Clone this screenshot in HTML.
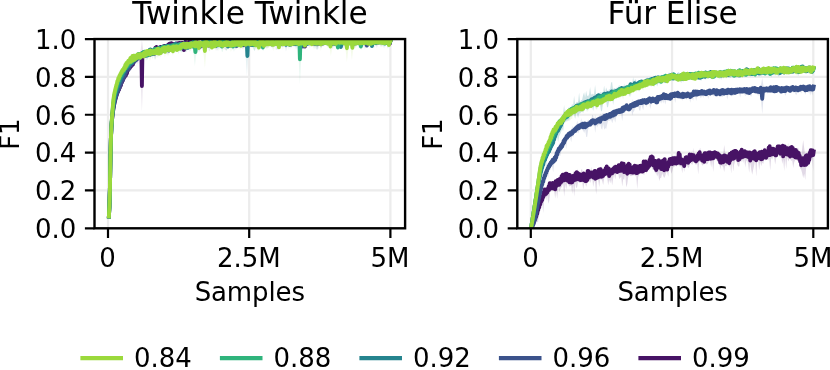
<!DOCTYPE html>
<html><head><meta charset="utf-8"><title>F1 vs Samples</title>
<style>html,body{margin:0;padding:0;background:#fff;}svg{display:block;}</style>
</head><body>
<svg width="830" height="370" viewBox="0 0 830 370" font-family="'DejaVu Sans', 'Liberation Sans', sans-serif" fill="#000">
<rect width="830" height="370" fill="#fff"/>
<defs>
<clipPath id="c0"><rect x="94.5" y="39.05" width="310.6" height="189.25"/></clipPath>
<clipPath id="c1"><rect x="517.3" y="39.05" width="310.6" height="189.25"/></clipPath>
</defs>
<path d="M108.00,39.05V228.3M249.20,39.05V228.3M390.40,39.05V228.3M94.5,190.45H405.1M94.5,152.60H405.1M94.5,114.75H405.1M94.5,76.90H405.1" stroke="#ececec" stroke-width="2.2" fill="none"/>
<g clip-path="url(#c0)">
<path d="M108.9,213.3 109.9,186.0 110.9,137.4 111.9,118.1 112.9,110.4 113.9,104.6 114.9,100.3 115.9,96.6 116.9,92.7 117.9,90.5 118.9,88.5 119.9,85.5 120.9,82.8 121.9,80.4 122.9,78.6 123.9,76.4 124.9,75.6 125.9,74.0 126.9,72.0 127.9,69.2 128.9,66.8 129.9,66.4 130.9,65.2 131.9,64.1 132.9,62.6 133.9,61.1 134.9,59.1 135.9,57.0 136.9,57.1 137.9,56.7 138.9,56.3 139.9,55.5 140.9,48.1 141.9,40.0 142.9,47.4 143.9,53.0 144.9,53.7 145.9,53.0 146.9,52.0 147.9,52.7 148.9,50.8 149.9,51.2 150.9,49.6 151.9,51.7 152.9,51.4 153.9,50.4 154.9,50.8 155.9,49.8 156.9,47.3 157.9,48.4 158.9,48.2 159.9,49.5 160.9,46.8 161.9,47.5 162.9,46.8 163.9,45.4 164.9,46.1 165.9,46.5 166.9,46.0 167.9,45.7 168.9,45.6 169.9,44.7 170.9,45.0 171.9,43.9 172.9,43.7 173.9,45.2 174.9,45.4 175.9,45.4 176.9,45.1 177.9,43.3 178.9,44.0 179.9,43.0 180.9,44.2 181.9,43.9 182.9,43.8 183.9,48.8 184.9,42.5 185.9,43.8 186.9,42.6 187.9,44.3 188.9,43.4 189.9,43.2 190.9,43.1 191.9,42.7 192.9,43.4 193.9,43.2 194.9,43.3 195.9,44.2 196.9,43.5 197.9,42.8 198.9,41.1 199.9,43.5 200.9,43.9 201.9,43.5 202.9,43.5 203.9,42.9 204.9,43.5 205.9,44.2 206.9,43.7 207.9,42.5 208.9,44.0 209.9,43.1 210.9,43.0 211.9,42.2 212.9,41.6 213.9,42.4 214.9,42.6 215.9,42.0 216.9,42.6 217.9,41.7 218.9,42.4 219.9,42.8 220.9,42.7 221.9,42.4 222.9,41.9 223.9,43.3 224.9,43.6 225.9,43.1 226.9,43.4 227.9,42.1 228.9,42.7 229.9,42.0 230.9,41.8 231.9,41.3 232.9,42.2 233.9,41.8 234.9,42.9 235.9,42.5 236.9,43.3 237.9,42.5 238.9,42.7 239.9,41.6 240.9,42.5 241.9,42.0 242.9,43.4 243.9,42.9 244.9,41.3 245.9,41.4 246.9,41.3 247.9,42.1 248.9,41.3 249.9,42.6 250.9,43.1 251.9,41.8 252.9,43.0 253.9,42.3 254.9,42.8 255.9,42.4 256.9,42.8 257.9,42.3 258.9,42.8 259.9,42.5 260.9,42.5 261.9,43.1 262.9,42.3 263.9,42.1 264.9,40.6 265.9,41.7 266.9,41.3 267.9,42.4 268.9,42.1 269.9,41.7 270.9,42.1 271.9,42.3 272.9,42.8 273.9,42.5 274.9,41.4 275.9,42.5 276.9,42.1 277.9,43.0 278.9,42.0 279.9,42.0 280.9,40.9 281.9,42.2 282.9,41.4 283.9,41.8 284.9,41.4 285.9,41.6 286.9,41.6 287.9,42.3 288.9,42.0 289.9,39.2 290.9,39.2 291.9,40.0 292.9,41.7 293.9,41.6 294.9,41.1 295.9,40.1 296.9,41.1 297.9,40.8 298.9,41.9 299.9,42.4 300.9,42.0 301.9,41.9 302.9,41.8 303.9,41.0 304.9,44.9 305.9,41.4 306.9,41.4 307.9,41.5 308.9,41.0 309.9,41.1 310.9,40.9 311.9,41.4 312.9,42.3 313.9,40.8 314.9,41.7 315.9,40.2 316.9,42.0 317.9,41.5 318.9,40.7 319.9,41.3 320.9,40.7 321.9,40.4 322.9,40.8 323.9,41.0 324.9,39.7 325.9,40.5 326.9,39.6 327.9,40.6 328.9,41.4 329.9,41.5 330.9,41.8 331.9,41.3 332.9,39.5 333.9,41.2 334.9,41.9 335.9,41.2 336.9,40.2 337.9,39.7 338.9,40.4 339.9,40.7 340.9,40.3 341.9,38.9 342.9,40.6 343.9,39.4 344.9,39.3 345.9,40.7 346.9,41.1 347.9,40.7 348.9,41.7 349.9,40.6 350.9,40.1 351.9,39.2 352.9,40.5 353.9,40.8 354.9,41.4 355.9,40.5 356.9,41.0 357.9,41.2 358.9,40.6 359.9,39.8 360.9,39.8 361.9,40.5 362.9,40.5 363.9,40.6 364.9,40.7 365.9,41.1 366.9,41.1 367.9,40.4 368.9,40.5 369.9,39.5 370.9,40.9 371.9,40.8 372.9,41.0 373.9,40.9 374.9,40.3 375.9,39.8 376.9,40.2 377.9,40.6 378.9,40.6 379.9,40.3 380.9,40.6 381.9,40.7 382.9,40.1 383.9,39.0 384.9,39.9 385.9,38.9 386.9,41.2 387.9,40.6 388.9,40.6 389.9,40.4 389.9,44.7 388.9,44.9 387.9,43.6 386.9,43.8 385.9,44.5 384.9,44.4 383.9,43.5 382.9,43.1 381.9,43.3 380.9,47.3 379.9,42.9 378.9,43.5 377.9,44.6 376.9,47.9 375.9,45.0 374.9,43.3 373.9,43.8 372.9,45.2 371.9,44.8 370.9,43.6 369.9,45.5 368.9,43.5 367.9,42.9 366.9,43.7 365.9,45.0 364.9,43.6 363.9,44.2 362.9,46.9 361.9,43.4 360.9,44.1 359.9,43.1 358.9,44.9 357.9,45.2 356.9,45.0 355.9,44.0 354.9,44.0 353.9,44.2 352.9,47.2 351.9,48.3 350.9,43.4 349.9,44.1 348.9,44.8 347.9,44.9 346.9,44.0 345.9,48.6 344.9,45.8 343.9,43.6 342.9,44.8 341.9,46.9 340.9,44.0 339.9,43.5 338.9,45.3 337.9,43.0 336.9,45.2 335.9,45.3 334.9,45.3 333.9,46.2 332.9,44.7 331.9,44.6 330.9,45.0 329.9,47.5 328.9,45.8 327.9,43.8 326.9,44.1 325.9,43.9 324.9,45.7 323.9,43.6 322.9,44.2 321.9,46.7 320.9,46.4 319.9,46.6 318.9,43.8 317.9,46.9 316.9,47.0 315.9,46.5 314.9,45.6 313.9,48.0 312.9,44.8 311.9,44.8 310.9,43.6 309.9,48.5 308.9,44.1 307.9,44.3 306.9,44.1 305.9,46.4 304.9,49.8 303.9,44.8 302.9,45.0 301.9,45.3 300.9,49.5 299.9,45.3 298.9,46.6 297.9,44.1 296.9,44.1 295.9,45.0 294.9,44.9 293.9,46.0 292.9,45.5 291.9,43.7 290.9,48.9 289.9,43.5 288.9,45.9 287.9,45.0 286.9,44.9 285.9,48.5 284.9,45.3 283.9,45.8 282.9,44.4 281.9,45.1 280.9,46.3 279.9,46.0 278.9,47.0 277.9,45.6 276.9,45.9 275.9,45.5 274.9,46.2 273.9,45.5 272.9,47.7 271.9,44.8 270.9,45.9 269.9,44.3 268.9,44.9 267.9,45.5 266.9,44.2 265.9,46.6 264.9,44.9 263.9,47.3 262.9,48.8 261.9,46.6 260.9,49.0 259.9,46.7 258.9,46.4 257.9,45.3 256.9,45.2 255.9,45.2 254.9,46.9 253.9,46.7 252.9,45.5 251.9,45.6 250.9,46.3 249.9,46.5 248.9,45.3 247.9,48.2 246.9,44.1 245.9,46.1 244.9,48.2 243.9,47.6 242.9,49.1 241.9,46.5 240.9,47.1 239.9,45.3 238.9,46.0 237.9,45.5 236.9,49.1 235.9,45.3 234.9,48.2 233.9,45.8 232.9,45.2 231.9,45.1 230.9,46.2 229.9,44.9 228.9,46.1 227.9,45.9 226.9,46.0 225.9,46.2 224.9,46.7 223.9,47.3 222.9,45.5 221.9,45.6 220.9,47.4 219.9,45.8 218.9,45.1 217.9,45.2 216.9,46.1 215.9,46.8 214.9,45.4 213.9,45.2 212.9,45.2 211.9,46.4 210.9,45.8 209.9,47.9 208.9,47.2 207.9,47.3 206.9,47.4 205.9,48.6 204.9,46.8 203.9,46.1 202.9,51.1 201.9,46.8 200.9,48.2 199.9,46.5 198.9,47.2 197.9,47.4 196.9,46.5 195.9,48.5 194.9,46.2 193.9,45.7 192.9,48.3 191.9,46.4 190.9,45.6 189.9,46.7 188.9,47.5 187.9,50.4 186.9,45.7 185.9,51.8 184.9,46.2 183.9,53.2 182.9,48.7 181.9,48.1 180.9,47.2 179.9,46.3 178.9,46.4 177.9,47.0 176.9,48.9 175.9,48.5 174.9,49.8 173.9,50.2 172.9,47.6 171.9,48.3 170.9,49.5 169.9,48.5 168.9,48.8 167.9,48.6 166.9,48.8 165.9,50.5 164.9,50.0 163.9,49.3 162.9,49.8 161.9,52.2 160.9,53.8 159.9,52.3 158.9,56.5 157.9,50.8 156.9,54.5 155.9,52.6 154.9,54.2 153.9,55.6 152.9,56.0 151.9,54.3 150.9,54.5 149.9,53.9 148.9,54.3 147.9,55.8 146.9,56.8 145.9,57.0 144.9,57.8 143.9,58.0 142.9,83.4 141.9,112.0 140.9,84.1 139.9,59.8 138.9,60.3 137.9,64.6 136.9,62.0 135.9,61.4 134.9,64.4 133.9,66.6 132.9,66.7 131.9,66.8 130.9,68.0 129.9,69.2 128.9,71.5 127.9,75.9 126.9,74.8 125.9,77.2 124.9,78.1 123.9,80.7 122.9,83.0 121.9,88.8 120.9,86.7 119.9,89.0 118.9,92.3 117.9,93.8 116.9,97.3 115.9,99.5 114.9,103.0 113.9,107.9 112.9,114.0 111.9,124.2 110.9,142.0 109.9,191.0 108.9,218.1Z" fill="#471365" fill-opacity="0.11" stroke="none"/>
<path d="M108.9,215.3 109.9,187.9 110.9,136.9 111.9,119.7 112.9,110.7 113.9,104.3 114.9,99.3 115.9,96.0 116.9,92.9 117.9,89.8 118.9,87.7 119.9,84.9 120.9,82.5 121.9,79.6 122.9,78.2 123.9,75.8 124.9,73.7 125.9,71.4 126.9,69.0 127.9,67.4 128.9,67.6 129.9,64.5 130.9,64.2 131.9,62.0 132.9,61.8 133.9,58.8 134.9,59.9 135.9,58.1 136.9,57.8 137.9,56.5 138.9,55.4 139.9,54.6 140.9,54.6 141.9,55.1 142.9,54.7 143.9,53.9 144.9,54.6 145.9,53.6 146.9,53.4 147.9,52.7 148.9,51.0 149.9,53.3 150.9,52.6 151.9,52.2 152.9,52.7 153.9,52.4 154.9,51.9 155.9,51.2 156.9,50.0 157.9,49.9 158.9,49.6 159.9,49.2 160.9,48.7 161.9,50.0 162.9,48.0 163.9,47.2 164.9,48.1 165.9,48.1 166.9,47.5 167.9,47.1 168.9,49.3 169.9,46.8 170.9,46.9 171.9,46.4 172.9,47.5 173.9,47.7 174.9,47.2 175.9,46.0 176.9,47.1 177.9,46.3 178.9,45.9 179.9,46.4 180.9,46.2 181.9,46.3 182.9,44.7 183.9,44.1 184.9,43.3 185.9,46.3 186.9,45.7 187.9,44.5 188.9,44.7 189.9,43.9 190.9,44.5 191.9,43.8 192.9,43.9 193.9,44.8 194.9,43.9 195.9,43.5 196.9,43.1 197.9,43.5 198.9,43.3 199.9,45.6 200.9,44.7 201.9,43.6 202.9,43.8 203.9,44.8 204.9,44.8 205.9,42.4 206.9,43.6 207.9,43.4 208.9,42.4 209.9,43.7 210.9,42.8 211.9,42.3 212.9,41.5 213.9,42.4 214.9,42.9 215.9,42.8 216.9,43.2 217.9,42.4 218.9,42.4 219.9,42.8 220.9,42.0 221.9,43.1 222.9,43.1 223.9,42.5 224.9,42.5 225.9,42.3 226.9,41.8 227.9,42.2 228.9,41.6 229.9,41.9 230.9,43.4 231.9,43.4 232.9,41.4 233.9,42.3 234.9,42.9 235.9,44.4 236.9,44.7 237.9,43.8 238.9,42.4 239.9,41.3 240.9,40.9 241.9,42.9 242.9,43.3 243.9,43.5 244.9,42.6 245.9,41.5 246.9,43.0 247.9,42.7 248.9,42.1 249.9,42.0 250.9,42.4 251.9,42.2 252.9,43.6 253.9,41.7 254.9,42.6 255.9,41.9 256.9,41.6 257.9,40.1 258.9,40.8 259.9,41.7 260.9,41.6 261.9,42.3 262.9,42.3 263.9,42.3 264.9,41.6 265.9,42.5 266.9,40.1 267.9,42.6 268.9,41.3 269.9,41.2 270.9,42.2 271.9,41.2 272.9,42.3 273.9,42.0 274.9,39.9 275.9,42.0 276.9,41.2 277.9,41.0 278.9,41.8 279.9,40.4 280.9,42.2 281.9,43.1 282.9,42.2 283.9,42.4 284.9,40.2 285.9,40.8 286.9,41.6 287.9,42.1 288.9,41.8 289.9,43.0 290.9,42.7 291.9,42.3 292.9,41.8 293.9,42.4 294.9,42.5 295.9,41.8 296.9,41.7 297.9,41.3 298.9,41.2 299.9,41.4 300.9,42.8 301.9,42.0 302.9,45.2 303.9,41.9 304.9,42.5 305.9,41.8 306.9,40.8 307.9,42.0 308.9,41.9 309.9,41.5 310.9,41.4 311.9,40.6 312.9,40.4 313.9,40.9 314.9,40.3 315.9,39.4 316.9,40.4 317.9,41.8 318.9,40.7 319.9,42.5 320.9,40.5 321.9,41.8 322.9,42.1 323.9,41.1 324.9,39.7 325.9,40.2 326.9,41.5 327.9,40.7 328.9,40.3 329.9,41.4 330.9,41.5 331.9,42.9 332.9,42.0 333.9,41.6 334.9,41.1 335.9,41.4 336.9,41.1 337.9,40.0 338.9,40.6 339.9,41.0 340.9,41.4 341.9,41.2 342.9,41.3 343.9,41.6 344.9,41.2 345.9,40.6 346.9,40.0 347.9,40.4 348.9,40.3 349.9,40.7 350.9,40.7 351.9,41.4 352.9,41.4 353.9,42.1 354.9,40.8 355.9,41.6 356.9,41.0 357.9,40.6 358.9,41.0 359.9,40.7 360.9,41.3 361.9,39.8 362.9,39.7 363.9,41.9 364.9,41.9 365.9,42.2 366.9,43.1 367.9,41.1 368.9,40.4 369.9,41.3 370.9,40.7 371.9,40.5 372.9,40.4 373.9,40.1 374.9,40.8 375.9,41.7 376.9,41.3 377.9,40.7 378.9,40.3 379.9,40.1 380.9,40.4 381.9,40.4 382.9,39.4 383.9,40.1 384.9,39.1 385.9,40.6 386.9,41.7 387.9,40.7 388.9,40.5 389.9,39.2 389.9,44.3 388.9,48.3 387.9,43.7 386.9,45.1 385.9,43.1 384.9,44.0 383.9,48.2 382.9,45.2 381.9,45.3 380.9,43.0 379.9,43.0 378.9,44.2 377.9,43.4 376.9,44.5 375.9,46.5 374.9,43.3 373.9,44.2 372.9,43.1 371.9,46.5 370.9,46.6 369.9,44.1 368.9,43.6 367.9,43.8 366.9,46.7 365.9,45.3 364.9,49.7 363.9,44.4 362.9,44.2 361.9,44.2 360.9,43.8 359.9,43.2 358.9,43.5 357.9,43.7 356.9,43.8 355.9,48.0 354.9,46.1 353.9,46.9 352.9,46.8 351.9,47.0 350.9,44.4 349.9,43.4 348.9,46.8 347.9,43.1 346.9,43.8 345.9,43.7 344.9,44.1 343.9,49.4 342.9,46.1 341.9,48.4 340.9,43.9 339.9,45.7 338.9,43.2 337.9,43.0 336.9,45.8 335.9,43.9 334.9,43.5 333.9,45.8 332.9,48.0 331.9,49.3 330.9,44.9 329.9,43.9 328.9,44.6 327.9,43.9 326.9,44.2 325.9,44.4 324.9,45.6 323.9,44.5 322.9,44.9 321.9,47.6 320.9,48.2 319.9,44.9 318.9,44.7 317.9,49.4 316.9,49.3 315.9,43.6 314.9,44.4 313.9,43.5 312.9,45.6 311.9,46.5 310.9,43.9 309.9,45.4 308.9,44.5 307.9,44.6 306.9,44.6 305.9,47.0 304.9,45.9 303.9,45.2 302.9,48.6 301.9,45.5 300.9,45.2 299.9,49.6 298.9,46.4 297.9,45.0 296.9,45.0 295.9,49.2 294.9,45.3 293.9,47.7 292.9,45.1 291.9,48.1 290.9,45.8 289.9,46.9 288.9,45.2 287.9,45.1 286.9,47.9 285.9,44.0 284.9,43.7 283.9,47.3 282.9,45.2 281.9,46.2 280.9,45.6 279.9,48.4 278.9,46.6 277.9,49.4 276.9,49.5 275.9,49.9 274.9,44.3 273.9,45.7 272.9,45.3 271.9,47.0 270.9,45.1 269.9,46.2 268.9,44.1 267.9,48.5 266.9,46.2 265.9,48.2 264.9,44.5 263.9,45.7 262.9,46.3 261.9,45.6 260.9,45.2 259.9,44.8 258.9,44.8 257.9,43.9 256.9,45.0 255.9,46.5 254.9,45.2 253.9,45.4 252.9,47.6 251.9,47.6 250.9,45.2 249.9,44.8 248.9,45.3 247.9,48.5 246.9,46.3 245.9,48.3 244.9,46.9 243.9,46.8 242.9,46.0 241.9,47.5 240.9,43.8 239.9,44.1 238.9,45.8 237.9,46.5 236.9,47.8 235.9,49.2 234.9,45.7 233.9,46.0 232.9,50.2 231.9,47.7 230.9,47.5 229.9,47.7 228.9,45.7 227.9,45.2 226.9,49.9 225.9,50.3 224.9,49.7 223.9,46.1 222.9,48.9 221.9,47.0 220.9,45.1 219.9,46.3 218.9,45.6 217.9,49.6 216.9,50.9 215.9,47.5 214.9,47.3 213.9,45.1 212.9,43.9 211.9,47.7 210.9,45.6 209.9,51.5 208.9,46.5 207.9,46.4 206.9,50.6 205.9,46.8 204.9,47.8 203.9,48.0 202.9,46.7 201.9,46.7 200.9,47.6 199.9,51.2 198.9,51.5 197.9,46.1 196.9,46.4 195.9,46.7 194.9,46.4 193.9,47.7 192.9,47.5 191.9,46.9 190.9,46.9 189.9,47.8 188.9,49.4 187.9,47.7 186.9,49.4 185.9,52.6 184.9,48.2 183.9,47.6 182.9,51.0 181.9,49.1 180.9,52.0 179.9,49.1 178.9,49.0 177.9,50.7 176.9,50.1 175.9,51.5 174.9,51.8 173.9,51.4 172.9,51.4 171.9,52.1 170.9,50.1 169.9,50.2 168.9,54.0 167.9,52.1 166.9,55.1 165.9,52.3 164.9,50.6 163.9,51.6 162.9,54.7 161.9,52.4 160.9,52.5 159.9,55.1 158.9,52.9 157.9,53.4 156.9,53.5 155.9,58.3 154.9,59.9 153.9,55.4 152.9,56.1 151.9,55.4 150.9,56.2 149.9,56.3 148.9,54.5 147.9,55.8 146.9,57.7 145.9,57.8 144.9,57.5 143.9,56.8 142.9,57.3 141.9,61.1 140.9,57.3 139.9,58.1 138.9,58.5 137.9,59.3 136.9,62.6 135.9,63.7 134.9,62.6 133.9,65.9 132.9,64.4 131.9,66.5 130.9,68.2 129.9,71.5 128.9,72.4 127.9,70.8 126.9,75.5 125.9,74.1 124.9,76.5 123.9,82.9 122.9,82.0 121.9,86.5 120.9,85.9 119.9,88.2 118.9,91.7 117.9,93.7 116.9,95.5 115.9,98.6 114.9,103.0 113.9,107.5 112.9,116.7 111.9,122.4 110.9,142.0 109.9,191.1 108.9,218.9Z" fill="#3b528b" fill-opacity="0.11" stroke="none"/>
<path d="M108.9,215.2 109.9,187.8 110.9,135.6 111.9,118.6 112.9,107.4 113.9,100.6 114.9,94.0 115.9,90.6 116.9,88.3 117.9,85.0 118.9,82.2 119.9,79.7 120.9,77.3 121.9,73.6 122.9,72.6 123.9,70.0 124.9,68.6 125.9,66.4 126.9,66.0 127.9,64.2 128.9,62.6 129.9,62.0 130.9,62.2 131.9,61.6 132.9,58.5 133.9,57.9 134.9,57.5 135.9,56.8 136.9,56.5 137.9,56.2 138.9,56.8 139.9,56.9 140.9,54.5 141.9,53.9 142.9,54.4 143.9,53.6 144.9,52.5 145.9,51.8 146.9,53.9 147.9,53.5 148.9,50.6 149.9,51.6 150.9,52.2 151.9,51.9 152.9,52.0 153.9,50.7 154.9,50.5 155.9,51.0 156.9,50.3 157.9,50.4 158.9,49.8 159.9,49.6 160.9,49.0 161.9,49.0 162.9,48.9 163.9,47.9 164.9,48.2 165.9,48.5 166.9,46.7 167.9,47.1 168.9,46.0 169.9,46.6 170.9,45.6 171.9,46.3 172.9,46.3 173.9,44.8 174.9,47.1 175.9,46.9 176.9,46.8 177.9,46.3 178.9,45.5 179.9,45.6 180.9,43.9 181.9,45.5 182.9,44.8 183.9,44.5 184.9,44.6 185.9,44.9 186.9,44.5 187.9,46.5 188.9,45.7 189.9,45.3 190.9,45.1 191.9,43.2 192.9,42.9 193.9,42.8 194.9,43.7 195.9,43.9 196.9,43.7 197.9,44.3 198.9,43.8 199.9,44.3 200.9,43.3 201.9,42.5 202.9,41.0 203.9,42.4 204.9,42.8 205.9,43.5 206.9,42.3 207.9,41.8 208.9,42.9 209.9,43.5 210.9,43.4 211.9,43.6 212.9,43.4 213.9,44.6 214.9,42.5 215.9,43.5 216.9,43.9 217.9,43.4 218.9,43.1 219.9,43.7 220.9,43.3 221.9,43.8 222.9,42.7 223.9,42.4 224.9,41.7 225.9,42.7 226.9,41.5 227.9,44.9 228.9,44.3 229.9,44.5 230.9,42.6 231.9,43.0 232.9,42.4 233.9,42.9 234.9,40.9 235.9,41.6 236.9,41.4 237.9,42.6 238.9,41.8 239.9,42.2 240.9,41.7 241.9,42.0 242.9,40.4 243.9,40.3 244.9,42.2 245.9,41.9 246.9,40.0 247.9,41.9 248.9,42.1 249.9,41.9 250.9,43.4 251.9,42.7 252.9,42.9 253.9,43.8 254.9,43.2 255.9,41.1 256.9,41.4 257.9,41.0 258.9,42.4 259.9,43.7 260.9,43.1 261.9,43.0 262.9,41.7 263.9,42.3 264.9,40.6 265.9,41.6 266.9,41.9 267.9,41.4 268.9,42.0 269.9,41.6 270.9,41.9 271.9,41.0 272.9,42.7 273.9,42.3 274.9,42.6 275.9,41.2 276.9,42.1 277.9,42.3 278.9,41.2 279.9,41.4 280.9,41.2 281.9,42.2 282.9,40.1 283.9,41.5 284.9,40.9 285.9,43.1 286.9,42.7 287.9,42.0 288.9,41.5 289.9,43.2 290.9,43.0 291.9,42.7 292.9,42.9 293.9,42.4 294.9,41.7 295.9,42.5 296.9,42.4 297.9,41.9 298.9,41.8 299.9,41.7 300.9,42.0 301.9,42.3 302.9,42.1 303.9,40.8 304.9,41.2 305.9,42.2 306.9,42.7 307.9,41.5 308.9,40.2 309.9,40.3 310.9,40.6 311.9,40.6 312.9,40.8 313.9,40.5 314.9,42.1 315.9,42.3 316.9,41.0 317.9,40.1 318.9,40.2 319.9,40.6 320.9,39.2 321.9,41.2 322.9,41.1 323.9,40.2 324.9,40.6 325.9,41.5 326.9,41.9 327.9,42.0 328.9,40.9 329.9,41.3 330.9,41.4 331.9,40.5 332.9,41.7 333.9,41.6 334.9,41.5 335.9,40.1 336.9,40.4 337.9,39.3 338.9,41.4 339.9,41.3 340.9,45.4 341.9,39.5 342.9,39.8 343.9,41.0 344.9,40.9 345.9,38.7 346.9,40.2 347.9,39.9 348.9,40.2 349.9,41.0 350.9,40.9 351.9,40.2 352.9,41.1 353.9,41.5 354.9,42.0 355.9,41.7 356.9,41.2 357.9,39.8 358.9,41.1 359.9,40.7 360.9,39.5 361.9,40.8 362.9,41.1 363.9,41.1 364.9,41.5 365.9,40.0 366.9,40.6 367.9,40.9 368.9,40.9 369.9,40.9 370.9,41.8 371.9,44.6 372.9,41.1 373.9,39.7 374.9,40.1 375.9,39.2 376.9,40.7 377.9,40.3 378.9,39.8 379.9,39.6 380.9,40.9 381.9,40.3 382.9,40.6 383.9,40.6 384.9,40.0 385.9,40.3 386.9,41.0 387.9,39.6 388.9,40.8 389.9,40.0 389.9,43.4 388.9,43.8 387.9,47.8 386.9,45.6 385.9,43.7 384.9,48.6 383.9,43.4 382.9,44.2 381.9,43.5 380.9,43.6 379.9,45.0 378.9,43.5 377.9,43.8 376.9,44.0 375.9,46.2 374.9,43.4 373.9,45.3 372.9,47.4 371.9,47.4 370.9,44.5 369.9,44.2 368.9,44.0 367.9,43.6 366.9,43.7 365.9,47.4 364.9,44.5 363.9,45.5 362.9,44.7 361.9,48.7 360.9,44.7 359.9,44.6 358.9,44.9 357.9,46.0 356.9,45.7 355.9,44.4 354.9,47.2 353.9,45.7 352.9,44.4 351.9,43.6 350.9,44.4 349.9,43.5 348.9,43.6 347.9,43.2 346.9,44.7 345.9,44.0 344.9,43.5 343.9,44.8 342.9,43.0 341.9,44.6 340.9,48.2 339.9,45.2 338.9,45.5 337.9,46.2 336.9,43.6 335.9,44.7 334.9,47.0 333.9,45.0 332.9,46.3 331.9,45.9 330.9,44.0 329.9,44.6 328.9,43.3 327.9,47.6 326.9,44.4 325.9,45.0 324.9,44.0 323.9,43.3 322.9,43.9 321.9,44.2 320.9,45.1 319.9,45.1 318.9,44.8 317.9,45.6 316.9,49.5 315.9,49.2 314.9,45.0 313.9,43.7 312.9,45.5 311.9,43.5 310.9,43.8 309.9,44.9 308.9,44.6 307.9,44.6 306.9,48.4 305.9,45.0 304.9,45.9 303.9,44.0 302.9,44.9 301.9,45.8 300.9,45.4 299.9,45.2 298.9,45.1 297.9,45.4 296.9,46.5 295.9,46.7 294.9,47.3 293.9,45.2 292.9,46.3 291.9,45.9 290.9,45.9 289.9,46.9 288.9,45.1 287.9,44.8 286.9,48.0 285.9,51.4 284.9,44.2 283.9,45.9 282.9,44.9 281.9,45.7 280.9,46.4 279.9,44.2 278.9,46.3 277.9,46.1 276.9,44.7 275.9,44.8 274.9,47.1 273.9,45.3 272.9,45.5 271.9,46.9 270.9,47.4 269.9,44.2 268.9,46.0 267.9,43.9 266.9,48.9 265.9,47.1 264.9,45.1 263.9,46.2 262.9,46.7 261.9,46.4 260.9,47.7 259.9,46.4 258.9,45.7 257.9,44.8 256.9,49.4 255.9,45.8 254.9,51.1 253.9,49.9 252.9,47.2 251.9,46.1 250.9,46.1 249.9,44.6 248.9,49.9 247.9,59.9 246.9,76.0 245.9,59.9 244.9,45.1 243.9,46.9 242.9,48.7 241.9,45.6 240.9,49.9 239.9,45.8 238.9,47.1 237.9,47.1 236.9,45.0 235.9,44.5 234.9,46.2 233.9,47.4 232.9,45.2 231.9,45.8 230.9,46.5 229.9,47.1 228.9,46.8 227.9,49.1 226.9,46.8 225.9,46.0 224.9,46.8 223.9,46.6 222.9,45.4 221.9,47.4 220.9,49.1 219.9,47.3 218.9,48.8 217.9,46.4 216.9,47.1 215.9,49.4 214.9,47.0 213.9,47.2 212.9,47.1 211.9,47.6 210.9,47.3 209.9,47.4 208.9,46.4 207.9,46.0 206.9,45.1 205.9,48.0 204.9,50.6 203.9,45.7 202.9,45.1 201.9,46.0 200.9,46.2 199.9,46.8 198.9,48.5 197.9,52.9 196.9,47.8 195.9,48.0 194.9,51.3 193.9,46.5 192.9,46.8 191.9,46.3 190.9,48.1 189.9,48.2 188.9,49.8 187.9,49.0 186.9,49.7 185.9,48.8 184.9,52.1 183.9,47.5 182.9,49.1 181.9,48.9 180.9,48.1 179.9,48.6 178.9,54.0 177.9,52.0 176.9,50.3 175.9,50.7 174.9,51.1 173.9,49.1 172.9,54.1 171.9,49.2 170.9,49.6 169.9,51.0 168.9,49.4 167.9,51.0 166.9,50.0 165.9,52.5 164.9,53.4 163.9,51.2 162.9,51.8 161.9,55.0 160.9,52.4 159.9,53.0 158.9,53.0 157.9,58.2 156.9,53.6 155.9,54.1 154.9,53.6 153.9,54.5 152.9,58.8 151.9,56.9 150.9,55.0 149.9,56.0 148.9,54.7 147.9,59.3 146.9,59.5 145.9,60.8 144.9,55.5 143.9,56.6 142.9,62.2 141.9,57.9 140.9,59.4 139.9,59.5 138.9,59.6 137.9,60.2 136.9,60.0 135.9,60.2 134.9,62.0 133.9,64.3 132.9,63.0 131.9,64.4 130.9,64.9 129.9,70.1 128.9,67.2 127.9,68.1 126.9,70.4 125.9,73.5 124.9,71.0 123.9,78.6 122.9,76.1 121.9,78.2 120.9,80.5 119.9,88.1 118.9,86.2 117.9,88.1 116.9,91.2 115.9,94.1 114.9,98.2 113.9,105.4 112.9,111.5 111.9,122.2 110.9,140.1 109.9,190.3 108.9,220.2Z" fill="#25848e" fill-opacity="0.11" stroke="none"/>
<path d="M108.9,215.3 109.9,186.8 110.9,136.6 111.9,117.9 112.9,106.3 113.9,97.4 114.9,91.3 115.9,87.4 116.9,85.0 117.9,81.7 118.9,78.7 119.9,75.9 120.9,74.7 121.9,72.9 122.9,70.8 123.9,69.5 124.9,66.7 125.9,65.3 126.9,64.0 127.9,63.8 128.9,63.0 129.9,61.6 130.9,61.1 131.9,58.7 132.9,58.8 133.9,58.4 134.9,58.1 135.9,57.2 136.9,55.9 137.9,55.1 138.9,53.7 139.9,55.2 140.9,54.9 141.9,54.2 142.9,54.6 143.9,52.9 144.9,51.8 145.9,53.1 146.9,53.8 147.9,53.1 148.9,52.3 149.9,51.1 150.9,52.2 151.9,52.4 152.9,52.1 153.9,50.9 154.9,50.5 155.9,50.6 156.9,48.6 157.9,49.8 158.9,50.4 159.9,49.0 160.9,49.4 161.9,48.3 162.9,49.6 163.9,48.3 164.9,48.4 165.9,46.9 166.9,48.0 167.9,48.7 168.9,47.6 169.9,46.7 170.9,47.5 171.9,47.2 172.9,46.8 173.9,45.9 174.9,46.0 175.9,45.8 176.9,44.7 177.9,45.8 178.9,45.5 179.9,46.3 180.9,46.9 181.9,46.4 182.9,45.1 183.9,44.9 184.9,46.4 185.9,45.6 186.9,45.5 187.9,45.3 188.9,43.2 189.9,44.6 190.9,43.7 191.9,44.5 192.9,43.6 193.9,43.6 194.9,40.0 195.9,43.6 196.9,45.1 197.9,45.0 198.9,44.3 199.9,42.5 200.9,43.4 201.9,43.3 202.9,43.2 203.9,43.1 204.9,43.0 205.9,43.6 206.9,42.3 207.9,42.2 208.9,43.8 209.9,41.8 210.9,41.3 211.9,44.0 212.9,43.5 213.9,43.8 214.9,43.3 215.9,43.0 216.9,41.9 217.9,42.7 218.9,43.0 219.9,43.6 220.9,43.6 221.9,44.1 222.9,42.1 223.9,41.1 224.9,41.5 225.9,43.1 226.9,42.9 227.9,42.1 228.9,42.9 229.9,43.9 230.9,41.4 231.9,43.7 232.9,43.4 233.9,44.0 234.9,43.4 235.9,43.5 236.9,43.6 237.9,43.1 238.9,42.7 239.9,42.1 240.9,43.3 241.9,43.5 242.9,42.7 243.9,41.1 244.9,42.4 245.9,41.9 246.9,41.6 247.9,42.1 248.9,42.1 249.9,41.0 250.9,41.9 251.9,41.6 252.9,42.8 253.9,43.4 254.9,42.0 255.9,42.9 256.9,43.8 257.9,43.8 258.9,43.7 259.9,42.6 260.9,41.5 261.9,41.7 262.9,45.3 263.9,42.2 264.9,41.7 265.9,41.7 266.9,41.5 267.9,41.3 268.9,40.1 269.9,41.8 270.9,41.6 271.9,41.4 272.9,42.3 273.9,41.3 274.9,40.7 275.9,41.6 276.9,41.9 277.9,41.5 278.9,39.0 279.9,40.7 280.9,41.8 281.9,42.3 282.9,40.1 283.9,41.4 284.9,41.9 285.9,41.6 286.9,42.1 287.9,41.3 288.9,41.7 289.9,40.1 290.9,40.4 291.9,39.4 292.9,41.3 293.9,40.7 294.9,41.6 295.9,40.9 296.9,42.1 297.9,41.9 298.9,41.1 299.9,40.0 300.9,41.8 301.9,42.7 302.9,40.8 303.9,41.8 304.9,41.9 305.9,41.0 306.9,40.2 307.9,41.3 308.9,41.8 309.9,40.9 310.9,40.8 311.9,41.6 312.9,40.8 313.9,41.4 314.9,41.4 315.9,41.3 316.9,41.6 317.9,41.7 318.9,41.6 319.9,40.6 320.9,42.2 321.9,41.2 322.9,39.7 323.9,41.6 324.9,41.1 325.9,40.6 326.9,40.5 327.9,41.6 328.9,41.6 329.9,41.9 330.9,40.7 331.9,40.9 332.9,41.1 333.9,40.4 334.9,42.5 335.9,42.1 336.9,41.1 337.9,45.3 338.9,41.7 339.9,41.3 340.9,41.8 341.9,41.4 342.9,42.0 343.9,41.4 344.9,41.2 345.9,41.5 346.9,41.4 347.9,41.7 348.9,41.2 349.9,41.6 350.9,41.2 351.9,39.1 352.9,39.7 353.9,40.8 354.9,41.3 355.9,41.1 356.9,40.3 357.9,40.7 358.9,40.5 359.9,39.8 360.9,45.2 361.9,41.5 362.9,41.0 363.9,40.5 364.9,40.1 365.9,40.4 366.9,40.4 367.9,39.7 368.9,40.7 369.9,41.2 370.9,40.9 371.9,40.4 372.9,40.9 373.9,40.4 374.9,41.1 375.9,41.6 376.9,41.2 377.9,41.0 378.9,40.7 379.9,40.0 380.9,38.4 381.9,40.3 382.9,41.2 383.9,39.9 384.9,40.8 385.9,39.5 386.9,41.1 387.9,39.3 388.9,41.2 389.9,41.4 389.9,44.7 388.9,45.4 387.9,49.0 386.9,45.6 385.9,43.9 384.9,44.8 383.9,44.1 382.9,45.4 381.9,47.3 380.9,44.9 379.9,42.8 378.9,43.5 377.9,44.2 376.9,43.8 375.9,44.2 374.9,46.6 373.9,48.1 372.9,46.2 371.9,45.8 370.9,45.4 369.9,45.2 368.9,43.6 367.9,44.9 366.9,44.7 365.9,42.9 364.9,44.7 363.9,47.6 362.9,44.2 361.9,44.0 360.9,47.7 359.9,47.1 358.9,48.4 357.9,43.2 356.9,45.5 355.9,45.2 354.9,44.4 353.9,44.8 352.9,44.9 351.9,44.7 350.9,47.7 349.9,45.9 348.9,44.7 347.9,47.9 346.9,44.3 345.9,49.0 344.9,47.1 343.9,44.8 342.9,45.9 341.9,45.0 340.9,45.5 339.9,47.8 338.9,46.6 337.9,48.7 336.9,44.3 335.9,45.9 334.9,45.6 333.9,43.9 332.9,45.2 331.9,45.9 330.9,44.3 329.9,44.8 328.9,44.3 327.9,46.2 326.9,44.1 325.9,43.6 324.9,43.7 323.9,45.3 322.9,44.2 321.9,46.0 320.9,45.2 319.9,44.5 318.9,45.5 317.9,49.7 316.9,44.9 315.9,44.5 314.9,49.6 313.9,44.4 312.9,44.2 311.9,47.1 310.9,43.6 309.9,43.9 308.9,44.6 307.9,45.2 306.9,44.7 305.9,45.6 304.9,46.4 303.9,45.0 302.9,45.8 301.9,46.1 300.9,63.8 299.9,84.0 298.9,63.7 297.9,44.8 296.9,50.0 295.9,46.3 294.9,44.0 293.9,45.0 292.9,44.9 291.9,43.8 290.9,44.9 289.9,45.3 288.9,49.8 287.9,44.7 286.9,46.6 285.9,47.5 284.9,46.9 283.9,44.6 282.9,44.6 281.9,45.2 280.9,44.7 279.9,43.2 278.9,43.3 277.9,48.8 276.9,46.5 275.9,44.4 274.9,47.1 273.9,45.7 272.9,50.1 271.9,45.2 270.9,44.8 269.9,46.2 268.9,44.8 267.9,44.8 266.9,44.5 265.9,44.4 264.9,44.4 263.9,50.0 262.9,51.3 261.9,44.2 260.9,46.8 259.9,47.2 258.9,46.2 257.9,47.7 256.9,46.8 255.9,46.8 254.9,50.4 253.9,50.2 252.9,46.4 251.9,45.0 250.9,45.3 249.9,44.3 248.9,47.3 247.9,46.8 246.9,45.4 245.9,45.0 244.9,44.8 243.9,46.9 242.9,45.3 241.9,47.1 240.9,45.7 239.9,46.3 238.9,46.3 237.9,46.4 236.9,46.6 235.9,49.6 234.9,49.1 233.9,51.8 232.9,48.0 231.9,47.2 230.9,45.9 229.9,47.0 228.9,46.7 227.9,45.8 226.9,50.8 225.9,50.7 224.9,45.5 223.9,45.1 222.9,51.4 221.9,51.9 220.9,46.9 219.9,46.4 218.9,51.1 217.9,47.6 216.9,45.9 215.9,50.7 214.9,46.3 213.9,47.3 212.9,48.3 211.9,49.7 210.9,45.3 209.9,47.3 208.9,51.6 207.9,45.9 206.9,48.4 205.9,47.1 204.9,51.2 203.9,46.6 202.9,45.9 201.9,46.4 200.9,48.6 199.9,49.4 198.9,46.9 197.9,47.4 196.9,52.9 195.9,56.6 194.9,66.0 193.9,56.6 192.9,47.1 191.9,47.1 190.9,46.5 189.9,52.2 188.9,48.0 187.9,47.9 186.9,51.5 185.9,51.8 184.9,50.2 183.9,48.1 182.9,49.3 181.9,52.4 180.9,52.4 179.9,48.9 178.9,47.9 177.9,51.2 176.9,51.4 175.9,49.6 174.9,49.3 173.9,48.5 172.9,50.1 171.9,50.6 170.9,50.4 169.9,49.4 168.9,51.3 167.9,54.4 166.9,51.6 165.9,51.1 164.9,53.7 163.9,52.7 162.9,52.7 161.9,54.0 160.9,52.0 159.9,56.4 158.9,53.7 157.9,54.6 156.9,54.6 155.9,54.1 154.9,58.7 153.9,53.4 152.9,54.5 151.9,57.0 150.9,56.4 149.9,55.9 148.9,55.9 147.9,55.9 146.9,57.3 145.9,55.8 144.9,55.1 143.9,56.4 142.9,57.0 141.9,58.1 140.9,58.1 139.9,57.7 138.9,57.5 137.9,61.6 136.9,58.6 135.9,64.5 134.9,61.0 133.9,61.4 132.9,61.8 131.9,62.9 130.9,63.6 129.9,65.3 128.9,65.7 127.9,67.2 126.9,68.6 125.9,69.7 124.9,69.8 123.9,77.7 122.9,77.0 121.9,75.9 120.9,78.9 119.9,80.1 118.9,82.0 117.9,84.8 116.9,88.8 115.9,93.1 114.9,96.6 113.9,101.2 112.9,110.8 111.9,121.0 110.9,140.2 109.9,190.7 108.9,218.0Z" fill="#2fb47c" fill-opacity="0.11" stroke="none"/>
<path d="M108.9,215.0 109.9,187.6 110.9,136.0 111.9,117.2 112.9,104.1 113.9,94.4 114.9,89.2 115.9,85.6 116.9,81.7 117.9,79.4 118.9,77.3 119.9,73.8 120.9,72.6 121.9,71.1 122.9,69.5 123.9,68.8 124.9,66.8 125.9,65.5 126.9,64.1 127.9,61.7 128.9,61.3 129.9,59.3 130.9,58.7 131.9,58.3 132.9,59.0 133.9,58.3 134.9,57.8 135.9,57.2 136.9,56.8 137.9,56.2 138.9,55.8 139.9,56.6 140.9,55.8 141.9,54.6 142.9,54.1 143.9,55.2 144.9,53.2 145.9,52.3 146.9,53.3 147.9,50.2 148.9,52.3 149.9,52.9 150.9,52.3 151.9,52.1 152.9,51.6 153.9,51.7 154.9,51.5 155.9,51.8 156.9,51.4 157.9,51.3 158.9,52.1 159.9,51.0 160.9,50.3 161.9,49.2 162.9,49.0 163.9,49.4 164.9,50.7 165.9,48.0 166.9,46.8 167.9,48.3 168.9,49.0 169.9,48.4 170.9,48.0 171.9,47.9 172.9,49.2 173.9,47.7 174.9,48.2 175.9,47.6 176.9,47.3 177.9,47.0 178.9,47.2 179.9,47.2 180.9,46.2 181.9,45.2 182.9,44.7 183.9,44.4 184.9,45.6 185.9,45.8 186.9,44.8 187.9,45.4 188.9,45.1 189.9,45.6 190.9,45.1 191.9,42.4 192.9,42.4 193.9,42.8 194.9,45.0 195.9,44.8 196.9,42.7 197.9,43.7 198.9,46.5 199.9,43.6 200.9,43.8 201.9,44.0 202.9,44.4 203.9,43.0 204.9,40.0 205.9,42.6 206.9,43.4 207.9,44.3 208.9,43.4 209.9,44.1 210.9,44.2 211.9,46.3 212.9,43.9 213.9,45.1 214.9,44.3 215.9,43.7 216.9,43.1 217.9,42.9 218.9,43.5 219.9,43.8 220.9,43.5 221.9,42.2 222.9,44.0 223.9,43.3 224.9,42.9 225.9,43.2 226.9,44.0 227.9,41.5 228.9,43.6 229.9,44.2 230.9,44.3 231.9,44.2 232.9,43.8 233.9,43.8 234.9,43.7 235.9,43.5 236.9,42.0 237.9,41.4 238.9,42.8 239.9,42.7 240.9,42.8 241.9,42.3 242.9,42.6 243.9,40.7 244.9,43.1 245.9,43.4 246.9,42.3 247.9,40.5 248.9,42.2 249.9,41.3 250.9,42.2 251.9,41.9 252.9,42.1 253.9,42.5 254.9,43.1 255.9,43.9 256.9,42.7 257.9,43.3 258.9,46.0 259.9,40.4 260.9,40.7 261.9,42.6 262.9,43.2 263.9,44.4 264.9,43.1 265.9,42.4 266.9,42.6 267.9,42.7 268.9,42.9 269.9,42.8 270.9,41.6 271.9,43.4 272.9,43.2 273.9,43.2 274.9,42.5 275.9,42.9 276.9,42.5 277.9,42.8 278.9,45.7 279.9,41.4 280.9,42.5 281.9,42.5 282.9,42.6 283.9,42.7 284.9,42.9 285.9,42.2 286.9,42.5 287.9,42.4 288.9,42.8 289.9,43.3 290.9,42.9 291.9,42.3 292.9,42.7 293.9,40.3 294.9,41.5 295.9,41.9 296.9,42.4 297.9,41.2 298.9,43.0 299.9,41.3 300.9,42.1 301.9,41.8 302.9,41.2 303.9,40.9 304.9,44.2 305.9,41.4 306.9,41.5 307.9,41.4 308.9,41.3 309.9,40.2 310.9,42.5 311.9,43.0 312.9,41.9 313.9,41.8 314.9,41.8 315.9,42.2 316.9,42.0 317.9,41.9 318.9,41.3 319.9,42.3 320.9,42.8 321.9,42.1 322.9,40.4 323.9,41.5 324.9,41.2 325.9,41.6 326.9,41.2 327.9,40.8 328.9,41.6 329.9,41.7 330.9,40.0 331.9,41.6 332.9,40.1 333.9,41.5 334.9,42.2 335.9,42.6 336.9,41.4 337.9,40.4 338.9,40.6 339.9,40.7 340.9,40.1 341.9,40.9 342.9,41.1 343.9,41.4 344.9,40.5 345.9,41.1 346.9,40.0 347.9,40.9 348.9,41.3 349.9,40.5 350.9,41.7 351.9,40.0 352.9,41.8 353.9,42.4 354.9,40.8 355.9,41.1 356.9,41.9 357.9,40.8 358.9,40.8 359.9,42.0 360.9,42.0 361.9,40.6 362.9,41.5 363.9,41.4 364.9,41.7 365.9,40.9 366.9,41.7 367.9,41.6 368.9,42.1 369.9,41.7 370.9,40.8 371.9,41.6 372.9,41.2 373.9,41.4 374.9,41.1 375.9,40.9 376.9,40.9 377.9,41.4 378.9,39.9 379.9,41.3 380.9,40.8 381.9,41.4 382.9,41.4 383.9,41.7 384.9,41.6 385.9,41.6 386.9,39.9 387.9,41.8 388.9,43.7 389.9,40.9 389.9,43.9 388.9,46.5 387.9,46.3 386.9,44.2 385.9,46.1 384.9,45.6 383.9,44.6 382.9,45.0 381.9,44.9 380.9,47.1 379.9,44.8 378.9,44.9 377.9,44.8 376.9,43.5 375.9,43.7 374.9,43.9 373.9,44.1 372.9,44.8 371.9,45.1 370.9,46.8 369.9,46.0 368.9,45.0 367.9,45.5 366.9,45.4 365.9,43.6 364.9,45.8 363.9,45.4 362.9,45.3 361.9,49.6 360.9,49.8 359.9,45.9 358.9,44.1 357.9,44.9 356.9,44.8 355.9,48.4 354.9,44.4 353.9,46.5 352.9,51.8 351.9,60.0 350.9,51.7 349.9,44.8 348.9,45.4 347.9,53.0 346.9,62.0 345.9,52.5 344.9,45.3 343.9,44.5 342.9,45.0 341.9,44.5 340.9,44.4 339.9,44.6 338.9,46.2 337.9,44.4 336.9,44.5 335.9,46.9 334.9,44.7 333.9,49.5 332.9,44.5 331.9,49.8 330.9,56.0 329.9,49.7 328.9,44.3 327.9,47.9 326.9,43.9 325.9,44.3 324.9,45.4 323.9,46.8 322.9,45.3 321.9,46.0 320.9,50.9 319.9,46.4 318.9,45.3 317.9,46.0 316.9,45.3 315.9,47.3 314.9,45.5 313.9,49.7 312.9,44.5 311.9,45.9 310.9,45.7 309.9,43.8 308.9,44.7 307.9,43.9 306.9,46.1 305.9,45.4 304.9,46.7 303.9,44.4 302.9,44.8 301.9,45.0 300.9,45.1 299.9,46.1 298.9,46.1 297.9,46.4 296.9,45.9 295.9,44.7 294.9,45.8 293.9,45.0 292.9,45.8 291.9,46.3 290.9,46.3 289.9,46.4 288.9,46.8 287.9,46.6 286.9,45.1 285.9,45.5 284.9,45.4 283.9,46.3 282.9,49.8 281.9,46.7 280.9,45.9 279.9,45.2 278.9,50.0 277.9,45.6 276.9,45.4 275.9,45.7 274.9,45.2 273.9,51.2 272.9,47.5 271.9,47.4 270.9,45.6 269.9,45.4 268.9,48.1 267.9,48.1 266.9,48.8 265.9,45.9 264.9,48.4 263.9,47.5 262.9,47.0 261.9,47.1 260.9,44.1 259.9,43.9 258.9,49.9 257.9,51.3 256.9,47.5 255.9,49.6 254.9,45.9 253.9,48.7 252.9,46.5 251.9,48.2 250.9,45.8 249.9,45.8 248.9,45.6 247.9,47.2 246.9,45.6 245.9,46.0 244.9,48.0 243.9,45.0 242.9,48.9 241.9,45.7 240.9,47.2 239.9,48.7 238.9,48.5 237.9,45.7 236.9,49.2 235.9,46.4 234.9,47.2 233.9,46.4 232.9,46.3 231.9,48.4 230.9,52.1 229.9,47.6 228.9,49.1 227.9,46.2 226.9,46.5 225.9,46.1 224.9,49.9 223.9,48.6 222.9,49.8 221.9,47.3 220.9,47.4 219.9,46.4 218.9,47.5 217.9,46.1 216.9,46.2 215.9,46.7 214.9,47.6 213.9,47.7 212.9,48.8 211.9,49.3 210.9,46.7 209.9,51.4 208.9,49.9 207.9,46.9 206.9,46.4 205.9,56.6 204.9,68.0 203.9,57.0 202.9,49.0 201.9,48.0 200.9,47.4 199.9,47.3 198.9,51.0 197.9,46.8 196.9,51.5 195.9,48.6 194.9,47.4 193.9,46.8 192.9,48.4 191.9,47.0 190.9,50.6 189.9,50.8 188.9,48.1 187.9,49.0 186.9,50.3 185.9,50.0 184.9,49.3 183.9,47.8 182.9,47.5 181.9,48.9 180.9,50.9 179.9,51.1 178.9,50.1 177.9,49.8 176.9,52.0 175.9,50.1 174.9,53.6 173.9,51.0 172.9,55.7 171.9,51.0 170.9,51.8 169.9,52.8 168.9,54.8 167.9,56.0 166.9,51.7 165.9,53.2 164.9,57.5 163.9,51.9 162.9,51.9 161.9,53.4 160.9,57.4 159.9,55.9 158.9,54.8 157.9,57.0 156.9,54.7 155.9,59.6 154.9,54.3 153.9,56.3 152.9,55.5 151.9,54.7 150.9,58.2 149.9,61.0 148.9,55.7 147.9,59.9 146.9,56.7 145.9,57.2 144.9,56.1 143.9,58.0 142.9,58.2 141.9,57.3 140.9,59.2 139.9,59.4 138.9,58.4 137.9,59.1 136.9,59.8 135.9,60.1 134.9,63.0 133.9,63.0 132.9,63.4 131.9,62.3 130.9,63.1 129.9,66.2 128.9,63.8 127.9,65.2 126.9,69.8 125.9,68.1 124.9,70.7 123.9,72.3 122.9,74.8 121.9,73.7 120.9,76.1 119.9,78.7 118.9,83.9 117.9,82.6 116.9,85.4 115.9,90.1 114.9,92.5 113.9,99.7 112.9,109.3 111.9,120.4 110.9,141.3 109.9,190.3 108.9,217.9Z" fill="#9bd93c" fill-opacity="0.11" stroke="none"/>
<polyline points="108.9,216.4 109.4,206.3 109.9,189.2 110.4,159.8 110.9,138.6 111.4,127.5 111.9,121.2 112.4,116.0 112.9,112.4 113.4,108.8 113.9,106.5 114.4,103.5 114.9,101.6 115.4,99.3 115.9,97.9 116.4,95.7 116.9,94.5 117.4,92.6 117.9,92.0 118.4,90.4 118.9,89.9 119.4,88.0 119.9,87.6 120.4,85.2 120.9,85.3 121.4,82.6 121.9,82.5 122.4,80.1 122.9,80.5 123.4,77.9 123.9,78.2 124.4,76.0 124.9,76.8 125.4,73.8 125.9,75.4 126.4,71.1 126.9,73.6 127.4,69.4 127.9,70.6 128.4,68.4 128.9,68.8 129.4,66.4 129.9,68.0 130.4,64.4 130.9,66.7 131.4,63.4 131.9,65.5 132.4,61.1 132.9,64.4 133.4,60.1 133.9,62.3 134.4,58.9 134.9,60.5 135.4,58.4 135.9,60.1 136.4,56.9 136.9,59.3 137.4,56.3 137.9,58.0 138.4,55.0 138.9,57.7 139.4,54.8 139.9,56.9 140.4,54.9 140.9,56.3 141.4,54.4 141.9,86.0 142.4,53.4 142.9,54.8 143.4,52.6 143.9,55.9 144.4,52.9 144.9,54.9 145.4,53.1 145.9,55.3 146.4,52.4 146.9,54.0 147.4,52.0 147.9,53.9 148.4,51.8 148.9,52.8 149.4,50.5 149.9,52.6 150.4,51.0 150.9,52.7 151.4,51.0 151.9,52.9 152.4,51.0 152.9,52.6 153.4,50.6 153.9,52.3 154.4,49.4 154.9,52.8 155.4,47.7 155.9,51.2 156.4,47.0 156.9,49.5 157.4,47.6 157.9,49.6 158.4,47.9 158.9,50.0 159.4,47.6 159.9,50.7 160.4,47.0 160.9,49.6 161.4,47.0 161.9,49.0 162.4,47.2 162.9,48.4 163.4,46.6 163.9,47.9 164.4,46.0 164.9,47.8 165.4,45.9 165.9,47.7 166.4,46.0 166.9,47.5 167.4,45.6 167.9,47.2 168.4,44.5 168.9,47.0 169.4,43.6 169.9,46.0 170.4,43.4 170.9,46.9 171.4,43.3 171.9,47.1 172.4,44.3 172.9,46.4 173.4,44.1 173.9,46.8 174.4,44.5 174.9,46.8 175.4,43.8 175.9,47.3 176.4,43.4 176.9,46.9 177.4,43.7 177.9,45.2 178.4,43.3 178.9,45.2 179.4,43.0 179.9,45.0 180.4,43.4 180.9,45.5 181.4,43.0 181.9,46.0 182.4,43.0 182.9,45.4 183.4,45.9 183.9,50.0 184.4,46.2 184.9,44.0 185.4,41.6 185.9,45.2 186.4,42.2 186.9,44.3 187.4,42.2 187.9,46.0 188.4,42.0 188.9,45.3 189.4,41.9 189.9,45.0 190.4,41.4 190.9,44.3 191.4,42.0 191.9,44.2 192.4,42.7 192.9,44.6 193.4,41.6 193.9,44.4 194.4,42.5 194.9,44.5 195.4,41.0 195.9,45.9 196.4,41.8 196.9,45.2 197.4,42.4 197.9,44.4 198.4,42.4 198.9,44.2 199.4,42.9 199.9,45.0 200.4,42.9 200.9,45.3 201.4,42.7 201.9,44.8 202.4,42.6 202.9,45.1 203.4,42.7 203.9,44.7 204.4,43.8 204.9,45.3 205.4,43.4 205.9,45.6 206.4,42.5 206.9,45.2 207.4,43.0 207.9,44.8 208.4,43.8 208.9,45.5 209.4,43.4 209.9,45.2 210.4,42.6 210.9,44.3 211.4,41.8 211.9,44.0 212.4,41.8 212.9,43.5 213.4,41.3 213.9,43.6 214.4,41.7 214.9,44.2 215.4,41.2 215.9,45.1 216.4,40.7 216.9,43.9 217.4,41.0 217.9,43.5 218.4,41.2 218.9,43.7 219.4,41.8 219.9,44.6 220.4,40.9 220.9,44.1 221.4,41.2 221.9,44.1 222.4,41.5 222.9,44.2 223.4,42.6 223.9,44.5 224.4,42.7 224.9,44.9 225.4,42.4 225.9,44.7 226.4,41.3 226.9,44.6 227.4,42.2 227.9,43.9 228.4,41.7 228.9,44.7 229.4,42.4 229.9,43.6 230.4,41.8 230.9,43.1 231.4,40.8 231.9,42.7 232.4,41.6 232.9,43.4 233.4,40.8 233.9,43.1 234.4,42.2 234.9,44.1 235.4,41.9 235.9,43.7 236.4,41.6 236.9,45.0 237.4,42.1 237.9,44.1 238.4,42.0 238.9,44.4 239.4,41.9 239.9,44.0 240.4,41.2 240.9,43.9 241.4,41.4 241.9,44.4 242.4,40.7 242.9,45.0 243.4,41.3 243.9,44.6 244.4,42.1 244.9,44.4 245.4,41.6 245.9,43.3 246.4,41.6 246.9,42.8 247.4,41.2 247.9,43.4 248.4,41.4 248.9,44.0 249.4,41.7 249.9,44.0 250.4,42.0 250.9,44.5 251.4,41.3 251.9,43.7 252.4,42.2 252.9,44.3 253.4,41.7 253.9,44.6 254.4,42.2 254.9,44.0 255.4,42.0 255.9,43.7 256.4,42.1 256.9,44.0 257.4,41.6 257.9,44.1 258.4,41.8 258.9,44.3 259.4,41.5 259.9,43.8 260.4,41.8 260.9,44.0 261.4,41.3 261.9,44.3 262.4,40.7 262.9,43.7 263.4,41.3 263.9,43.4 264.4,41.2 264.9,42.6 265.4,41.0 265.9,43.0 266.4,41.2 266.9,42.7 267.4,42.1 267.9,43.7 268.4,41.8 268.9,43.3 269.4,41.8 269.9,43.1 270.4,41.4 270.9,43.7 271.4,42.0 271.9,43.6 272.4,41.6 272.9,44.0 273.4,40.7 273.9,43.7 274.4,41.2 274.9,43.1 275.4,41.4 275.9,43.8 276.4,42.1 276.9,44.1 277.4,42.4 277.9,44.3 278.4,41.8 278.9,43.3 279.4,41.5 279.9,43.3 280.4,41.7 280.9,43.2 281.4,41.4 281.9,43.5 282.4,41.4 282.9,42.9 283.4,41.2 283.9,43.2 284.4,41.1 284.9,43.1 285.4,41.7 285.9,43.0 286.4,41.7 286.9,43.6 287.4,42.1 287.9,43.6 288.4,41.4 288.9,43.3 289.4,41.3 289.9,42.3 290.4,40.7 290.9,42.3 291.4,41.2 291.9,42.4 292.4,40.6 292.9,43.0 293.4,41.3 293.9,42.9 294.4,41.6 294.9,43.2 295.4,41.5 295.9,43.2 296.4,41.4 296.9,42.3 297.4,40.7 297.9,42.0 298.4,41.2 298.9,43.1 299.4,40.9 299.9,43.8 300.4,40.7 300.9,44.1 301.4,41.1 301.9,43.2 302.4,40.7 302.9,43.1 303.4,40.6 303.9,42.2 304.4,40.9 304.9,46.5 305.4,40.9 305.9,43.0 306.4,40.8 306.9,42.9 307.4,41.0 307.9,42.8 308.4,41.5 308.9,42.8 309.4,40.9 309.9,42.9 310.4,41.5 310.9,42.3 311.4,41.1 311.9,43.0 312.4,41.4 312.9,43.6 313.4,40.7 313.9,43.3 314.4,41.9 314.9,43.2 315.4,41.3 315.9,43.3 316.4,41.7 316.9,43.2 317.4,40.8 317.9,42.8 318.4,40.6 318.9,42.3 319.4,41.1 319.9,42.7 320.4,41.3 320.9,42.1 321.4,41.2 321.9,42.1 322.4,40.7 322.9,42.0 323.4,40.7 323.9,42.2 324.4,41.1 324.9,42.8 325.4,41.7 325.9,42.4 326.4,40.7 326.9,42.0 327.4,41.0 327.9,41.9 328.4,41.3 328.9,42.7 329.4,40.9 329.9,43.7 330.4,40.8 330.9,43.1 331.4,40.8 331.9,42.7 332.4,41.0 332.9,42.7 333.4,40.6 333.9,43.1 334.4,41.3 334.9,43.5 335.4,40.7 335.9,42.6 336.4,41.1 336.9,42.0 337.4,41.1 337.9,41.7 338.4,40.8 338.9,41.9 339.4,41.1 339.9,42.1 340.4,41.1 340.9,42.0 341.4,40.8 341.9,41.6 342.4,40.8 342.9,42.1 343.4,40.6 343.9,42.0 344.4,40.7 344.9,41.6 345.4,40.8 345.9,42.0 346.4,40.7 346.9,42.6 347.4,40.7 347.9,42.7 348.4,41.1 348.9,43.0 349.4,40.8 349.9,42.2 350.4,40.8 350.9,42.0 351.4,40.8 351.9,41.7 352.4,40.6 352.9,41.9 353.4,41.2 353.9,42.1 354.4,41.4 354.9,42.7 355.4,41.0 355.9,42.4 356.4,41.0 356.9,42.3 357.4,41.3 357.9,42.4 358.4,40.9 358.9,42.4 359.4,40.9 359.9,41.9 360.4,40.8 360.9,42.4 361.4,40.9 361.9,42.1 362.4,41.5 362.9,42.3 363.4,41.2 363.9,42.4 364.4,41.4 364.9,42.4 365.4,41.2 365.9,42.7 366.4,41.1 366.9,42.4 367.4,41.1 367.9,41.6 368.4,40.7 368.9,42.0 369.4,40.8 369.9,42.1 370.4,40.9 370.9,42.4 371.4,41.3 371.9,42.1 372.4,41.2 372.9,42.5 373.4,41.1 373.9,42.6 374.4,41.3 374.9,41.6 375.4,40.9 375.9,41.4 376.4,41.0 376.9,41.4 377.4,40.8 377.9,41.8 378.4,41.1 378.9,42.3 379.4,41.0 379.9,41.6 380.4,40.6 380.9,41.8 381.4,41.1 381.9,42.0 382.4,40.6 382.9,41.8 383.4,40.8 383.9,41.9 384.4,40.7 384.9,42.1 385.4,40.8 385.9,42.1 386.4,40.7 386.9,42.5 387.4,40.8 387.9,42.1 388.4,41.1 388.9,42.4 389.4,40.7 389.9,43.5 390.4,41.0" fill="none" stroke="#471365" stroke-width="3.9" stroke-linejoin="round" stroke-linecap="square"/>
<polyline points="108.9,216.5 109.4,206.3 109.9,189.3 110.4,160.1 110.9,138.8 111.4,127.6 111.9,121.1 112.4,115.8 112.9,112.0 113.4,108.3 113.9,105.6 114.4,102.8 114.9,100.8 115.4,98.6 115.9,97.2 116.4,95.1 116.9,94.3 117.4,92.4 117.9,91.8 118.4,89.5 118.9,89.3 119.4,86.9 119.9,86.4 120.4,84.3 120.9,83.8 121.4,81.6 121.9,81.3 122.4,79.4 122.9,79.7 123.4,77.2 123.9,77.0 124.4,74.8 124.9,75.3 125.4,72.6 125.9,72.8 126.4,70.0 126.9,70.7 127.4,68.6 127.9,69.2 128.4,66.2 128.9,69.0 129.4,64.9 129.9,65.9 130.4,63.2 130.9,65.4 131.4,61.4 131.9,63.5 132.4,60.5 132.9,63.1 133.4,59.7 133.9,61.9 134.4,58.9 134.9,61.3 135.4,58.3 135.9,60.1 136.4,57.7 136.9,59.1 137.4,56.7 137.9,58.1 138.4,55.6 138.9,57.0 139.4,54.7 139.9,56.2 140.4,53.7 140.9,55.8 141.4,54.2 141.9,56.4 142.4,54.4 142.9,56.0 143.4,54.2 143.9,55.3 144.4,52.8 144.9,55.8 145.4,53.8 145.9,55.0 146.4,52.5 146.9,54.9 147.4,51.6 147.9,54.0 148.4,50.9 148.9,53.3 149.4,50.5 149.9,54.9 150.4,50.9 150.9,53.8 151.4,50.3 151.9,53.5 152.4,50.8 152.9,53.9 153.4,51.3 153.9,53.8 154.4,51.5 154.9,53.7 155.4,51.2 155.9,52.4 156.4,50.1 156.9,51.6 157.4,49.2 157.9,51.3 158.4,48.8 158.9,51.0 159.4,49.1 159.9,50.9 160.4,48.5 160.9,51.0 161.4,48.9 161.9,51.2 162.4,47.0 162.9,49.7 163.4,46.4 163.9,48.5 164.4,46.9 164.9,49.3 165.4,47.0 165.9,49.4 166.4,47.7 166.9,48.9 167.4,46.5 167.9,48.5 168.4,48.4 168.9,50.5 169.4,48.2 169.9,48.9 170.4,46.2 170.9,48.3 171.4,46.1 171.9,47.6 172.4,45.7 172.9,48.8 173.4,45.6 173.9,48.9 174.4,45.8 174.9,48.4 175.4,46.5 175.9,47.8 176.4,45.3 176.9,48.6 177.4,45.6 177.9,47.5 178.4,45.7 178.9,47.3 179.4,44.7 179.9,47.6 180.4,44.8 180.9,48.4 181.4,45.0 181.9,47.6 182.4,44.2 182.9,46.1 183.4,43.8 183.9,45.4 184.4,43.1 184.9,46.4 185.4,44.4 185.9,47.7 186.4,45.0 186.9,47.4 187.4,44.5 187.9,46.2 188.4,44.1 188.9,46.1 189.4,44.2 189.9,45.6 190.4,43.0 190.9,45.7 191.4,43.6 191.9,45.6 192.4,42.9 192.9,46.1 193.4,42.8 193.9,46.0 194.4,43.6 194.9,45.1 195.4,43.5 195.9,45.4 196.4,42.5 196.9,44.7 197.4,42.9 197.9,44.8 198.4,43.2 198.9,44.9 199.4,43.6 199.9,47.1 200.4,43.3 200.9,46.1 201.4,42.9 201.9,45.3 202.4,44.1 202.9,45.4 203.4,43.9 203.9,46.1 204.4,44.2 204.9,46.2 205.4,43.6 205.9,45.0 206.4,42.7 206.9,44.9 207.4,42.9 207.9,45.0 208.4,42.9 208.9,44.7 209.4,42.2 209.9,45.0 210.4,41.0 210.9,44.3 211.4,40.9 211.9,43.8 212.4,40.8 212.9,42.7 213.4,40.8 213.9,43.8 214.4,41.2 214.9,44.7 215.4,42.0 215.9,44.9 216.4,42.9 216.9,44.7 217.4,42.7 217.9,45.2 218.4,42.4 218.9,44.1 219.4,42.3 219.9,44.6 220.4,41.1 220.9,43.7 221.4,41.6 221.9,44.3 222.4,41.9 222.9,44.5 223.4,42.5 223.9,44.3 224.4,42.3 224.9,43.8 225.4,42.1 225.9,43.7 226.4,41.2 226.9,43.8 227.4,42.0 227.9,43.7 228.4,42.5 228.9,44.4 229.4,42.9 229.9,44.7 230.4,42.6 230.9,45.3 231.4,42.5 231.9,44.8 232.4,42.2 232.9,43.9 233.4,41.9 233.9,43.8 234.4,42.8 234.9,44.4 235.4,42.8 235.9,45.8 236.4,43.5 236.9,45.9 237.4,41.7 237.9,45.2 238.4,41.2 238.9,44.0 239.4,40.6 239.9,42.8 240.4,40.7 240.9,42.6 241.4,41.8 241.9,44.3 242.4,42.3 242.9,44.6 243.4,42.8 243.9,44.8 244.4,42.6 244.9,43.8 245.4,41.9 245.9,42.7 246.4,40.7 246.9,44.7 247.4,40.7 247.9,44.1 248.4,41.7 248.9,43.7 249.4,41.3 249.9,43.4 250.4,41.3 250.9,43.8 251.4,42.3 251.9,44.8 252.4,41.8 252.9,44.9 253.4,41.6 253.9,44.2 254.4,42.2 254.9,43.8 255.4,42.2 255.9,43.1 256.4,41.1 256.9,42.8 257.4,41.3 257.9,42.6 258.4,41.2 258.9,43.2 259.4,41.1 259.9,42.9 260.4,41.0 260.9,42.9 261.4,41.8 261.9,43.6 262.4,41.7 262.9,44.2 263.4,42.1 263.9,44.4 264.4,42.1 264.9,43.1 265.4,40.8 265.9,44.0 266.4,41.9 266.9,43.2 267.4,41.8 267.9,44.1 268.4,41.6 268.9,42.7 269.4,41.3 269.9,42.7 270.4,41.5 270.9,43.8 271.4,41.5 271.9,44.3 272.4,41.9 272.9,43.8 273.4,40.8 273.9,43.5 274.4,40.8 274.9,43.0 275.4,40.8 275.9,43.3 276.4,41.3 276.9,43.0 277.4,40.9 277.9,42.8 278.4,41.1 278.9,43.6 279.4,40.8 279.9,43.6 280.4,40.8 280.9,43.6 281.4,41.2 281.9,44.3 282.4,42.5 282.9,44.0 283.4,41.6 283.9,43.6 284.4,41.2 284.9,42.4 285.4,40.7 285.9,42.3 286.4,40.7 286.9,43.1 287.4,40.6 287.9,43.8 288.4,41.1 288.9,43.6 289.4,41.7 289.9,44.2 290.4,42.1 290.9,44.1 291.4,42.6 291.9,43.8 292.4,41.8 292.9,43.9 293.4,42.6 293.9,43.9 294.4,42.1 294.9,43.9 295.4,42.0 295.9,43.4 296.4,41.6 296.9,43.3 297.4,40.9 297.9,42.9 298.4,41.0 298.9,42.4 299.4,41.5 299.9,43.7 300.4,41.9 300.9,44.0 301.4,41.8 301.9,43.8 302.4,41.7 302.9,46.5 303.4,41.0 303.9,43.7 304.4,40.9 304.9,43.7 305.4,41.5 305.9,43.6 306.4,42.2 306.9,42.8 307.4,41.7 307.9,43.3 308.4,41.8 308.9,43.3 309.4,41.3 309.9,43.0 310.4,41.9 310.9,42.6 311.4,41.6 311.9,42.8 312.4,40.9 312.9,43.1 313.4,40.6 313.9,42.3 314.4,40.9 314.9,41.9 315.4,40.6 315.9,42.2 316.4,40.6 316.9,42.7 317.4,41.3 317.9,43.8 318.4,40.9 318.9,43.3 319.4,41.5 319.9,43.7 320.4,41.6 320.9,42.8 321.4,41.5 321.9,43.3 322.4,41.4 322.9,43.5 323.4,41.4 323.9,42.5 324.4,40.8 324.9,42.8 325.4,41.4 325.9,42.4 326.4,40.8 326.9,42.9 327.4,41.1 327.9,41.9 328.4,40.7 328.9,42.0 329.4,40.8 329.9,42.7 330.4,40.8 330.9,43.6 331.4,41.3 331.9,44.1 332.4,41.3 332.9,43.4 333.4,41.6 333.9,43.0 334.4,41.2 334.9,42.3 335.4,41.0 335.9,42.6 336.4,41.4 336.9,42.3 337.4,41.2 337.9,41.4 338.4,40.6 338.9,41.8 339.4,40.7 339.9,42.2 340.4,40.9 340.9,42.6 341.4,40.6 341.9,42.4 342.4,40.7 342.9,42.6 343.4,40.8 343.9,42.9 344.4,41.0 344.9,42.8 345.4,40.6 345.9,41.9 346.4,41.1 346.9,42.6 347.4,41.7 347.9,41.7 348.4,41.1 348.9,41.5 349.4,40.8 349.9,42.1 350.4,40.9 350.9,42.2 351.4,41.2 351.9,42.7 352.4,41.1 352.9,42.7 353.4,40.7 353.9,43.4 354.4,40.8 354.9,42.0 355.4,40.9 355.9,42.9 356.4,40.7 356.9,42.4 357.4,40.9 357.9,42.2 358.4,40.8 358.9,42.2 359.4,40.9 359.9,42.0 360.4,40.9 360.9,42.5 361.4,41.3 361.9,42.1 362.4,41.3 362.9,42.9 363.4,41.4 363.9,43.1 364.4,41.8 364.9,43.2 365.4,40.7 365.9,43.5 366.4,43.2 366.9,45.5 367.4,43.2 367.9,42.4 368.4,40.6 368.9,41.9 369.4,40.6 369.9,42.5 370.4,41.1 370.9,42.1 371.4,41.0 371.9,42.1 372.4,40.7 372.9,41.7 373.4,40.7 373.9,42.1 374.4,40.6 374.9,42.1 375.4,40.7 375.9,42.9 376.4,41.1 376.9,42.6 377.4,40.9 377.9,42.2 378.4,41.4 378.9,41.7 379.4,41.7 379.9,41.7 380.4,41.5 380.9,41.6 381.4,41.2 381.9,41.6 382.4,41.1 382.9,41.3 383.4,41.3 383.9,41.6 384.4,41.8 384.9,42.0 385.4,41.2 385.9,41.8 386.4,41.2 386.9,42.9 387.4,41.2 387.9,42.1 388.4,41.0 388.9,41.8 389.4,41.0 389.9,41.9 390.4,40.9" fill="none" stroke="#3b528b" stroke-width="3.9" stroke-linejoin="round" stroke-linecap="square"/>
<polyline points="108.9,216.4 109.4,206.5 109.9,189.1 110.4,160.0 110.9,138.4 111.4,127.0 111.9,119.9 112.4,114.1 112.9,109.6 113.4,105.2 113.9,101.9 114.4,98.6 114.9,96.5 115.4,94.1 115.9,92.8 116.4,90.7 116.9,89.6 117.4,87.4 117.9,86.9 118.4,84.3 118.9,83.9 119.4,81.9 119.9,81.5 120.4,78.8 120.9,78.8 121.4,76.4 121.9,76.7 122.4,73.7 122.9,74.8 123.4,71.8 123.9,72.0 124.4,69.8 124.9,69.8 125.4,67.8 125.9,68.4 126.4,66.4 126.9,67.7 127.4,65.6 127.9,66.8 128.4,64.4 128.9,65.4 129.4,61.7 129.9,63.5 130.4,60.5 130.9,63.4 131.4,60.3 131.9,62.9 132.4,59.5 132.9,60.6 133.4,58.6 133.9,60.3 134.4,57.2 134.9,59.6 135.4,56.4 135.9,58.2 136.4,56.2 136.9,57.9 137.4,56.1 137.9,58.1 138.4,55.5 138.9,58.0 139.4,56.3 139.9,58.1 140.4,55.4 140.9,56.3 141.4,54.0 141.9,55.2 142.4,53.1 142.9,55.6 143.4,52.5 143.9,54.8 144.4,52.8 144.9,53.8 145.4,52.1 145.9,54.2 146.4,53.0 146.9,55.5 147.4,53.5 147.9,55.3 148.4,51.8 148.9,53.2 149.4,50.1 149.9,53.7 150.4,49.5 150.9,53.6 151.4,51.4 151.9,53.5 152.4,51.8 152.9,53.9 153.4,50.8 153.9,52.3 154.4,50.6 154.9,52.2 155.4,50.3 155.9,52.5 156.4,50.0 156.9,51.8 157.4,49.8 157.9,51.6 158.4,48.5 158.9,51.3 159.4,48.2 159.9,51.0 160.4,48.3 160.9,50.3 161.4,48.4 161.9,50.3 162.4,47.7 162.9,50.5 163.4,47.1 163.9,49.2 164.4,47.6 164.9,49.5 165.4,46.5 165.9,49.7 166.4,46.0 166.9,48.7 167.4,46.1 167.9,48.5 168.4,45.8 168.9,47.9 169.4,45.8 169.9,48.2 170.4,45.4 170.9,48.1 171.4,46.3 171.9,47.7 172.4,46.3 172.9,47.7 173.4,45.8 173.9,47.4 174.4,44.8 174.9,48.5 175.4,43.6 175.9,48.4 176.4,44.3 176.9,48.1 177.4,46.0 177.9,47.5 178.4,45.6 178.9,47.4 179.4,44.6 179.9,47.3 180.4,44.0 180.9,46.9 181.4,43.6 181.9,46.9 182.4,44.0 182.9,46.2 183.4,44.0 183.9,45.7 184.4,43.9 184.9,46.2 185.4,44.6 185.9,46.4 186.4,44.7 186.9,47.0 187.4,45.2 187.9,47.8 188.4,44.9 188.9,47.2 189.4,45.2 189.9,46.9 190.4,44.2 190.9,46.4 191.4,43.5 191.9,45.1 192.4,42.7 192.9,44.5 193.4,41.5 193.9,44.7 194.4,42.0 194.9,45.0 195.4,42.9 195.9,45.2 196.4,43.5 196.9,46.1 197.4,44.0 197.9,46.3 198.4,43.6 198.9,46.9 199.4,43.6 199.9,45.5 200.4,43.4 200.9,44.9 201.4,42.9 201.9,44.5 202.4,42.0 202.9,43.9 203.4,42.4 203.9,44.1 204.4,42.4 204.9,44.3 205.4,42.1 205.9,44.7 206.4,42.5 206.9,43.8 207.4,42.2 207.9,44.7 208.4,42.8 208.9,44.8 209.4,43.1 209.9,44.8 210.4,43.2 210.9,45.0 211.4,43.5 211.9,45.4 212.4,43.3 212.9,45.2 213.4,43.7 213.9,46.0 214.4,43.3 214.9,45.3 215.4,43.9 215.9,46.0 216.4,41.7 216.9,45.4 217.4,42.1 217.9,44.6 218.4,41.6 218.9,44.4 219.4,42.4 219.9,44.9 220.4,41.9 220.9,45.1 221.4,42.4 221.9,45.0 222.4,42.6 222.9,44.0 223.4,42.0 223.9,44.1 224.4,41.5 224.9,42.9 225.4,41.5 225.9,44.2 226.4,40.9 226.9,44.6 227.4,43.6 227.9,46.5 228.4,44.2 228.9,45.5 229.4,43.0 229.9,45.7 230.4,42.4 230.9,44.6 231.4,42.6 231.9,44.5 232.4,41.9 232.9,44.0 233.4,42.3 233.9,44.1 234.4,41.3 234.9,44.0 235.4,41.2 235.9,42.9 236.4,41.3 236.9,43.2 237.4,41.6 237.9,44.7 238.4,41.6 238.9,44.6 239.4,42.3 239.9,43.8 240.4,41.9 240.9,43.8 241.4,41.9 241.9,43.9 242.4,41.9 242.9,43.5 243.4,41.8 243.9,43.4 244.4,41.3 244.9,43.9 245.4,42.0 245.9,43.8 246.4,41.7 246.9,44.2 247.4,56.0 247.9,43.7 248.4,41.5 248.9,43.3 249.4,41.2 249.9,43.4 250.4,42.4 250.9,44.6 251.4,41.9 251.9,44.9 252.4,42.4 252.9,44.3 253.4,42.4 253.9,45.1 254.4,42.2 254.9,44.5 255.4,42.7 255.9,44.2 256.4,41.8 256.9,43.1 257.4,40.7 257.9,43.4 258.4,41.5 258.9,43.6 259.4,42.1 259.9,44.9 260.4,42.8 260.9,44.3 261.4,41.8 261.9,44.3 262.4,41.8 262.9,43.6 263.4,40.9 263.9,43.9 264.4,40.6 264.9,43.8 265.4,40.7 265.9,43.0 266.4,40.9 266.9,43.2 267.4,41.1 267.9,42.7 268.4,41.5 268.9,44.0 269.4,41.3 269.9,43.0 270.4,41.5 270.9,43.6 271.4,41.4 271.9,42.6 272.4,41.3 272.9,44.0 273.4,41.3 273.9,43.7 274.4,41.9 274.9,43.8 275.4,41.5 275.9,43.3 276.4,41.6 276.9,43.4 277.4,40.7 277.9,43.5 278.4,40.9 278.9,43.2 279.4,41.0 279.9,43.0 280.4,41.1 280.9,43.0 281.4,40.6 281.9,43.6 282.4,40.7 282.9,43.1 283.4,40.9 283.9,43.0 284.4,41.7 284.9,43.0 285.4,41.0 285.9,44.8 286.4,41.1 286.9,44.1 287.4,40.9 287.9,43.2 288.4,41.4 288.9,43.6 289.4,41.9 289.9,44.8 290.4,42.0 290.9,44.5 291.4,41.1 291.9,44.0 292.4,41.2 292.9,44.1 293.4,41.0 293.9,43.9 294.4,41.9 294.9,43.6 295.4,41.5 295.9,43.8 296.4,41.8 296.9,44.1 297.4,42.1 297.9,43.8 298.4,41.7 298.9,43.1 299.4,42.0 299.9,43.2 300.4,41.5 300.9,43.5 301.4,41.5 301.9,43.8 302.4,41.3 302.9,43.5 303.4,41.3 303.9,42.4 304.4,40.7 304.9,42.8 305.4,40.7 305.9,43.7 306.4,42.0 306.9,44.0 307.4,42.1 307.9,43.4 308.4,41.4 308.9,42.9 309.4,40.9 309.9,41.6 310.4,40.8 310.9,42.4 311.4,41.1 311.9,41.9 312.4,41.3 312.9,42.2 313.4,40.8 313.9,42.5 314.4,41.3 314.9,43.7 315.4,40.9 315.9,43.7 316.4,41.8 316.9,43.0 317.4,41.5 317.9,42.8 318.4,41.5 318.9,42.4 319.4,40.7 319.9,42.5 320.4,40.7 320.9,42.3 321.4,41.0 321.9,43.0 322.4,40.9 322.9,42.3 323.4,41.0 323.9,42.0 324.4,41.4 324.9,42.6 325.4,41.3 325.9,43.1 326.4,41.4 326.9,43.2 327.4,41.0 327.9,43.2 328.4,40.6 328.9,42.1 329.4,40.6 329.9,42.5 330.4,41.2 330.9,42.8 331.4,41.3 331.9,42.5 332.4,41.0 332.9,43.0 333.4,41.1 333.9,42.9 334.4,41.4 334.9,42.7 335.4,40.8 335.9,41.9 336.4,41.0 336.9,41.6 337.4,40.9 337.9,42.4 338.4,40.9 338.9,43.0 339.4,41.1 339.9,42.9 340.4,44.0 340.9,47.0 341.4,44.0 341.9,41.7 342.4,41.0 342.9,41.6 343.4,40.7 343.9,42.2 344.4,41.4 344.9,42.3 345.4,40.8 345.9,41.9 346.4,40.7 346.9,41.5 347.4,41.1 347.9,41.4 348.4,41.0 348.9,41.6 349.4,40.9 349.9,42.3 350.4,41.0 350.9,42.4 351.4,40.8 351.9,42.2 352.4,41.1 352.9,42.7 353.4,41.3 353.9,42.7 354.4,42.1 354.9,43.5 355.4,41.7 355.9,43.2 356.4,41.3 356.9,42.7 357.4,41.3 357.9,42.9 358.4,40.9 358.9,42.4 359.4,41.3 359.9,42.5 360.4,40.8 360.9,42.7 361.4,41.1 361.9,42.1 362.4,41.3 362.9,42.6 363.4,41.7 363.9,42.5 364.4,40.9 364.9,43.0 365.4,40.8 365.9,42.4 366.4,40.6 366.9,41.9 367.4,40.7 367.9,42.1 368.4,41.3 368.9,42.7 369.4,41.2 369.9,42.9 370.4,41.1 370.9,43.1 371.4,43.3 371.9,46.0 372.4,43.5 372.9,42.5 373.4,40.9 373.9,41.5 374.4,41.0 374.9,41.3 375.4,41.3 375.9,41.3 376.4,40.7 376.9,42.0 377.4,40.7 377.9,42.3 378.4,40.8 378.9,42.3 379.4,41.3 379.9,42.3 380.4,41.1 380.9,42.3 381.4,40.8 381.9,41.5 382.4,41.6 382.9,41.8 383.4,41.1 383.9,42.1 384.4,41.4 384.9,42.0 385.4,41.2 385.9,41.6 386.4,40.6 386.9,42.4 387.4,40.7 387.9,42.7 388.4,40.9 388.9,42.2 389.4,40.9 389.9,41.9 390.4,40.8" fill="none" stroke="#25848e" stroke-width="3.9" stroke-linejoin="round" stroke-linecap="square"/>
<polyline points="108.9,216.5 109.4,206.4 109.9,189.0 110.4,160.0 110.9,138.4 111.4,126.7 111.9,119.1 112.4,112.7 112.9,107.6 113.4,102.4 113.9,98.7 114.4,95.6 114.9,93.6 115.4,91.2 115.9,89.6 116.4,87.5 116.9,86.4 117.4,84.2 117.9,82.9 118.4,81.1 118.9,80.7 119.4,78.2 119.9,78.0 120.4,75.9 120.9,76.0 121.4,74.1 121.9,74.2 122.4,71.8 122.9,72.2 123.4,70.0 123.9,71.2 124.4,68.1 124.9,68.6 125.4,66.5 125.9,68.3 126.4,64.4 126.9,66.6 127.4,63.8 127.9,65.2 128.4,61.8 128.9,64.3 129.4,60.7 129.9,62.9 130.4,60.4 130.9,62.3 131.4,59.2 131.9,61.2 132.4,59.3 132.9,60.1 133.4,58.4 133.9,60.2 134.4,57.9 134.9,59.5 135.4,57.3 135.9,58.8 136.4,56.2 136.9,57.1 137.4,54.8 137.9,56.4 138.4,54.1 138.9,56.3 139.4,53.9 139.9,56.5 140.4,54.3 140.9,56.4 141.4,54.2 141.9,55.9 142.4,53.0 142.9,55.8 143.4,52.2 143.9,54.4 144.4,51.7 144.9,53.8 145.4,52.3 145.9,54.4 146.4,52.6 146.9,55.3 147.4,52.9 147.9,54.4 148.4,52.0 148.9,54.5 149.4,50.8 149.9,54.2 150.4,51.8 150.9,53.8 151.4,51.8 151.9,53.6 152.4,51.8 152.9,53.3 153.4,51.0 153.9,52.1 154.4,49.2 154.9,52.1 155.4,48.8 155.9,52.1 156.4,49.2 156.9,51.1 157.4,49.7 157.9,51.4 158.4,48.2 158.9,52.0 159.4,48.3 159.9,50.9 160.4,49.2 160.9,50.6 161.4,49.0 161.9,51.4 162.4,47.0 162.9,51.0 163.4,46.8 163.9,50.7 164.4,48.3 164.9,49.8 165.4,46.7 165.9,49.7 166.4,47.5 166.9,49.3 167.4,46.4 167.9,50.0 168.4,46.6 168.9,49.6 169.4,46.4 169.9,48.1 170.4,46.8 170.9,48.9 171.4,46.9 171.9,48.5 172.4,45.2 172.9,48.3 173.4,45.3 173.9,47.2 174.4,45.4 174.9,48.0 175.4,46.2 175.9,47.9 176.4,45.5 176.9,47.8 177.4,45.9 177.9,47.2 178.4,45.1 178.9,46.7 179.4,44.3 179.9,47.5 180.4,44.4 180.9,48.2 181.4,44.7 181.9,47.7 182.4,44.8 182.9,46.9 183.4,44.8 183.9,46.7 184.4,45.4 184.9,47.6 185.4,45.7 185.9,46.8 186.4,45.1 186.9,47.0 187.4,45.1 187.9,46.7 188.4,44.7 188.9,46.3 189.4,43.8 189.9,46.1 190.4,43.4 190.9,45.3 191.4,43.9 191.9,45.8 192.4,44.0 192.9,45.9 193.4,44.5 193.9,47.1 194.4,42.9 194.9,47.5 195.4,52.0 195.9,47.2 196.4,44.7 196.9,46.3 197.4,44.4 197.9,46.2 198.4,43.9 198.9,45.6 199.4,43.1 199.9,45.6 200.4,43.6 200.9,45.3 201.4,43.3 201.9,44.7 202.4,42.6 202.9,44.7 203.4,42.4 203.9,44.4 204.4,42.1 204.9,44.6 205.4,41.6 205.9,44.8 206.4,42.2 206.9,44.4 207.4,42.2 207.9,44.0 208.4,41.1 208.9,45.0 209.4,41.8 209.9,44.2 210.4,42.2 210.9,44.1 211.4,43.3 211.9,45.4 212.4,43.6 212.9,45.0 213.4,42.8 213.9,45.9 214.4,42.5 214.9,44.6 215.4,42.5 215.9,44.5 216.4,43.1 216.9,44.4 217.4,42.6 217.9,44.9 218.4,42.7 218.9,44.6 219.4,42.9 219.9,44.9 220.4,43.2 220.9,45.1 221.4,42.9 221.9,46.5 222.4,41.0 222.9,45.3 223.4,42.1 223.9,43.9 224.4,41.3 224.9,44.1 225.4,42.1 225.9,44.3 226.4,42.2 226.9,44.3 227.4,42.3 227.9,44.6 228.4,42.7 228.9,44.3 229.4,42.7 229.9,45.1 230.4,43.2 230.9,44.5 231.4,42.8 231.9,45.3 232.4,41.9 232.9,46.5 233.4,41.2 233.9,45.2 234.4,41.9 234.9,45.2 235.4,43.0 235.9,44.8 236.4,43.3 236.9,45.2 237.4,42.8 237.9,44.7 238.4,40.9 238.9,44.1 239.4,40.8 239.9,43.6 240.4,41.2 240.9,44.5 241.4,41.3 241.9,45.1 242.4,42.6 242.9,43.9 243.4,41.1 243.9,43.5 244.4,41.2 244.9,43.6 245.4,41.4 245.9,43.8 246.4,42.5 246.9,44.1 247.4,41.3 247.9,43.5 248.4,42.1 248.9,43.8 249.4,41.2 249.9,43.1 250.4,41.8 250.9,43.4 251.4,41.6 251.9,43.8 252.4,42.1 252.9,44.4 253.4,42.7 253.9,44.7 254.4,42.6 254.9,43.9 255.4,42.3 255.9,44.6 256.4,41.7 256.9,45.1 257.4,42.6 257.9,45.0 258.4,43.0 258.9,45.0 259.4,41.7 259.9,43.8 260.4,41.6 260.9,43.3 261.4,41.6 261.9,43.0 262.4,44.2 262.9,47.5 263.4,44.2 263.9,43.4 264.4,41.2 264.9,43.1 265.4,41.1 265.9,43.2 266.4,41.0 266.9,43.1 267.4,41.0 267.9,42.6 268.4,41.0 268.9,42.6 269.4,41.1 269.9,43.0 270.4,40.9 270.9,42.8 271.4,41.8 271.9,42.9 272.4,41.2 272.9,43.5 273.4,41.6 273.9,42.7 274.4,40.8 274.9,42.7 275.4,41.2 275.9,42.9 276.4,41.0 276.9,43.9 277.4,41.2 277.9,42.7 278.4,40.8 278.9,42.0 279.4,40.8 279.9,42.0 280.4,41.6 280.9,43.3 281.4,42.1 281.9,43.5 282.4,41.4 282.9,43.2 283.4,41.3 283.9,43.3 284.4,41.6 284.9,43.2 285.4,41.0 285.9,42.8 286.4,41.7 286.9,43.5 287.4,40.7 287.9,43.3 288.4,41.3 288.9,43.2 289.4,40.8 289.9,42.2 290.4,40.8 290.9,43.1 291.4,41.0 291.9,42.5 292.4,40.9 292.9,42.5 293.4,41.3 293.9,42.4 294.4,40.8 294.9,42.8 295.4,40.6 295.9,42.8 296.4,41.4 296.9,43.5 297.4,41.7 297.9,43.2 298.4,41.3 298.9,43.5 299.4,41.7 299.9,59.3 300.4,41.8 300.9,43.6 301.4,41.2 301.9,43.9 302.4,40.9 302.9,43.4 303.4,41.0 303.9,43.2 304.4,41.0 304.9,43.6 305.4,40.7 305.9,43.0 306.4,41.1 306.9,42.9 307.4,41.8 307.9,42.8 308.4,41.3 308.9,43.2 309.4,40.6 309.9,42.6 310.4,40.8 310.9,42.0 311.4,40.7 311.9,42.8 312.4,40.7 312.9,42.5 313.4,41.2 313.9,43.0 314.4,41.5 314.9,43.0 315.4,41.2 315.9,43.2 316.4,41.9 316.9,43.2 317.4,41.5 317.9,43.1 318.4,40.8 318.9,42.8 319.4,41.5 319.9,43.1 320.4,41.9 320.9,43.8 321.4,42.2 321.9,43.2 322.4,41.6 322.9,42.5 323.4,41.1 323.9,43.0 324.4,40.7 324.9,42.4 325.4,41.5 325.9,41.8 326.4,41.5 326.9,41.7 327.4,40.7 327.9,43.0 328.4,41.4 328.9,43.0 329.4,41.7 329.9,43.4 330.4,41.8 330.9,43.1 331.4,40.9 331.9,43.1 332.4,40.8 332.9,42.5 333.4,40.7 333.9,42.0 334.4,41.0 334.9,43.8 335.4,41.6 335.9,43.5 336.4,41.8 336.9,43.1 337.4,44.6 337.9,47.5 338.4,44.1 338.9,43.0 339.4,40.6 339.9,42.5 340.4,41.3 340.9,43.2 341.4,41.7 341.9,42.8 342.4,41.5 342.9,43.3 343.4,40.7 343.9,42.7 344.4,40.8 344.9,42.6 345.4,41.2 345.9,42.9 346.4,40.7 346.9,43.1 347.4,41.3 347.9,43.0 348.4,41.0 348.9,42.7 349.4,41.1 349.9,42.9 350.4,40.8 350.9,42.4 351.4,41.2 351.9,42.2 352.4,40.9 352.9,42.3 353.4,40.7 353.9,42.6 354.4,41.0 354.9,42.5 355.4,40.6 355.9,42.5 356.4,40.8 356.9,41.9 357.4,40.8 357.9,41.9 358.4,40.8 358.9,41.8 359.4,41.0 359.9,42.3 360.4,43.6 360.9,46.5 361.4,43.7 361.9,42.8 362.4,41.0 362.9,42.6 363.4,41.1 363.9,41.9 364.4,41.1 364.9,42.7 365.4,41.2 365.9,41.7 366.4,40.8 366.9,42.4 367.4,40.6 367.9,42.0 368.4,41.2 368.9,42.2 369.4,40.9 369.9,42.7 370.4,41.0 370.9,42.5 371.4,40.7 371.9,43.5 372.4,40.7 372.9,42.2 373.4,40.8 373.9,42.9 374.4,40.6 374.9,42.4 375.4,40.7 375.9,42.9 376.4,41.3 376.9,42.4 377.4,40.9 377.9,42.3 378.4,40.9 378.9,42.2 379.4,41.0 379.9,41.4 380.4,40.7 380.9,41.6 381.4,41.1 381.9,41.7 382.4,40.8 382.9,42.7 383.4,40.9 383.9,42.1 384.4,40.6 384.9,43.6 385.4,40.7 385.9,42.6 386.4,40.9 386.9,42.3 387.4,40.9 387.9,42.4 388.4,40.7 388.9,42.4 389.4,41.4 389.9,42.6 390.4,40.8" fill="none" stroke="#2fb47c" stroke-width="3.9" stroke-linejoin="round" stroke-linecap="square"/>
<polyline points="108.9,216.4 109.4,206.1 109.9,189.1 110.4,160.0 110.9,138.5 111.4,126.4 111.9,118.7 112.4,111.7 112.9,105.6 113.4,99.6 113.9,96.3 114.4,93.2 114.9,91.2 115.4,88.8 115.9,87.2 116.4,84.8 116.9,83.8 117.4,80.9 117.9,80.9 118.4,77.9 118.9,78.6 119.4,75.8 119.9,76.1 120.4,73.8 120.9,73.9 121.4,72.0 121.9,72.4 122.4,70.1 122.9,70.9 123.4,68.9 123.9,70.0 124.4,67.1 124.9,68.5 125.4,64.6 125.9,66.8 126.4,62.9 126.9,65.3 127.4,62.3 127.9,63.4 128.4,60.6 128.9,62.5 129.4,59.9 129.9,61.5 130.4,57.9 130.9,61.8 131.4,58.0 131.9,59.8 132.4,56.0 132.9,60.5 133.4,55.7 133.9,59.6 134.4,55.6 134.9,59.5 135.4,55.9 135.9,58.4 136.4,56.2 136.9,58.1 137.4,54.5 137.9,57.5 138.4,54.9 138.9,57.0 139.4,54.2 139.9,57.8 140.4,54.3 140.9,57.1 141.4,54.7 141.9,56.0 142.4,54.0 142.9,55.5 143.4,54.1 143.9,56.4 144.4,52.5 144.9,54.9 145.4,53.0 145.9,55.0 146.4,51.3 146.9,54.5 147.4,51.0 147.9,53.4 148.4,51.8 148.9,53.6 149.4,51.9 149.9,54.4 150.4,50.5 150.9,53.8 151.4,51.0 151.9,53.4 152.4,51.3 152.9,53.0 153.4,51.1 153.9,53.4 154.4,51.6 154.9,52.7 155.4,50.8 155.9,53.0 156.4,49.9 156.9,52.9 157.4,49.0 157.9,53.2 158.4,49.0 158.9,53.6 159.4,50.1 159.9,52.2 160.4,50.5 160.9,53.0 161.4,49.5 161.9,50.5 162.4,48.5 162.9,50.4 163.4,48.1 163.9,50.7 164.4,47.5 164.9,51.9 165.4,47.6 165.9,50.6 166.4,47.6 166.9,49.5 167.4,47.8 167.9,49.5 168.4,46.8 168.9,50.2 169.4,47.3 169.9,49.6 170.4,47.5 170.9,50.1 171.4,47.3 171.9,49.2 172.4,48.1 172.9,51.2 173.4,46.5 173.9,49.3 174.4,46.6 174.9,49.4 175.4,46.6 175.9,48.9 176.4,46.1 176.9,50.0 177.4,46.8 177.9,48.5 178.4,46.8 178.9,48.9 179.4,47.1 179.9,48.4 180.4,45.6 180.9,48.0 181.4,44.7 181.9,46.6 182.4,44.2 182.9,45.9 183.4,43.7 183.9,46.1 184.4,44.3 184.9,47.2 185.4,44.0 185.9,47.5 186.4,43.7 186.9,46.2 187.4,43.6 187.9,46.7 188.4,44.7 188.9,46.7 189.4,44.0 189.9,47.0 190.4,43.8 190.9,46.6 191.4,43.3 191.9,45.5 192.4,43.4 192.9,45.5 193.4,43.2 193.9,45.4 194.4,43.1 194.9,46.2 195.4,42.2 195.9,46.3 196.4,42.1 196.9,44.9 197.4,42.9 197.9,45.6 198.4,43.2 198.9,48.0 199.4,42.3 199.9,45.2 200.4,43.8 200.9,45.1 201.4,43.0 201.9,45.2 202.4,43.3 202.9,45.7 203.4,43.9 203.9,45.9 204.4,42.7 204.9,51.0 205.4,42.0 205.9,45.3 206.4,41.6 206.9,45.2 207.4,42.3 207.9,45.7 208.4,42.8 208.9,44.9 209.4,43.8 209.9,45.3 210.4,43.5 210.9,45.4 211.4,42.5 211.9,47.5 212.4,42.8 212.9,45.3 213.4,42.3 213.9,46.4 214.4,40.9 214.9,46.4 215.4,42.0 215.9,45.4 216.4,43.3 216.9,45.0 217.4,42.9 217.9,44.2 218.4,42.7 218.9,44.8 219.4,41.9 219.9,45.2 220.4,42.2 220.9,44.9 221.4,43.1 221.9,45.3 222.4,43.4 222.9,45.8 223.4,43.7 223.9,45.1 224.4,42.7 224.9,45.0 225.4,43.5 225.9,44.6 226.4,41.9 226.9,45.3 227.4,42.4 227.9,44.1 228.4,42.3 228.9,44.9 229.4,42.8 229.9,45.5 230.4,43.8 230.9,45.6 231.4,42.9 231.9,45.5 232.4,42.1 232.9,45.0 233.4,42.5 233.9,45.0 234.4,42.0 234.9,44.9 235.4,42.2 235.9,44.7 236.4,41.8 236.9,44.1 237.4,41.2 237.9,43.8 238.4,41.8 238.9,45.1 239.4,42.4 239.9,44.0 240.4,41.2 240.9,45.9 241.4,40.7 241.9,43.9 242.4,41.2 242.9,44.1 243.4,41.2 243.9,43.4 244.4,42.1 244.9,44.4 245.4,42.6 245.9,44.7 246.4,42.0 246.9,44.0 247.4,42.4 247.9,43.6 248.4,41.6 248.9,43.4 249.4,42.0 249.9,44.4 250.4,40.9 250.9,44.4 251.4,41.0 251.9,43.4 252.4,40.7 252.9,43.6 253.4,41.1 253.9,44.3 254.4,42.6 254.9,44.7 255.4,41.9 255.9,45.3 256.4,43.3 256.9,45.1 257.4,43.0 257.9,45.0 258.4,45.2 258.9,47.5 259.4,44.3 259.9,42.5 260.4,40.9 260.9,42.8 261.4,40.6 261.9,44.3 262.4,41.5 262.9,44.9 263.4,42.7 263.9,45.9 264.4,42.2 264.9,45.1 265.4,42.6 265.9,44.0 266.4,42.1 266.9,43.9 267.4,41.7 267.9,44.2 268.4,41.6 268.9,44.4 269.4,42.3 269.9,44.1 270.4,42.1 270.9,44.0 271.4,42.2 271.9,44.6 272.4,41.3 272.9,44.7 273.4,42.0 273.9,44.7 274.4,42.1 274.9,43.8 275.4,42.6 275.9,44.1 276.4,41.6 276.9,44.1 277.4,42.6 277.9,44.2 278.4,41.6 278.9,47.3 279.4,41.2 279.9,43.2 280.4,40.6 280.9,43.7 281.4,41.5 281.9,43.8 282.4,41.6 282.9,44.3 283.4,41.7 283.9,44.0 284.4,42.1 284.9,44.1 285.4,41.6 285.9,43.7 286.4,41.7 286.9,43.7 287.4,41.5 287.9,43.6 288.4,40.7 288.9,44.4 289.4,41.4 289.9,44.6 290.4,41.9 290.9,44.2 291.4,41.7 291.9,44.2 292.4,41.4 292.9,43.9 293.4,40.9 293.9,42.8 294.4,41.1 294.9,43.4 295.4,41.3 295.9,43.1 296.4,41.8 296.9,43.6 297.4,41.5 297.9,43.5 298.4,41.2 298.9,44.2 299.4,41.2 299.9,42.8 300.4,41.1 300.9,43.4 301.4,41.4 301.9,43.4 302.4,40.7 302.9,43.4 303.4,40.8 303.9,42.6 304.4,43.1 304.9,45.5 305.4,43.4 305.9,42.6 306.4,41.9 306.9,43.2 307.4,41.5 307.9,42.6 308.4,40.9 308.9,43.1 309.4,40.8 309.9,42.4 310.4,40.7 310.9,43.8 311.4,40.8 311.9,44.2 312.4,41.4 312.9,43.1 313.4,41.8 313.9,43.2 314.4,41.5 314.9,43.1 315.4,41.2 315.9,43.5 316.4,42.0 316.9,43.4 317.4,41.9 317.9,43.4 318.4,41.9 318.9,43.6 319.4,41.8 319.9,43.5 320.4,41.5 320.9,44.3 321.4,42.0 321.9,43.3 322.4,42.0 322.9,43.3 323.4,41.6 323.9,43.0 324.4,41.5 324.9,42.7 325.4,41.1 325.9,43.1 326.4,41.2 326.9,42.7 327.4,41.5 327.9,43.5 328.4,41.3 328.9,42.9 329.4,40.9 329.9,43.4 330.4,46.5 330.9,43.6 331.4,41.7 331.9,43.2 332.4,41.7 332.9,43.2 333.4,41.5 333.9,42.9 334.4,41.1 334.9,43.4 335.4,41.1 335.9,43.8 336.4,41.2 336.9,42.7 337.4,40.6 337.9,42.3 338.4,40.8 338.9,42.0 339.4,40.7 339.9,42.7 340.4,41.2 340.9,42.3 341.4,41.2 341.9,42.4 342.4,41.3 342.9,42.7 343.4,41.1 343.9,42.7 344.4,41.1 344.9,43.6 345.4,41.4 345.9,43.0 346.4,41.6 346.9,48.2 347.4,41.4 347.9,44.0 348.4,41.5 348.9,43.7 349.4,41.5 349.9,43.0 350.4,41.6 350.9,43.5 351.4,41.4 351.9,43.9 352.4,47.8 352.9,43.6 353.4,41.2 353.9,43.8 354.4,41.9 354.9,43.2 355.4,42.3 355.9,43.6 356.4,41.6 356.9,43.2 357.4,41.2 357.9,42.6 358.4,41.2 358.9,42.6 359.4,41.1 359.9,43.4 360.4,40.7 360.9,43.3 361.4,40.6 361.9,43.0 362.4,40.8 362.9,42.8 363.4,41.1 363.9,43.1 364.4,40.8 364.9,42.9 365.4,40.8 365.9,42.4 366.4,41.0 366.9,42.9 367.4,41.2 367.9,43.6 368.4,40.6 368.9,43.8 369.4,41.7 369.9,42.9 370.4,41.1 370.9,43.8 371.4,41.3 371.9,42.8 372.4,41.1 372.9,42.9 373.4,41.3 373.9,42.8 374.4,40.6 374.9,42.4 375.4,41.0 375.9,42.2 376.4,41.2 376.9,42.2 377.4,41.2 377.9,42.6 378.4,40.6 378.9,42.1 379.4,40.7 379.9,42.6 380.4,41.2 380.9,42.2 381.4,41.3 381.9,42.8 382.4,41.0 382.9,42.8 383.4,41.5 383.9,43.1 384.4,41.6 384.9,43.0 385.4,41.7 385.9,42.8 386.4,41.2 386.9,42.4 387.4,41.1 387.9,43.1 388.4,40.6 388.9,45.0 389.4,40.9 389.9,42.3 390.4,41.0" fill="none" stroke="#9bd93c" stroke-width="3.9" stroke-linejoin="round" stroke-linecap="square"/>
</g>
<path d="M108.00,228.3v9.6M249.20,228.3v9.6M390.40,228.3v9.6M94.5,228.30h-9.6M94.5,190.45h-9.6M94.5,152.60h-9.6M94.5,114.75h-9.6M94.5,76.90h-9.6M94.5,39.05h-9.6" stroke="#000" stroke-width="2.2" fill="none"/>
<rect x="94.5" y="39.05" width="310.6" height="189.25" fill="none" stroke="#000" stroke-width="2.4000000000000004"/>
<text x="76.3" y="238.0" font-size="26.0" text-anchor="end">0.0</text>
<text x="76.3" y="200.2" font-size="26.0" text-anchor="end">0.2</text>
<text x="76.3" y="162.3" font-size="26.0" text-anchor="end">0.4</text>
<text x="76.3" y="124.5" font-size="26.0" text-anchor="end">0.6</text>
<text x="76.3" y="86.6" font-size="26.0" text-anchor="end">0.8</text>
<text x="76.3" y="48.8" font-size="26.0" text-anchor="end">1.0</text>
<text x="107.6" y="266.7" font-size="26.0" text-anchor="middle">0</text>
<text x="248.8" y="266.7" font-size="26.0" text-anchor="middle">2.5M</text>
<text x="390.0" y="266.7" font-size="26.0" text-anchor="middle">5M</text>
<text x="249.8" y="301.2" font-size="26.0" letter-spacing="-0.1" text-anchor="middle">Samples</text>
<text x="249.8" y="24.1" font-size="31.2" letter-spacing="-0.14" text-anchor="middle">Twinkle Twinkle</text>
<text transform="translate(19.4,134.1) rotate(-90)" font-size="26.0" text-anchor="middle">F1</text>
<path d="M530.80,39.05V228.3M672.05,39.05V228.3M813.30,39.05V228.3M517.3,190.45H827.9M517.3,152.60H827.9M517.3,114.75H827.9M517.3,76.90H827.9" stroke="#ececec" stroke-width="2.2" fill="none"/>
<g clip-path="url(#c1)">
<path d="M531.2,226.0 532.2,221.6 533.2,214.7 534.2,217.9 535.2,214.6 536.2,214.6 537.2,212.5 538.2,207.0 539.2,198.0 540.2,202.7 541.2,200.5 542.2,195.9 543.2,196.0 544.2,191.6 545.2,192.7 546.2,191.0 547.2,188.3 548.2,184.6 549.2,188.2 550.2,185.2 551.2,185.0 552.2,186.4 553.2,184.9 554.2,186.9 555.2,184.0 556.2,183.9 557.2,178.9 558.2,181.0 559.2,174.8 560.2,180.2 561.2,179.0 562.2,177.2 563.2,177.2 564.2,176.0 565.2,177.0 566.2,176.3 567.2,177.5 568.2,177.6 569.2,176.9 570.2,179.6 571.2,179.7 572.2,177.6 573.2,170.3 574.2,175.9 575.2,171.3 576.2,176.3 577.2,168.6 578.2,175.5 579.2,176.2 580.2,177.8 581.2,169.5 582.2,169.5 583.2,177.3 584.2,177.1 585.2,178.8 586.2,178.4 587.2,177.0 588.2,174.3 589.2,173.7 590.2,173.7 591.2,166.8 592.2,172.8 593.2,173.3 594.2,175.0 595.2,174.3 596.2,175.8 597.2,174.4 598.2,173.1 599.2,170.9 600.2,167.1 601.2,166.4 602.2,172.6 603.2,173.6 604.2,171.3 605.2,171.8 606.2,167.1 607.2,167.2 608.2,170.1 609.2,173.5 610.2,171.6 611.2,170.8 612.2,170.9 613.2,169.8 614.2,163.6 615.2,167.5 616.2,168.2 617.2,167.1 618.2,168.5 619.2,167.4 620.2,165.5 621.2,168.3 622.2,167.1 623.2,164.4 624.2,169.2 625.2,165.5 626.2,165.2 627.2,170.7 628.2,170.2 629.2,167.9 630.2,169.0 631.2,161.9 632.2,169.0 633.2,170.0 634.2,166.5 635.2,168.5 636.2,167.5 637.2,168.3 638.2,166.5 639.2,167.3 640.2,166.2 641.2,167.9 642.2,161.6 643.2,166.4 644.2,162.5 645.2,164.3 646.2,166.5 647.2,161.2 648.2,156.7 649.2,161.1 650.2,160.0 651.2,158.8 652.2,160.1 653.2,162.9 654.2,162.4 655.2,165.5 656.2,159.5 657.2,163.3 658.2,162.3 659.2,162.4 660.2,162.2 661.2,166.6 662.2,161.5 663.2,166.5 664.2,168.0 665.2,165.2 666.2,166.4 667.2,164.6 668.2,163.4 669.2,156.4 670.2,158.5 671.2,157.3 672.2,161.3 673.2,159.2 674.2,157.6 675.2,153.5 676.2,159.9 677.2,152.4 678.2,157.4 679.2,158.9 680.2,156.5 681.2,156.6 682.2,160.4 683.2,154.3 684.2,162.8 685.2,158.4 686.2,159.1 687.2,158.7 688.2,152.2 689.2,157.8 690.2,156.7 691.2,151.4 692.2,157.0 693.2,147.8 694.2,156.5 695.2,157.0 696.2,158.4 697.2,156.5 698.2,154.4 699.2,150.1 700.2,147.8 701.2,153.0 702.2,154.2 703.2,154.1 704.2,151.4 705.2,156.9 706.2,154.5 707.2,156.7 708.2,151.1 709.2,151.6 710.2,155.4 711.2,156.2 712.2,152.3 713.2,153.4 714.2,150.3 715.2,153.2 716.2,153.4 717.2,152.3 718.2,155.1 719.2,157.5 720.2,160.0 721.2,154.6 722.2,159.1 723.2,153.6 724.2,145.0 725.2,152.2 726.2,157.7 727.2,155.9 728.2,157.5 729.2,159.6 730.2,157.4 731.2,155.6 732.2,150.5 733.2,155.6 734.2,152.8 735.2,152.0 736.2,153.0 737.2,151.4 738.2,157.6 739.2,154.1 740.2,152.5 741.2,149.9 742.2,154.1 743.2,151.4 744.2,151.7 745.2,151.9 746.2,154.2 747.2,153.7 748.2,153.0 749.2,153.7 750.2,155.1 751.2,154.1 752.2,153.4 753.2,152.8 754.2,156.6 755.2,152.9 756.2,150.4 757.2,154.3 758.2,154.1 759.2,155.9 760.2,154.1 761.2,154.4 762.2,149.3 763.2,153.5 764.2,146.5 765.2,154.0 766.2,155.3 767.2,145.3 768.2,153.0 769.2,148.8 770.2,149.8 771.2,146.6 772.2,152.1 773.2,145.1 774.2,148.9 775.2,152.9 776.2,153.1 777.2,148.9 778.2,146.8 779.2,150.0 780.2,148.1 781.2,149.6 782.2,143.0 783.2,154.1 784.2,152.2 785.2,144.9 786.2,148.6 787.2,147.1 788.2,143.0 789.2,153.1 790.2,152.2 791.2,151.8 792.2,151.9 793.2,150.8 794.2,146.4 795.2,154.8 796.2,155.3 797.2,147.9 798.2,147.7 799.2,154.7 800.2,157.6 801.2,156.9 802.2,148.0 803.2,140.0 804.2,148.3 805.2,155.9 806.2,162.2 807.2,158.8 808.2,160.5 809.2,149.5 810.2,151.3 811.2,153.2 812.2,150.5 813.2,150.6 813.2,171.3 812.2,159.0 811.2,159.4 810.2,158.6 809.2,162.9 808.2,166.7 807.2,164.4 806.2,167.0 805.2,180.1 804.2,173.7 803.2,178.0 802.2,173.4 801.2,169.8 800.2,168.6 799.2,163.1 798.2,160.9 797.2,160.6 796.2,160.1 795.2,159.7 794.2,162.2 793.2,167.9 792.2,159.9 791.2,161.0 790.2,158.8 789.2,159.3 788.2,161.5 787.2,156.8 786.2,169.0 785.2,157.6 784.2,171.0 783.2,159.4 782.2,164.0 781.2,155.5 780.2,158.2 779.2,155.6 778.2,153.4 777.2,155.5 776.2,158.1 775.2,164.4 774.2,158.1 773.2,155.4 772.2,159.5 771.2,157.7 770.2,170.4 769.2,158.8 768.2,160.5 767.2,159.4 766.2,160.0 765.2,160.4 764.2,159.4 763.2,164.1 762.2,162.4 761.2,166.3 760.2,161.1 759.2,170.3 758.2,160.8 757.2,160.8 756.2,176.7 755.2,159.3 754.2,165.2 753.2,169.5 752.2,174.8 751.2,169.6 750.2,162.7 749.2,172.8 748.2,164.7 747.2,160.0 746.2,161.3 745.2,167.4 744.2,158.0 743.2,162.9 742.2,159.4 741.2,161.9 740.2,159.9 739.2,166.6 738.2,166.6 737.2,164.3 736.2,158.8 735.2,161.3 734.2,164.2 733.2,171.6 732.2,161.0 731.2,173.5 730.2,163.1 729.2,167.3 728.2,164.0 727.2,165.1 726.2,166.3 725.2,165.7 724.2,172.0 723.2,167.1 722.2,166.1 721.2,165.4 720.2,169.3 719.2,162.3 718.2,161.6 717.2,161.5 716.2,159.7 715.2,158.8 714.2,160.5 713.2,172.0 712.2,160.6 711.2,167.6 710.2,161.4 709.2,160.0 708.2,162.9 707.2,164.2 706.2,164.2 705.2,162.3 704.2,164.5 703.2,164.5 702.2,165.7 701.2,162.9 700.2,161.8 699.2,162.1 698.2,174.6 697.2,163.1 696.2,165.0 695.2,164.3 694.2,162.1 693.2,161.9 692.2,164.9 691.2,163.5 690.2,161.5 689.2,166.8 688.2,168.2 687.2,165.8 686.2,165.1 685.2,165.6 684.2,171.9 683.2,165.8 682.2,173.3 681.2,165.7 680.2,166.8 679.2,165.9 678.2,165.0 677.2,165.2 676.2,166.8 675.2,164.9 674.2,167.0 673.2,167.2 672.2,171.5 671.2,173.8 670.2,167.2 669.2,165.3 668.2,176.8 667.2,172.0 666.2,172.6 665.2,175.9 664.2,178.0 663.2,175.9 662.2,173.2 661.2,177.8 660.2,178.1 659.2,181.1 658.2,173.3 657.2,176.4 656.2,173.1 655.2,173.3 654.2,170.6 653.2,169.2 652.2,169.4 651.2,165.4 650.2,165.4 649.2,170.7 648.2,170.0 647.2,171.2 646.2,173.7 645.2,170.0 644.2,175.2 643.2,174.0 642.2,174.1 641.2,173.7 640.2,171.4 639.2,174.7 638.2,176.8 637.2,189.3 636.2,175.5 635.2,176.6 634.2,174.0 633.2,175.8 632.2,175.5 631.2,176.2 630.2,175.9 629.2,174.0 628.2,177.2 627.2,184.3 626.2,187.2 625.2,173.5 624.2,179.7 623.2,179.0 622.2,186.5 621.2,176.4 620.2,178.1 619.2,179.0 618.2,173.6 617.2,174.6 616.2,174.0 615.2,179.4 614.2,174.3 613.2,178.4 612.2,185.2 611.2,179.2 610.2,183.2 609.2,179.6 608.2,185.2 607.2,177.9 606.2,174.7 605.2,176.4 604.2,178.2 603.2,184.9 602.2,181.1 601.2,179.2 600.2,179.5 599.2,187.2 598.2,179.6 597.2,179.1 596.2,194.8 595.2,183.2 594.2,180.8 593.2,186.9 592.2,178.1 591.2,180.5 590.2,182.8 589.2,181.1 588.2,181.2 587.2,183.2 586.2,186.8 585.2,183.7 584.2,183.3 583.2,189.6 582.2,181.3 581.2,183.1 580.2,182.4 579.2,183.1 578.2,181.3 577.2,186.8 576.2,188.3 575.2,182.5 574.2,196.7 573.2,184.5 572.2,193.9 571.2,185.4 570.2,185.9 569.2,186.6 568.2,183.8 567.2,182.8 566.2,189.4 565.2,184.1 564.2,196.7 563.2,183.9 562.2,185.7 561.2,187.8 560.2,189.2 559.2,192.0 558.2,186.4 557.2,198.8 556.2,190.1 555.2,198.4 554.2,190.9 553.2,190.3 552.2,190.5 551.2,189.8 550.2,191.4 549.2,200.9 548.2,203.7 547.2,194.2 546.2,200.4 545.2,196.0 544.2,199.8 543.2,212.9 542.2,202.3 541.2,205.6 540.2,207.8 539.2,209.0 538.2,221.5 537.2,222.2 536.2,220.5 535.2,224.8 534.2,223.6 533.2,228.5 532.2,229.4 531.2,239.8Z" fill="#471365" fill-opacity="0.16" stroke="none"/>
<path d="M531.2,226.3 532.2,222.1 533.2,223.3 534.2,220.3 535.2,217.2 536.2,207.5 537.2,206.0 538.2,201.3 539.2,195.9 540.2,190.8 541.2,185.4 542.2,179.0 543.2,179.5 544.2,176.1 545.2,173.9 546.2,169.8 547.2,168.9 548.2,166.0 549.2,164.9 550.2,162.7 551.2,160.9 552.2,159.3 553.2,160.3 554.2,158.5 555.2,157.9 556.2,155.8 557.2,152.2 558.2,149.4 559.2,142.3 560.2,146.3 561.2,143.2 562.2,143.6 563.2,142.0 564.2,140.6 565.2,138.3 566.2,133.4 567.2,135.7 568.2,131.1 569.2,131.8 570.2,132.0 571.2,132.2 572.2,125.4 573.2,129.8 574.2,126.4 575.2,128.3 576.2,125.4 577.2,120.5 578.2,124.9 579.2,125.8 580.2,124.1 581.2,118.1 582.2,123.6 583.2,124.2 584.2,123.4 585.2,122.9 586.2,124.1 587.2,121.6 588.2,119.4 589.2,121.1 590.2,119.9 591.2,120.5 592.2,114.4 593.2,116.0 594.2,120.1 595.2,115.1 596.2,120.7 597.2,119.3 598.2,117.0 599.2,118.1 600.2,113.5 601.2,117.6 602.2,114.1 603.2,112.6 604.2,116.3 605.2,116.4 606.2,116.5 607.2,111.9 608.2,114.7 609.2,113.8 610.2,114.6 611.2,111.6 612.2,111.3 613.2,112.3 614.2,112.7 615.2,110.1 616.2,109.7 617.2,110.5 618.2,109.6 619.2,108.8 620.2,106.2 621.2,109.4 622.2,109.5 623.2,108.2 624.2,107.7 625.2,102.9 626.2,106.8 627.2,105.7 628.2,105.4 629.2,105.5 630.2,106.1 631.2,105.0 632.2,99.1 633.2,103.2 634.2,104.1 635.2,101.4 636.2,102.6 637.2,102.6 638.2,101.5 639.2,101.6 640.2,101.5 641.2,100.9 642.2,99.0 643.2,98.3 644.2,100.3 645.2,100.1 646.2,99.6 647.2,101.0 648.2,99.1 649.2,98.8 650.2,97.9 651.2,100.1 652.2,98.8 653.2,97.9 654.2,99.2 655.2,97.2 656.2,100.7 657.2,99.8 658.2,98.8 659.2,97.2 660.2,97.0 661.2,97.0 662.2,96.8 663.2,95.2 664.2,96.2 665.2,94.7 666.2,94.2 667.2,95.4 668.2,97.0 669.2,95.7 670.2,93.9 671.2,95.9 672.2,93.5 673.2,93.0 674.2,94.1 675.2,93.5 676.2,93.9 677.2,94.3 678.2,95.1 679.2,94.8 680.2,94.8 681.2,94.1 682.2,94.8 683.2,93.5 684.2,93.8 685.2,94.5 686.2,94.2 687.2,91.1 688.2,92.8 689.2,93.6 690.2,95.6 691.2,94.8 692.2,93.0 693.2,93.3 694.2,92.3 695.2,92.7 696.2,91.7 697.2,91.6 698.2,92.9 699.2,92.5 700.2,92.4 701.2,92.2 702.2,91.7 703.2,91.5 704.2,89.9 705.2,90.7 706.2,92.4 707.2,90.6 708.2,89.4 709.2,90.8 710.2,91.5 711.2,87.9 712.2,91.1 713.2,91.0 714.2,90.6 715.2,89.4 716.2,91.8 717.2,92.3 718.2,91.4 719.2,92.0 720.2,91.1 721.2,91.2 722.2,91.3 723.2,91.4 724.2,91.0 725.2,91.2 726.2,91.4 727.2,91.2 728.2,89.4 729.2,91.1 730.2,90.8 731.2,89.3 732.2,89.6 733.2,91.0 734.2,91.2 735.2,91.2 736.2,90.6 737.2,90.9 738.2,88.4 739.2,89.0 740.2,87.3 741.2,89.0 742.2,90.4 743.2,88.3 744.2,89.3 745.2,86.5 746.2,89.4 747.2,91.1 748.2,91.0 749.2,90.5 750.2,91.0 751.2,86.2 752.2,89.2 753.2,88.0 754.2,89.4 755.2,90.1 756.2,89.7 757.2,90.0 758.2,90.4 759.2,89.1 760.2,88.6 761.2,84.1 762.2,78.0 763.2,84.0 764.2,89.5 765.2,89.2 766.2,89.1 767.2,87.2 768.2,89.3 769.2,88.2 770.2,89.1 771.2,87.7 772.2,87.6 773.2,88.8 774.2,89.8 775.2,88.3 776.2,89.1 777.2,87.5 778.2,85.1 779.2,86.9 780.2,88.9 781.2,90.4 782.2,89.1 783.2,87.7 784.2,86.3 785.2,89.2 786.2,88.5 787.2,87.3 788.2,87.3 789.2,88.0 790.2,88.9 791.2,87.3 792.2,87.1 793.2,84.7 794.2,88.1 795.2,87.3 796.2,88.5 797.2,88.3 798.2,88.2 799.2,88.0 800.2,88.2 801.2,84.1 802.2,86.6 803.2,85.0 804.2,87.7 805.2,87.8 806.2,88.4 807.2,88.8 808.2,87.8 809.2,87.5 810.2,87.2 811.2,86.8 812.2,85.4 813.2,86.7 813.2,91.2 812.2,95.6 811.2,91.2 810.2,95.5 809.2,91.3 808.2,93.0 807.2,91.2 806.2,92.1 805.2,94.8 804.2,91.1 803.2,90.4 802.2,90.2 801.2,93.4 800.2,90.7 799.2,91.6 798.2,91.6 797.2,93.0 796.2,95.3 795.2,93.4 794.2,92.1 793.2,92.8 792.2,90.8 791.2,90.6 790.2,92.5 789.2,91.7 788.2,91.2 787.2,90.6 786.2,94.0 785.2,95.8 784.2,92.2 783.2,92.4 782.2,92.9 781.2,93.4 780.2,92.0 779.2,91.1 778.2,92.3 777.2,93.3 776.2,92.5 775.2,94.2 774.2,92.6 773.2,92.1 772.2,92.6 771.2,91.5 770.2,93.3 769.2,91.7 768.2,91.9 767.2,93.7 766.2,91.8 765.2,92.0 764.2,92.1 763.2,102.0 762.2,114.0 761.2,102.1 760.2,92.3 759.2,93.3 758.2,96.2 757.2,94.0 756.2,93.1 755.2,93.9 754.2,93.0 753.2,92.6 752.2,93.0 751.2,97.1 750.2,95.3 749.2,94.5 748.2,95.7 747.2,93.8 746.2,94.7 745.2,95.9 744.2,93.7 743.2,93.3 742.2,93.2 741.2,92.9 740.2,97.5 739.2,93.4 738.2,92.6 737.2,93.7 736.2,94.1 735.2,94.9 734.2,94.7 733.2,95.8 732.2,95.8 731.2,96.6 730.2,94.4 729.2,94.0 728.2,95.5 727.2,99.4 726.2,94.1 725.2,94.5 724.2,94.9 723.2,96.2 722.2,97.0 721.2,96.4 720.2,95.6 719.2,95.9 718.2,95.2 717.2,97.3 716.2,96.1 715.2,95.4 714.2,94.8 713.2,96.8 712.2,94.2 711.2,94.0 710.2,96.6 709.2,94.1 708.2,99.4 707.2,94.6 706.2,95.7 705.2,95.2 704.2,95.1 703.2,97.9 702.2,95.6 701.2,97.8 700.2,97.6 699.2,95.0 698.2,96.9 697.2,95.8 696.2,101.1 695.2,96.2 694.2,96.1 693.2,100.5 692.2,99.0 691.2,97.9 690.2,102.7 689.2,97.2 688.2,97.3 687.2,98.4 686.2,99.7 685.2,97.5 684.2,98.9 683.2,98.6 682.2,100.8 681.2,98.3 680.2,98.5 679.2,97.9 678.2,98.0 677.2,97.9 676.2,97.2 675.2,102.9 674.2,97.3 673.2,97.3 672.2,99.6 671.2,99.7 670.2,100.1 669.2,98.8 668.2,99.8 667.2,98.8 666.2,100.9 665.2,104.4 664.2,100.1 663.2,103.5 662.2,100.2 661.2,103.6 660.2,101.6 659.2,100.3 658.2,102.0 657.2,104.6 656.2,105.2 655.2,104.1 654.2,102.9 653.2,102.7 652.2,102.4 651.2,105.0 650.2,109.1 649.2,102.7 648.2,103.8 647.2,104.1 646.2,107.3 645.2,103.6 644.2,103.9 643.2,110.3 642.2,107.2 641.2,104.8 640.2,110.8 639.2,110.3 638.2,105.6 637.2,106.7 636.2,107.4 635.2,107.5 634.2,111.0 633.2,112.2 632.2,115.4 631.2,109.3 630.2,112.1 629.2,111.6 628.2,112.2 627.2,109.2 626.2,110.5 625.2,112.4 624.2,112.1 623.2,113.3 622.2,121.3 621.2,113.9 620.2,114.1 619.2,114.1 618.2,114.6 617.2,114.7 616.2,117.3 615.2,122.7 614.2,118.6 613.2,119.9 612.2,123.3 611.2,120.0 610.2,120.2 609.2,120.7 608.2,120.4 607.2,124.3 606.2,129.0 605.2,127.9 604.2,129.7 603.2,123.7 602.2,129.8 601.2,128.5 600.2,123.7 599.2,125.5 598.2,125.1 597.2,127.6 596.2,125.2 595.2,133.0 594.2,124.3 593.2,126.6 592.2,124.8 591.2,127.0 590.2,126.8 589.2,126.9 588.2,129.3 587.2,136.7 586.2,137.1 585.2,129.9 584.2,132.9 583.2,130.7 582.2,129.7 581.2,129.1 580.2,129.4 579.2,131.1 578.2,133.6 577.2,131.9 576.2,132.8 575.2,133.3 574.2,133.8 573.2,137.5 572.2,135.7 571.2,142.2 570.2,137.8 569.2,138.1 568.2,139.9 567.2,140.4 566.2,149.2 565.2,142.5 564.2,145.2 563.2,146.0 562.2,148.4 561.2,150.9 560.2,156.0 559.2,155.4 558.2,153.9 557.2,156.7 556.2,160.6 555.2,161.8 554.2,163.7 553.2,172.2 552.2,167.1 551.2,166.9 550.2,170.2 549.2,168.4 548.2,178.1 547.2,172.9 546.2,178.8 545.2,178.8 544.2,180.0 543.2,184.8 542.2,187.0 541.2,194.6 540.2,194.6 539.2,201.1 538.2,204.9 537.2,210.2 536.2,219.7 535.2,221.4 534.2,230.9 533.2,227.1 532.2,233.9 531.2,230.3Z" fill="#3b528b" fill-opacity="0.15" stroke="none"/>
<path d="M531.1,226.7 532.1,220.1 533.1,211.3 534.1,207.8 535.1,201.9 536.1,194.7 537.1,187.7 538.1,184.2 539.1,179.2 540.1,170.3 541.1,168.1 542.1,165.7 543.1,161.9 544.1,152.1 545.1,155.5 546.1,152.9 547.1,152.3 548.1,147.3 549.1,148.3 550.1,145.8 551.1,141.1 552.1,139.1 553.1,139.6 554.1,136.4 555.1,131.5 556.1,127.8 557.1,123.8 558.1,124.9 559.1,125.2 560.1,122.3 561.1,121.3 562.1,117.7 563.1,113.8 564.1,105.0 565.1,114.3 566.1,113.1 567.1,109.6 568.1,109.3 569.1,106.5 570.1,108.7 571.1,107.6 572.1,103.7 573.1,105.9 574.1,95.7 575.1,104.8 576.1,102.5 577.1,102.1 578.1,102.3 579.1,92.4 580.1,102.0 581.1,100.3 582.1,99.7 583.1,95.2 584.1,92.3 585.1,97.4 586.1,90.7 587.1,95.4 588.1,96.2 589.1,94.2 590.1,87.0 591.1,95.0 592.1,93.6 593.1,94.8 594.1,93.8 595.1,85.0 596.1,94.9 597.1,94.1 598.1,92.5 599.1,94.5 600.1,92.3 601.1,92.4 602.1,92.7 603.1,93.3 604.1,85.5 605.1,92.5 606.1,87.5 607.1,89.9 608.1,91.8 609.1,89.1 610.1,90.1 611.1,82.6 612.1,81.9 613.1,90.2 614.1,88.1 615.1,88.3 616.1,89.1 617.1,86.8 618.1,88.2 619.1,84.7 620.1,87.3 621.1,87.7 622.1,88.9 623.1,88.6 624.1,83.6 625.1,87.3 626.1,86.5 627.1,84.2 628.1,85.9 629.1,83.5 630.1,82.3 631.1,82.8 632.1,84.6 633.1,77.2 634.1,81.9 635.1,79.0 636.1,80.4 637.1,82.4 638.1,84.1 639.1,82.8 640.1,79.7 641.1,82.0 642.1,79.7 643.1,81.2 644.1,81.8 645.1,81.5 646.1,81.3 647.1,76.9 648.1,80.6 649.1,80.3 650.1,78.4 651.1,80.9 652.1,80.1 653.1,79.8 654.1,78.0 655.1,79.3 656.1,79.1 657.1,78.6 658.1,75.2 659.1,78.3 660.1,77.5 661.1,74.6 662.1,77.8 663.1,73.7 664.1,77.2 665.1,78.4 666.1,78.9 667.1,77.9 668.1,73.8 669.1,72.3 670.1,75.5 671.1,75.7 672.1,75.7 673.1,72.6 674.1,76.8 675.1,75.3 676.1,76.1 677.1,73.6 678.1,72.2 679.1,72.2 680.1,76.7 681.1,76.3 682.1,76.9 683.1,74.5 684.1,76.8 685.1,75.6 686.1,75.1 687.1,75.1 688.1,75.7 689.1,75.5 690.1,75.2 691.1,74.8 692.1,74.8 693.1,75.9 694.1,76.1 695.1,75.4 696.1,75.3 697.1,75.0 698.1,75.0 699.1,75.2 700.1,75.7 701.1,74.9 702.1,75.4 703.1,74.4 704.1,74.7 705.1,75.4 706.1,70.8 707.1,74.0 708.1,75.1 709.1,73.6 710.1,74.2 711.1,73.1 712.1,74.4 713.1,72.7 714.1,70.0 715.1,72.2 716.1,70.1 717.1,73.3 718.1,70.1 719.1,72.9 720.1,69.6 721.1,73.1 722.1,72.2 723.1,73.6 724.1,72.3 725.1,71.3 726.1,73.3 727.1,73.0 728.1,73.9 729.1,73.0 730.1,72.2 731.1,71.4 732.1,68.5 733.1,73.2 734.1,73.1 735.1,72.4 736.1,71.4 737.1,72.9 738.1,71.4 739.1,73.9 740.1,72.2 741.1,73.1 742.1,72.7 743.1,71.2 744.1,72.3 745.1,70.6 746.1,72.2 747.1,70.1 748.1,72.0 749.1,70.2 750.1,72.5 751.1,71.7 752.1,69.3 753.1,71.7 754.1,70.0 755.1,70.3 756.1,71.2 757.1,71.2 758.1,71.1 759.1,71.6 760.1,69.9 761.1,69.9 762.1,70.0 763.1,67.6 764.1,71.1 765.1,70.3 766.1,70.0 767.1,70.9 768.1,68.4 769.1,70.4 770.1,70.0 771.1,71.4 772.1,71.5 773.1,70.8 774.1,70.1 775.1,70.2 776.1,69.2 777.1,67.2 778.1,70.5 779.1,70.3 780.1,70.6 781.1,70.2 782.1,68.2 783.1,69.7 784.1,70.8 785.1,70.4 786.1,69.7 787.1,69.8 788.1,68.8 789.1,65.6 790.1,68.1 791.1,69.4 792.1,69.4 793.1,68.6 794.1,69.1 795.1,66.2 796.1,67.9 797.1,68.4 798.1,70.1 799.1,69.8 800.1,69.1 801.1,67.1 802.1,68.3 803.1,68.5 804.1,68.0 805.1,69.5 806.1,69.1 807.1,69.8 808.1,69.1 809.1,66.7 810.1,68.9 811.1,69.3 812.1,69.5 813.1,68.8 813.1,72.1 812.1,73.0 811.1,73.2 810.1,71.9 809.1,74.5 808.1,71.9 807.1,72.5 806.1,73.4 805.1,72.3 804.1,71.4 803.1,72.0 802.1,73.8 801.1,72.1 800.1,72.1 799.1,73.2 798.1,76.2 797.1,73.1 796.1,73.4 795.1,71.2 794.1,72.0 793.1,73.1 792.1,73.4 791.1,73.3 790.1,72.5 789.1,72.1 788.1,71.9 787.1,73.4 786.1,72.3 785.1,73.4 784.1,73.7 783.1,73.4 782.1,72.8 781.1,72.8 780.1,75.2 779.1,76.0 778.1,76.6 777.1,73.1 776.1,72.8 775.1,76.0 774.1,73.4 773.1,73.5 772.1,74.5 771.1,77.5 770.1,72.9 769.1,73.4 768.1,75.0 767.1,73.6 766.1,75.1 765.1,73.8 764.1,74.8 763.1,74.1 762.1,74.5 761.1,76.5 760.1,74.7 759.1,77.0 758.1,75.5 757.1,74.2 756.1,73.7 755.1,73.4 754.1,75.4 753.1,74.3 752.1,76.3 751.1,74.6 750.1,75.0 749.1,74.6 748.1,74.7 747.1,75.3 746.1,74.7 745.1,74.2 744.1,75.2 743.1,74.8 742.1,77.4 741.1,76.1 740.1,76.7 739.1,76.9 738.1,77.6 737.1,75.4 736.1,78.4 735.1,76.4 734.1,76.3 733.1,76.4 732.1,75.0 731.1,77.2 730.1,78.1 729.1,77.4 728.1,77.8 727.1,76.4 726.1,76.9 725.1,76.5 724.1,75.0 723.1,76.4 722.1,76.4 721.1,80.1 720.1,76.1 719.1,76.4 718.1,76.2 717.1,77.2 716.1,76.7 715.1,76.5 714.1,77.0 713.1,76.6 712.1,78.3 711.1,78.6 710.1,76.9 709.1,76.8 708.1,77.7 707.1,77.4 706.1,77.8 705.1,80.1 704.1,77.8 703.1,77.6 702.1,78.4 701.1,81.0 700.1,79.6 699.1,80.2 698.1,78.9 697.1,77.5 696.1,78.3 695.1,79.7 694.1,79.8 693.1,78.9 692.1,77.8 691.1,79.0 690.1,79.5 689.1,79.0 688.1,78.8 687.1,78.6 686.1,78.7 685.1,78.4 684.1,80.0 683.1,82.3 682.1,80.2 681.1,83.3 680.1,79.5 679.1,79.7 678.1,79.6 677.1,78.8 676.1,79.7 675.1,79.3 674.1,79.8 673.1,79.8 672.1,80.2 671.1,80.4 670.1,78.9 669.1,79.8 668.1,80.1 667.1,82.5 666.1,81.8 665.1,82.5 664.1,80.9 663.1,81.4 662.1,81.6 661.1,82.7 660.1,82.2 659.1,82.6 658.1,83.7 657.1,86.4 656.1,82.2 655.1,83.7 654.1,85.5 653.1,83.9 652.1,84.0 651.1,87.3 650.1,84.1 649.1,85.2 648.1,84.5 647.1,87.4 646.1,84.8 645.1,85.2 644.1,85.6 643.1,87.1 642.1,86.4 641.1,86.2 640.1,86.6 639.1,91.7 638.1,89.8 637.1,89.7 636.1,90.2 635.1,87.5 634.1,92.2 633.1,89.7 632.1,90.8 631.1,91.5 630.1,97.0 629.1,94.3 628.1,91.7 627.1,93.1 626.1,95.8 625.1,92.9 624.1,95.9 623.1,94.8 622.1,97.3 621.1,95.4 620.1,94.5 619.1,95.7 618.1,96.3 617.1,95.8 616.1,99.3 615.1,97.0 614.1,98.8 613.1,104.9 612.1,96.9 611.1,101.8 610.1,100.3 609.1,101.1 608.1,106.7 607.1,107.5 606.1,100.8 605.1,101.0 604.1,101.0 603.1,101.5 602.1,110.5 601.1,111.6 600.1,105.0 599.1,105.0 598.1,103.8 597.1,103.6 596.1,110.0 595.1,104.8 594.1,106.9 593.1,110.9 592.1,106.6 591.1,106.0 590.1,107.7 589.1,108.4 588.1,109.4 587.1,110.0 586.1,108.5 585.1,108.9 584.1,110.3 583.1,113.0 582.1,110.9 581.1,112.3 580.1,113.4 579.1,113.5 578.1,117.9 577.1,114.3 576.1,113.5 575.1,119.0 574.1,114.2 573.1,114.3 572.1,116.0 571.1,116.8 570.1,117.3 569.1,121.2 568.1,120.1 567.1,121.4 566.1,121.3 565.1,122.6 564.1,123.1 563.1,131.2 562.1,128.7 561.1,132.1 560.1,134.2 559.1,136.2 558.1,142.3 557.1,136.5 556.1,139.2 555.1,140.0 554.1,145.1 553.1,146.6 552.1,148.9 551.1,149.7 550.1,152.8 549.1,154.3 548.1,157.7 547.1,157.7 546.1,167.1 545.1,162.9 544.1,165.8 543.1,167.4 542.1,171.0 541.1,177.7 540.1,184.4 539.1,183.6 538.1,191.3 537.1,193.2 536.1,201.2 535.1,206.8 534.1,210.8 533.1,218.2 532.1,223.7 531.1,229.2Z" fill="#25848e" fill-opacity="0.22" stroke="none"/>
<path d="M531.1,225.9 532.1,218.4 533.1,212.1 534.1,207.4 535.1,200.9 536.1,195.6 537.1,189.2 538.1,180.2 539.1,172.0 540.1,170.3 541.1,164.8 542.1,156.7 543.1,155.5 544.1,154.5 545.1,150.8 546.1,151.5 547.1,148.0 548.1,142.3 549.1,143.6 550.1,141.1 551.1,138.9 552.1,137.1 553.1,135.2 554.1,132.7 555.1,128.7 556.1,128.6 557.1,125.9 558.1,120.4 559.1,122.3 560.1,120.7 561.1,121.3 562.1,119.4 563.1,118.1 564.1,115.8 565.1,110.1 566.1,109.6 567.1,114.5 568.1,114.3 569.1,112.8 570.1,107.6 571.1,109.7 572.1,109.8 573.1,106.4 574.1,110.3 575.1,107.7 576.1,103.8 577.1,107.2 578.1,102.9 579.1,100.2 580.1,103.2 581.1,104.0 582.1,101.8 583.1,104.8 584.1,105.1 585.1,103.2 586.1,103.9 587.1,103.5 588.1,102.9 589.1,99.3 590.1,100.1 591.1,101.1 592.1,99.2 593.1,101.5 594.1,95.6 595.1,96.7 596.1,99.7 597.1,93.3 598.1,99.6 599.1,99.0 600.1,97.8 601.1,94.5 602.1,97.3 603.1,96.8 604.1,96.9 605.1,94.4 606.1,95.7 607.1,94.7 608.1,97.0 609.1,94.9 610.1,94.9 611.1,93.4 612.1,91.7 613.1,87.3 614.1,92.9 615.1,92.6 616.1,92.6 617.1,92.9 618.1,88.9 619.1,88.8 620.1,91.4 621.1,87.3 622.1,88.7 623.1,89.7 624.1,89.5 625.1,88.4 626.1,88.6 627.1,88.1 628.1,85.8 629.1,83.5 630.1,85.3 631.1,87.1 632.1,87.1 633.1,81.7 634.1,86.0 635.1,83.7 636.1,85.0 637.1,85.5 638.1,84.7 639.1,83.3 640.1,84.7 641.1,80.2 642.1,81.1 643.1,81.3 644.1,82.9 645.1,79.0 646.1,79.9 647.1,81.6 648.1,80.9 649.1,81.4 650.1,80.7 651.1,81.3 652.1,78.1 653.1,80.3 654.1,80.5 655.1,80.9 656.1,80.3 657.1,76.6 658.1,78.4 659.1,78.7 660.1,76.0 661.1,80.3 662.1,77.5 663.1,76.9 664.1,76.5 665.1,74.0 666.1,76.4 667.1,74.5 668.1,77.4 669.1,77.1 670.1,76.4 671.1,76.2 672.1,76.1 673.1,76.6 674.1,74.1 675.1,76.2 676.1,73.7 677.1,77.6 678.1,77.3 679.1,75.9 680.1,76.1 681.1,75.0 682.1,77.4 683.1,76.3 684.1,77.0 685.1,76.0 686.1,75.4 687.1,76.4 688.1,76.0 689.1,76.0 690.1,75.7 691.1,75.1 692.1,75.4 693.1,75.7 694.1,75.8 695.1,75.7 696.1,74.4 697.1,72.0 698.1,73.9 699.1,72.9 700.1,74.4 701.1,73.6 702.1,74.8 703.1,74.4 704.1,73.9 705.1,73.2 706.1,73.9 707.1,71.4 708.1,72.4 709.1,73.2 710.1,73.4 711.1,74.5 712.1,75.5 713.1,75.2 714.1,75.2 715.1,73.7 716.1,72.5 717.1,73.3 718.1,73.6 719.1,73.9 720.1,73.1 721.1,73.0 722.1,73.5 723.1,73.3 724.1,73.6 725.1,73.7 726.1,72.7 727.1,71.3 728.1,71.1 729.1,71.8 730.1,72.0 731.1,71.6 732.1,73.1 733.1,72.3 734.1,73.6 735.1,73.9 736.1,71.8 737.1,72.2 738.1,71.6 739.1,71.9 740.1,72.3 741.1,72.0 742.1,71.3 743.1,71.6 744.1,70.0 745.1,73.2 746.1,73.2 747.1,72.5 748.1,70.6 749.1,72.1 750.1,71.5 751.1,71.3 752.1,70.7 753.1,70.9 754.1,70.3 755.1,72.6 756.1,72.1 757.1,71.0 758.1,70.5 759.1,68.8 760.1,70.8 761.1,70.8 762.1,69.7 763.1,70.4 764.1,68.3 765.1,71.8 766.1,67.5 767.1,69.6 768.1,70.3 769.1,70.9 770.1,72.9 771.1,68.7 772.1,70.4 773.1,69.6 774.1,70.6 775.1,69.9 776.1,70.3 777.1,69.9 778.1,70.6 779.1,69.5 780.1,69.1 781.1,68.7 782.1,70.5 783.1,70.7 784.1,67.0 785.1,69.6 786.1,69.5 787.1,68.6 788.1,67.4 789.1,70.4 790.1,70.4 791.1,69.0 792.1,68.1 793.1,67.7 794.1,69.0 795.1,68.9 796.1,69.0 797.1,68.9 798.1,70.1 799.1,70.4 800.1,67.2 801.1,68.7 802.1,68.9 803.1,68.0 804.1,67.1 805.1,69.0 806.1,68.4 807.1,68.5 808.1,68.3 809.1,67.8 810.1,69.0 811.1,69.6 812.1,70.2 813.1,68.4 813.1,71.4 812.1,73.0 811.1,73.2 810.1,71.6 809.1,72.9 808.1,71.4 807.1,73.7 806.1,71.3 805.1,71.6 804.1,71.4 803.1,71.1 802.1,71.8 801.1,73.8 800.1,74.0 799.1,73.2 798.1,74.2 797.1,72.1 796.1,71.9 795.1,71.5 794.1,71.5 793.1,72.7 792.1,70.9 791.1,71.7 790.1,74.1 789.1,73.9 788.1,73.0 787.1,72.6 786.1,74.8 785.1,72.3 784.1,71.9 783.1,73.9 782.1,73.1 781.1,71.9 780.1,73.1 779.1,73.0 778.1,73.5 777.1,73.7 776.1,72.7 775.1,75.0 774.1,74.7 773.1,74.4 772.1,74.2 771.1,74.1 770.1,75.4 769.1,74.1 768.1,73.9 767.1,72.5 766.1,72.5 765.1,75.5 764.1,73.4 763.1,74.1 762.1,73.7 761.1,73.7 760.1,75.8 759.1,74.9 758.1,73.8 757.1,74.6 756.1,77.1 755.1,77.4 754.1,75.8 753.1,75.6 752.1,74.1 751.1,75.7 750.1,77.0 749.1,74.7 748.1,75.0 747.1,75.3 746.1,76.8 745.1,75.9 744.1,74.8 743.1,74.8 742.1,74.8 741.1,74.6 740.1,75.2 739.1,75.4 738.1,74.8 737.1,75.4 736.1,75.5 735.1,76.9 734.1,77.3 733.1,75.5 732.1,77.9 731.1,75.2 730.1,75.2 729.1,74.9 728.1,73.7 727.1,74.7 726.1,75.3 725.1,77.3 724.1,76.4 723.1,78.4 722.1,76.0 721.1,77.0 720.1,78.8 719.1,79.0 718.1,77.6 717.1,75.9 716.1,76.9 715.1,76.7 714.1,78.8 713.1,78.3 712.1,79.2 711.1,77.2 710.1,76.8 709.1,76.3 708.1,77.4 707.1,76.8 706.1,76.9 705.1,76.6 704.1,76.7 703.1,77.8 702.1,77.9 701.1,80.1 700.1,77.4 699.1,79.4 698.1,76.5 697.1,77.1 696.1,77.1 695.1,78.3 694.1,79.2 693.1,79.1 692.1,79.4 691.1,78.3 690.1,79.2 689.1,78.8 688.1,80.3 687.1,79.0 686.1,79.8 685.1,80.1 684.1,80.5 683.1,79.9 682.1,79.8 681.1,80.2 680.1,81.8 679.1,79.4 678.1,80.0 677.1,80.1 676.1,79.0 675.1,79.2 674.1,78.3 673.1,81.1 672.1,79.3 671.1,79.8 670.1,79.8 669.1,81.1 668.1,80.1 667.1,80.6 666.1,79.4 665.1,79.6 664.1,80.4 663.1,80.3 662.1,82.0 661.1,83.3 660.1,84.7 659.1,83.4 658.1,83.2 657.1,83.5 656.1,85.0 655.1,84.4 654.1,87.5 653.1,85.5 652.1,84.0 651.1,84.3 650.1,84.2 649.1,84.2 648.1,87.0 647.1,84.8 646.1,85.3 645.1,85.1 644.1,86.2 643.1,86.7 642.1,87.1 641.1,87.3 640.1,87.2 639.1,87.0 638.1,89.0 637.1,88.5 636.1,88.7 635.1,89.5 634.1,88.7 633.1,92.8 632.1,90.1 631.1,90.2 630.1,93.5 629.1,89.9 628.1,90.8 627.1,92.1 626.1,92.2 625.1,95.7 624.1,92.2 623.1,92.2 622.1,94.3 621.1,93.0 620.1,95.0 619.1,94.9 618.1,94.5 617.1,98.3 616.1,95.8 615.1,96.2 614.1,99.8 613.1,100.8 612.1,96.9 611.1,98.8 610.1,99.3 609.1,98.9 608.1,100.9 607.1,99.0 606.1,101.7 605.1,102.2 604.1,101.1 603.1,100.1 602.1,102.0 601.1,101.7 600.1,101.2 599.1,101.5 598.1,102.1 597.1,102.7 596.1,105.4 595.1,103.2 594.1,105.5 593.1,106.3 592.1,106.6 591.1,105.1 590.1,105.5 589.1,108.1 588.1,106.9 587.1,112.3 586.1,108.5 585.1,107.5 584.1,108.2 583.1,109.9 582.1,109.8 581.1,107.1 580.1,107.7 579.1,109.2 578.1,110.4 577.1,111.4 576.1,111.3 575.1,112.3 574.1,113.9 573.1,114.8 572.1,112.4 571.1,112.9 570.1,116.5 569.1,115.3 568.1,117.4 567.1,117.5 566.1,118.1 565.1,118.6 564.1,120.3 563.1,123.5 562.1,122.9 561.1,124.2 560.1,124.3 559.1,125.6 558.1,127.1 557.1,131.7 556.1,132.0 555.1,135.8 554.1,137.5 553.1,138.1 552.1,142.6 551.1,146.2 550.1,145.1 549.1,147.7 548.1,150.4 547.1,154.0 546.1,155.6 545.1,157.6 544.1,162.4 543.1,162.5 542.1,163.9 541.1,169.3 540.1,177.3 539.1,178.9 538.1,186.1 537.1,196.4 536.1,198.4 535.1,205.0 534.1,212.2 533.1,217.1 532.1,223.2 531.1,229.1Z" fill="#2fb47c" fill-opacity="0.16" stroke="none"/>
<path d="M531.1,226.6 532.1,220.4 533.1,214.2 534.1,208.2 535.1,202.3 536.1,194.3 537.1,185.6 538.1,182.4 539.1,175.3 540.1,167.9 541.1,161.6 542.1,159.7 543.1,153.5 544.1,154.2 545.1,151.1 546.1,147.9 547.1,145.6 548.1,143.4 549.1,141.1 550.1,138.9 551.1,136.8 552.1,132.5 553.1,130.9 554.1,129.2 555.1,129.0 556.1,126.6 557.1,125.7 558.1,123.7 559.1,121.0 560.1,120.4 561.1,120.7 562.1,118.9 563.1,117.4 564.1,116.5 565.1,115.1 566.1,113.2 567.1,110.9 568.1,112.9 569.1,112.2 570.1,112.7 571.1,111.5 572.1,111.3 573.1,110.6 574.1,109.6 575.1,110.0 576.1,109.2 577.1,104.5 578.1,106.8 579.1,107.9 580.1,107.7 581.1,107.5 582.1,106.3 583.1,107.6 584.1,103.7 585.1,103.3 586.1,104.4 587.1,102.5 588.1,104.3 589.1,104.1 590.1,103.8 591.1,104.7 592.1,102.8 593.1,102.8 594.1,101.3 595.1,101.6 596.1,101.9 597.1,100.6 598.1,98.5 599.1,101.2 600.1,100.8 601.1,98.9 602.1,96.3 603.1,99.9 604.1,97.7 605.1,97.6 606.1,98.0 607.1,96.2 608.1,93.0 609.1,97.1 610.1,93.4 611.1,97.0 612.1,95.9 613.1,95.6 614.1,94.8 615.1,94.8 616.1,92.0 617.1,94.5 618.1,93.9 619.1,93.7 620.1,93.3 621.1,90.4 622.1,91.5 623.1,92.8 624.1,92.2 625.1,92.2 626.1,90.5 627.1,87.1 628.1,90.7 629.1,90.7 630.1,86.3 631.1,85.9 632.1,88.2 633.1,88.9 634.1,87.7 635.1,85.2 636.1,86.1 637.1,84.8 638.1,86.6 639.1,87.0 640.1,85.4 641.1,83.5 642.1,85.1 643.1,84.5 644.1,83.7 645.1,83.2 646.1,83.5 647.1,83.0 648.1,81.5 649.1,82.3 650.1,82.3 651.1,81.1 652.1,81.9 653.1,80.3 654.1,80.9 655.1,79.6 656.1,80.9 657.1,79.9 658.1,78.7 659.1,79.0 660.1,79.2 661.1,78.4 662.1,76.9 663.1,79.4 664.1,78.0 665.1,77.5 666.1,76.5 667.1,78.4 668.1,78.5 669.1,78.2 670.1,77.1 671.1,75.7 672.1,74.8 673.1,75.0 674.1,73.4 675.1,76.6 676.1,77.4 677.1,76.4 678.1,77.8 679.1,78.0 680.1,77.3 681.1,76.4 682.1,75.9 683.1,77.5 684.1,77.9 685.1,76.4 686.1,77.3 687.1,76.9 688.1,76.0 689.1,76.3 690.1,74.6 691.1,75.8 692.1,76.0 693.1,76.7 694.1,76.2 695.1,77.3 696.1,76.6 697.1,72.4 698.1,73.4 699.1,74.4 700.1,75.2 701.1,74.7 702.1,73.9 703.1,74.1 704.1,73.6 705.1,74.1 706.1,74.0 707.1,73.5 708.1,74.8 709.1,74.1 710.1,73.4 711.1,73.9 712.1,75.5 713.1,74.2 714.1,72.2 715.1,73.0 716.1,72.8 717.1,72.9 718.1,73.8 719.1,74.4 720.1,72.9 721.1,73.8 722.1,74.0 723.1,72.8 724.1,74.2 725.1,73.6 726.1,73.7 727.1,73.5 728.1,70.0 729.1,70.6 730.1,70.6 731.1,72.7 732.1,72.5 733.1,72.4 734.1,72.9 735.1,72.3 736.1,72.1 737.1,73.3 738.1,73.5 739.1,73.5 740.1,72.6 741.1,73.0 742.1,73.8 743.1,73.1 744.1,71.6 745.1,69.8 746.1,69.9 747.1,71.2 748.1,70.7 749.1,72.6 750.1,71.9 751.1,71.3 752.1,71.7 753.1,71.3 754.1,71.9 755.1,69.9 756.1,67.9 757.1,70.2 758.1,70.5 759.1,70.2 760.1,69.9 761.1,70.8 762.1,70.0 763.1,68.9 764.1,70.0 765.1,68.1 766.1,71.1 767.1,70.9 768.1,68.4 769.1,68.5 770.1,68.3 771.1,68.7 772.1,67.2 773.1,69.6 774.1,67.7 775.1,70.0 776.1,70.1 777.1,71.5 778.1,69.9 779.1,69.5 780.1,69.1 781.1,68.9 782.1,68.6 783.1,69.5 784.1,70.4 785.1,70.6 786.1,70.0 787.1,70.9 788.1,69.3 789.1,70.3 790.1,69.9 791.1,68.8 792.1,67.2 793.1,68.5 794.1,68.2 795.1,69.0 796.1,70.5 797.1,69.6 798.1,68.8 799.1,70.2 800.1,69.9 801.1,68.1 802.1,70.0 803.1,69.1 804.1,68.3 805.1,69.3 806.1,69.6 807.1,66.3 808.1,66.9 809.1,66.2 810.1,69.7 811.1,68.8 812.1,68.2 813.1,68.1 813.1,71.6 812.1,73.3 811.1,73.7 810.1,72.8 809.1,71.5 808.1,71.2 807.1,71.5 806.1,72.2 805.1,72.1 804.1,74.1 803.1,72.3 802.1,73.6 801.1,73.0 800.1,74.0 799.1,73.4 798.1,71.9 797.1,74.0 796.1,75.5 795.1,72.4 794.1,73.7 793.1,71.2 792.1,72.4 791.1,72.8 790.1,74.5 789.1,73.7 788.1,74.8 787.1,73.8 786.1,73.5 785.1,73.3 784.1,75.1 783.1,72.3 782.1,73.7 781.1,71.7 780.1,72.3 779.1,73.1 778.1,74.7 777.1,74.3 776.1,74.6 775.1,75.3 774.1,73.3 773.1,72.7 772.1,72.3 771.1,73.8 770.1,74.3 769.1,72.7 768.1,73.8 767.1,73.4 766.1,73.9 765.1,73.6 764.1,75.0 763.1,74.3 762.1,73.3 761.1,73.9 760.1,73.5 759.1,73.4 758.1,74.1 757.1,73.1 756.1,75.2 755.1,74.4 754.1,74.8 753.1,74.3 752.1,74.1 751.1,74.0 750.1,75.0 749.1,75.0 748.1,74.3 747.1,74.0 746.1,75.2 745.1,77.1 744.1,74.4 743.1,76.1 742.1,76.6 741.1,75.4 740.1,77.9 739.1,76.8 738.1,77.2 737.1,76.0 736.1,75.2 735.1,75.3 734.1,75.8 733.1,75.3 732.1,75.1 731.1,77.2 730.1,75.6 729.1,76.3 728.1,75.3 727.1,76.3 726.1,79.3 725.1,76.4 724.1,76.7 723.1,79.1 722.1,77.1 721.1,77.6 720.1,76.3 719.1,77.2 718.1,78.0 717.1,76.6 716.1,75.3 715.1,75.8 714.1,75.2 713.1,78.3 712.1,79.7 711.1,76.8 710.1,76.2 709.1,77.0 708.1,77.6 707.1,78.3 706.1,76.7 705.1,77.2 704.1,76.8 703.1,78.0 702.1,76.5 701.1,77.3 700.1,78.1 699.1,77.1 698.1,77.5 697.1,77.4 696.1,80.2 695.1,80.1 694.1,79.8 693.1,80.9 692.1,79.3 691.1,79.2 690.1,79.2 689.1,79.3 688.1,78.9 687.1,80.3 686.1,81.0 685.1,79.4 684.1,80.3 683.1,80.5 682.1,79.7 681.1,79.2 680.1,82.1 679.1,81.3 678.1,81.9 677.1,79.8 676.1,80.0 675.1,80.0 674.1,81.0 673.1,78.6 672.1,78.3 671.1,79.7 670.1,80.1 669.1,80.9 668.1,83.0 667.1,83.8 666.1,82.1 665.1,83.9 664.1,82.1 663.1,81.9 662.1,82.0 661.1,83.1 660.1,82.7 659.1,82.4 658.1,81.2 657.1,82.7 656.1,83.4 655.1,83.4 654.1,83.5 653.1,86.3 652.1,85.3 651.1,85.1 650.1,86.1 649.1,85.4 648.1,85.1 647.1,85.9 646.1,86.5 645.1,88.3 644.1,87.4 643.1,90.5 642.1,88.8 641.1,87.9 640.1,89.1 639.1,90.0 638.1,90.2 637.1,90.6 636.1,92.5 635.1,91.2 634.1,90.6 633.1,91.7 632.1,91.7 631.1,95.8 630.1,92.7 629.1,97.1 628.1,93.3 627.1,94.6 626.1,94.2 625.1,95.2 624.1,95.1 623.1,99.4 622.1,95.7 621.1,95.2 620.1,98.4 619.1,97.9 618.1,97.8 617.1,97.7 616.1,97.9 615.1,98.1 614.1,98.5 613.1,100.2 612.1,100.9 611.1,100.4 610.1,102.2 609.1,101.7 608.1,102.2 607.1,100.4 606.1,101.2 605.1,101.9 604.1,103.7 603.1,102.5 602.1,107.6 601.1,105.8 600.1,105.2 599.1,103.8 598.1,105.7 597.1,109.4 596.1,108.3 595.1,105.7 594.1,106.7 593.1,106.2 592.1,105.9 591.1,109.5 590.1,107.5 589.1,107.2 588.1,111.3 587.1,108.1 586.1,108.1 585.1,108.4 584.1,107.8 583.1,110.2 582.1,112.5 581.1,111.3 580.1,110.6 579.1,111.4 578.1,111.7 577.1,111.4 576.1,112.2 575.1,118.0 574.1,113.8 573.1,114.1 572.1,118.9 571.1,118.8 570.1,120.5 569.1,116.9 568.1,118.0 567.1,120.2 566.1,116.4 565.1,119.1 564.1,123.8 563.1,121.7 562.1,123.0 561.1,125.3 560.1,124.9 559.1,125.5 558.1,130.4 557.1,130.9 556.1,131.4 555.1,133.5 554.1,132.7 553.1,135.1 552.1,137.4 551.1,141.5 550.1,145.7 549.1,148.2 548.1,147.7 547.1,148.5 546.1,151.1 545.1,154.1 544.1,157.0 543.1,161.4 542.1,163.1 541.1,166.2 540.1,170.6 539.1,180.7 538.1,189.0 537.1,192.0 536.1,199.5 535.1,205.6 534.1,212.5 533.1,217.2 532.1,225.2 531.1,229.2Z" fill="#9bd93c" fill-opacity="0.14" stroke="none"/>
<polyline points="531.2,228.1 531.7,226.5 532.2,226.4 532.7,224.8 533.2,224.2 533.7,222.4 534.2,221.6 534.7,219.4 535.2,219.2 535.7,216.1 536.2,216.8 536.7,213.5 537.2,213.7 537.7,210.4 538.2,210.3 538.7,206.6 539.2,207.5 539.7,203.1 540.2,204.6 540.7,200.8 541.2,201.8 541.7,198.6 542.2,200.1 542.7,195.7 543.2,197.4 543.7,192.0 544.2,195.2 544.7,189.4 545.2,194.5 545.7,190.8 546.2,193.7 546.7,189.2 547.2,192.5 547.7,188.6 548.2,190.8 548.7,186.1 549.2,189.9 549.7,183.3 550.2,188.7 550.7,183.5 551.2,187.8 551.7,184.0 552.2,188.3 552.7,182.9 553.2,187.5 553.7,184.5 554.2,188.9 554.7,184.7 555.2,189.3 555.7,181.1 556.2,186.4 556.7,181.7 557.2,185.4 557.7,179.9 558.2,183.2 558.7,180.5 559.2,184.8 559.7,179.0 560.2,183.0 560.7,179.0 561.2,182.0 561.7,175.9 562.2,180.1 562.7,174.8 563.2,180.5 563.7,174.6 564.2,180.3 564.7,176.5 565.2,179.6 565.7,173.8 566.2,179.7 566.7,173.6 567.2,180.5 567.7,176.5 568.2,180.8 568.7,175.2 569.2,182.2 569.7,175.0 570.2,181.9 570.7,177.4 571.2,182.6 571.7,176.4 572.2,182.3 572.7,176.0 573.2,180.4 573.7,177.1 574.2,180.4 574.7,175.3 575.2,178.4 575.7,173.3 576.2,179.5 576.7,172.2 577.2,179.1 577.7,173.0 578.2,178.1 578.7,174.9 579.2,179.6 579.7,174.3 580.2,180.1 580.7,175.9 581.2,180.0 581.7,177.4 582.2,179.0 582.7,174.1 583.2,180.1 583.7,173.5 584.2,180.4 584.7,175.1 585.2,181.1 585.7,176.5 586.2,181.0 586.7,173.9 587.2,180.2 587.7,170.9 588.2,177.9 588.7,171.3 589.2,177.5 589.7,173.9 590.2,176.7 590.7,173.6 591.2,176.4 591.7,172.4 592.2,175.5 592.7,172.4 593.2,177.6 593.7,172.2 594.2,177.3 594.7,171.0 595.2,178.7 595.7,171.3 596.2,178.4 596.7,172.3 597.2,176.7 597.7,173.7 598.2,177.4 598.7,169.8 599.2,174.4 599.7,169.4 600.2,173.8 600.7,169.3 601.2,176.9 601.7,170.7 602.2,176.5 602.7,172.3 603.2,175.9 603.7,171.3 604.2,174.5 604.7,170.2 605.2,174.1 605.7,168.1 606.2,171.9 606.7,166.4 607.2,173.0 607.7,169.1 608.2,173.9 608.7,168.5 609.2,176.1 609.7,170.0 610.2,174.1 610.7,171.0 611.2,173.0 611.7,170.0 612.2,173.2 612.7,169.1 613.2,172.1 613.7,168.3 614.2,171.3 614.7,167.2 615.2,171.2 615.7,166.7 616.2,171.3 616.7,168.5 617.2,172.1 617.7,167.5 618.2,171.1 618.7,165.1 619.2,171.0 619.7,166.0 620.2,170.6 620.7,164.8 621.2,170.8 621.7,163.3 622.2,170.1 622.7,163.6 623.2,170.4 623.7,163.8 624.2,172.1 624.7,166.6 625.2,170.5 625.7,167.7 626.2,170.8 626.7,166.6 627.2,173.7 627.7,165.0 628.2,172.9 628.7,163.8 629.2,171.3 629.7,164.8 630.2,171.2 630.7,168.2 631.2,172.4 631.7,167.9 632.2,172.6 632.7,168.0 633.2,172.5 633.7,166.8 634.2,171.0 634.7,165.6 635.2,170.8 635.7,166.5 636.2,173.0 636.7,166.1 637.2,173.1 637.7,167.8 638.2,171.8 638.7,167.9 639.2,171.9 639.7,165.9 640.2,168.9 640.7,165.8 641.2,171.4 641.7,166.4 642.2,171.5 642.7,166.4 643.2,171.2 643.7,161.4 644.2,169.2 644.7,162.0 645.2,166.9 645.7,161.5 646.2,170.1 646.7,162.8 647.2,168.4 647.7,164.4 648.2,167.2 648.7,163.1 649.2,166.1 649.7,159.6 650.2,162.2 650.7,156.9 651.2,161.4 651.7,156.5 652.2,164.6 652.7,157.1 653.2,165.4 653.7,161.7 654.2,165.3 654.7,161.0 655.2,168.3 655.7,160.9 656.2,170.0 656.7,163.1 657.2,167.9 657.7,163.0 658.2,167.5 658.7,160.3 659.2,164.8 659.7,161.9 660.2,166.6 660.7,162.7 661.2,169.0 661.7,161.2 662.2,169.1 662.7,161.9 663.2,169.2 663.7,160.2 664.2,170.2 664.7,159.2 665.2,168.5 665.7,162.6 666.2,168.8 666.7,164.3 667.2,169.6 667.7,163.6 668.2,166.9 668.7,161.8 669.2,163.1 669.7,159.1 670.2,164.1 670.7,159.0 671.2,162.0 671.7,158.8 672.2,164.1 672.7,158.2 673.2,162.2 673.7,158.2 674.2,163.3 674.7,158.4 675.2,162.1 675.7,158.3 676.2,163.6 676.7,158.9 677.2,163.0 677.7,157.6 678.2,162.0 678.7,153.0 679.2,162.6 679.7,154.4 680.2,162.8 680.7,159.1 681.2,163.4 681.7,159.5 682.2,163.5 682.7,160.7 683.2,163.5 683.7,160.6 684.2,166.0 684.7,159.6 685.2,162.1 685.7,157.4 686.2,161.5 686.7,157.3 687.2,162.2 687.7,157.6 688.2,162.7 688.7,157.9 689.2,161.5 689.7,154.5 690.2,159.0 690.7,155.0 691.2,160.0 691.7,154.8 692.2,159.3 692.7,156.1 693.2,158.4 693.7,155.1 694.2,159.9 694.7,157.5 695.2,160.8 695.7,158.9 696.2,161.3 696.7,158.1 697.2,160.0 697.7,155.2 698.2,158.3 698.7,153.5 699.2,158.7 699.7,152.3 700.2,158.3 700.7,155.3 701.2,158.7 701.7,155.6 702.2,160.5 702.7,155.5 703.2,160.4 703.7,154.8 704.2,161.9 704.7,153.3 705.2,159.6 705.7,153.3 706.2,158.1 706.7,153.8 707.2,159.1 707.7,153.1 708.2,159.1 708.7,152.5 709.2,157.0 709.7,152.5 710.2,158.7 710.7,152.8 711.2,158.6 711.7,155.3 712.2,156.4 712.7,152.9 713.2,158.4 713.7,152.7 714.2,155.4 714.7,152.3 715.2,156.1 715.7,152.8 716.2,156.8 716.7,153.2 717.2,156.8 717.7,153.4 718.2,157.7 718.7,154.4 719.2,159.9 719.7,155.4 720.2,162.6 720.7,156.2 721.2,162.7 721.7,156.7 722.2,161.7 722.7,156.3 723.2,162.3 723.7,155.8 724.2,160.5 724.7,155.5 725.2,159.4 725.7,157.4 726.2,160.9 726.7,156.2 727.2,161.9 727.7,157.5 728.2,161.2 728.7,156.2 729.2,163.2 729.7,153.9 730.2,160.7 730.7,155.0 731.2,157.9 731.7,152.4 732.2,158.8 732.7,152.4 733.2,158.8 733.7,151.4 734.2,158.3 734.7,150.9 735.2,154.7 735.7,150.9 736.2,155.4 736.7,151.7 737.2,155.1 737.7,153.1 738.2,160.1 738.7,154.1 739.2,159.6 739.7,155.7 740.2,157.7 740.7,151.4 741.2,157.6 741.7,149.6 742.2,156.6 742.7,152.7 743.2,156.7 743.7,153.0 744.2,154.0 744.7,151.2 745.2,155.0 745.7,152.0 746.2,156.4 746.7,153.3 747.2,155.9 747.7,152.4 748.2,157.1 748.7,153.1 749.2,157.1 749.7,152.4 750.2,160.5 750.7,153.0 751.2,158.2 751.7,153.6 752.2,158.4 752.7,153.0 753.2,156.3 753.7,152.0 754.2,158.9 754.7,151.2 755.2,156.7 755.7,152.9 756.2,160.3 756.7,153.7 757.2,158.2 757.7,153.6 758.2,157.4 758.7,153.9 759.2,158.2 759.7,152.2 760.2,157.5 760.7,154.1 761.2,159.4 761.7,151.8 762.2,159.0 762.7,153.1 763.2,157.9 763.7,153.0 764.2,157.1 764.7,150.3 765.2,157.1 765.7,152.7 766.2,157.7 766.7,151.7 767.2,155.5 767.7,151.1 768.2,155.4 768.7,147.5 769.2,154.8 769.7,146.3 770.2,155.1 770.7,150.3 771.2,153.6 771.7,149.7 772.2,154.3 772.7,148.7 773.2,151.9 773.7,148.9 774.2,153.8 774.7,149.5 775.2,155.2 775.7,149.8 776.2,155.3 776.7,149.3 777.2,151.7 777.7,146.4 778.2,151.2 778.7,146.7 779.2,152.2 779.7,146.5 780.2,153.7 780.7,147.6 781.2,152.7 781.7,146.6 782.2,153.5 782.7,145.8 783.2,156.3 783.7,146.7 784.2,154.7 784.7,146.5 785.2,153.2 785.7,147.7 786.2,152.7 786.7,149.4 787.2,154.5 787.7,148.3 788.2,153.5 788.7,149.8 789.2,155.3 789.7,149.3 790.2,156.5 790.7,147.5 791.2,154.0 791.7,147.0 792.2,154.1 792.7,147.9 793.2,156.0 793.7,150.4 794.2,156.1 794.7,152.3 795.2,157.2 795.7,149.9 796.2,157.5 796.7,151.2 797.2,156.0 797.7,152.6 798.2,157.5 798.7,153.0 799.2,159.1 799.7,155.8 800.2,161.7 800.7,158.5 801.2,165.3 801.7,158.9 802.2,164.1 802.7,158.3 803.2,163.8 803.7,158.1 804.2,165.0 804.7,159.8 805.2,163.8 805.7,156.0 806.2,164.7 806.7,155.3 807.2,162.1 807.7,156.9 808.2,162.8 808.7,154.9 809.2,160.0 809.7,152.8 810.2,156.3 810.7,150.3 811.2,155.7 811.7,150.4 812.2,154.3 812.7,150.4 813.2,155.0 813.7,151.5" fill="none" stroke="#471365" stroke-width="3.9" stroke-linejoin="round" stroke-linecap="square"/>
<polyline points="531.2,227.9 531.7,227.2 532.2,226.8 532.7,225.4 533.2,224.8 533.7,223.0 534.2,221.9 534.7,220.0 535.2,219.0 535.7,216.1 536.2,214.3 536.7,210.4 537.2,208.4 537.7,204.4 538.2,203.0 538.7,199.1 539.2,197.7 539.7,194.3 540.2,192.7 540.7,189.1 541.2,188.5 541.7,184.9 542.2,184.8 542.7,181.4 543.2,181.7 543.7,178.1 544.2,178.3 544.7,175.3 545.2,175.7 545.7,172.8 546.2,173.1 546.7,170.5 547.2,170.6 547.7,168.2 548.2,168.2 548.7,166.0 549.2,166.7 549.7,164.2 550.2,165.0 550.7,162.6 551.2,163.7 551.7,161.3 552.2,162.7 552.7,159.7 553.2,162.0 553.7,159.3 554.2,161.1 554.7,157.5 555.2,160.0 555.7,156.2 556.2,157.6 556.7,153.0 557.2,154.7 557.7,151.0 558.2,151.9 558.7,148.8 559.2,150.1 559.7,147.8 560.2,148.9 560.7,146.2 561.2,147.8 561.7,144.6 562.2,146.5 562.7,143.2 563.2,144.1 563.7,140.6 564.2,142.7 564.7,139.2 565.2,140.3 565.7,137.9 566.2,138.4 566.7,136.0 567.2,137.6 567.7,135.0 568.2,136.3 568.7,133.8 569.2,135.2 569.7,133.2 570.2,134.9 570.7,132.5 571.2,134.2 571.7,132.2 572.2,133.5 572.7,131.1 573.2,132.3 573.7,130.6 574.2,131.3 574.7,129.2 575.2,130.8 575.7,128.3 576.2,129.6 576.7,127.3 577.2,128.8 577.7,126.4 578.2,128.2 578.7,125.7 579.2,128.0 579.7,125.1 580.2,126.8 580.7,125.3 581.2,126.4 581.7,124.2 582.2,126.9 582.7,123.8 583.2,127.2 583.7,124.4 584.2,126.1 584.7,123.6 585.2,127.3 585.7,123.7 586.2,126.6 586.7,124.2 587.2,125.6 587.7,123.9 588.2,125.1 588.7,123.4 589.2,124.5 589.7,122.9 590.2,124.6 590.7,121.6 591.2,123.6 591.7,120.6 592.2,122.7 592.7,120.2 593.2,122.0 593.7,120.4 594.2,122.2 594.7,121.7 595.2,123.4 595.7,120.9 596.2,122.7 596.7,120.3 597.2,121.5 597.7,119.4 598.2,121.5 598.7,119.0 599.2,121.3 599.7,118.5 600.2,121.7 600.7,118.2 601.2,119.7 601.7,117.7 602.2,119.0 602.7,117.3 603.2,118.6 603.7,116.9 604.2,118.9 604.7,115.6 605.2,119.1 605.7,115.5 606.2,118.5 606.7,114.9 607.2,117.8 607.7,115.3 608.2,116.8 608.7,115.1 609.2,116.3 609.7,113.9 610.2,116.8 610.7,114.3 611.2,116.3 611.7,113.2 612.2,115.6 612.7,112.4 613.2,115.6 613.7,111.8 614.2,114.6 614.7,111.5 615.2,114.6 615.7,112.2 616.2,113.3 616.7,110.8 617.2,112.4 617.7,111.0 618.2,112.0 618.7,110.2 619.2,112.1 619.7,110.2 620.2,111.9 620.7,109.9 621.2,111.7 621.7,109.1 622.2,111.4 622.7,107.6 623.2,110.8 623.7,107.2 624.2,109.6 624.7,107.8 625.2,108.2 625.7,106.5 626.2,108.6 626.7,105.3 627.2,107.4 627.7,106.7 628.2,109.2 628.7,106.9 629.2,109.3 629.7,106.5 630.2,108.3 630.7,105.0 631.2,106.7 631.7,104.7 632.2,106.1 632.7,104.1 633.2,106.2 633.7,104.2 634.2,105.7 634.7,102.9 635.2,105.7 635.7,103.4 636.2,104.7 636.7,102.3 637.2,104.8 637.7,102.0 638.2,103.3 638.7,101.5 639.2,103.2 639.7,101.7 640.2,103.1 640.7,101.0 641.2,103.1 641.7,101.4 642.2,102.8 642.7,100.2 643.2,101.7 643.7,100.5 644.2,102.2 644.7,100.1 645.2,102.0 645.7,100.5 646.2,102.9 646.7,99.9 647.2,102.6 647.7,99.6 648.2,100.8 648.7,99.1 649.2,100.8 649.7,98.3 650.2,100.8 650.7,99.3 651.2,101.7 651.7,99.4 652.2,100.9 652.7,98.4 653.2,101.1 653.7,99.2 654.2,100.7 654.7,99.4 655.2,101.0 655.7,98.8 656.2,102.2 656.7,98.1 657.2,102.3 657.7,96.9 658.2,100.3 658.7,97.0 659.2,98.9 659.7,96.8 660.2,98.8 660.7,96.8 661.2,98.4 661.7,96.1 662.2,98.2 662.7,95.8 663.2,97.5 663.7,94.3 664.2,98.1 664.7,95.0 665.2,96.9 665.7,95.0 666.2,98.1 666.7,95.5 667.2,97.1 667.7,95.8 668.2,98.3 668.7,96.4 669.2,97.4 669.7,95.6 670.2,98.8 670.7,94.5 671.2,97.9 671.7,94.2 672.2,96.4 672.7,93.9 673.2,96.0 673.7,94.2 674.2,96.0 674.7,93.5 675.2,95.8 675.7,93.8 676.2,95.8 676.7,93.6 677.2,95.8 677.7,92.7 678.2,96.4 678.7,93.6 679.2,96.4 679.7,94.6 680.2,96.5 680.7,94.7 681.2,96.0 681.7,94.8 682.2,96.8 682.7,93.6 683.2,97.1 683.7,93.9 684.2,96.7 684.7,94.1 685.2,96.2 685.7,94.6 686.2,96.2 686.7,93.9 687.2,96.2 687.7,93.5 688.2,95.8 688.7,94.1 689.2,95.8 689.7,94.4 690.2,97.1 690.7,94.4 691.2,96.4 691.7,94.0 692.2,95.4 692.7,93.4 693.2,95.1 693.7,91.4 694.2,94.8 694.7,92.5 695.2,94.4 695.7,91.5 696.2,94.5 696.7,91.7 697.2,94.5 697.7,91.7 698.2,94.2 698.7,92.0 699.2,93.7 699.7,92.0 700.2,93.7 700.7,91.9 701.2,93.5 701.7,90.9 702.2,93.4 702.7,91.8 703.2,93.4 703.7,91.7 704.2,93.6 704.7,91.8 705.2,93.9 705.7,92.4 706.2,94.2 706.7,92.0 707.2,93.2 707.7,91.3 708.2,93.0 708.7,90.7 709.2,92.8 709.7,90.5 710.2,93.5 710.7,91.3 711.2,92.6 711.7,91.3 712.2,92.7 712.7,91.0 713.2,92.4 713.7,89.9 714.2,92.3 714.7,90.6 715.2,92.8 715.7,90.8 716.2,94.4 716.7,90.3 717.2,93.8 717.7,90.7 718.2,93.1 718.7,91.8 719.2,93.7 719.7,91.4 720.2,94.3 720.7,90.6 721.2,93.0 721.7,90.3 722.2,93.4 722.7,89.9 723.2,93.3 723.7,90.6 724.2,93.6 724.7,90.6 725.2,93.0 725.7,90.7 726.2,92.7 726.7,90.7 727.2,93.1 727.7,89.8 728.2,92.0 728.7,89.8 729.2,92.5 729.7,90.4 730.2,92.8 730.7,90.0 731.2,93.4 731.7,89.7 732.2,92.2 732.7,90.9 733.2,92.5 733.7,89.9 734.2,92.7 734.7,90.0 735.2,92.9 735.7,89.7 736.2,92.4 736.7,89.6 737.2,92.1 737.7,89.6 738.2,91.3 738.7,89.7 739.2,91.5 739.7,89.2 740.2,91.3 740.7,90.1 741.2,91.6 741.7,89.5 742.2,91.6 742.7,89.9 743.2,91.4 743.7,89.3 744.2,90.9 744.7,89.1 745.2,91.2 745.7,89.5 746.2,91.8 746.7,89.0 747.2,92.5 747.7,89.7 748.2,92.3 748.7,89.5 749.2,93.1 749.7,89.3 750.2,92.3 750.7,89.5 751.2,90.9 751.7,89.1 752.2,91.0 752.7,88.3 753.2,90.6 753.7,88.2 754.2,90.9 754.7,88.0 755.2,91.3 755.7,88.4 756.2,91.0 756.7,89.4 757.2,91.5 757.7,89.0 758.2,91.8 758.7,89.1 759.2,92.0 759.7,88.6 760.2,90.3 760.7,87.6 761.2,90.1 761.7,93.6 762.2,98.8 762.7,93.0 763.2,90.0 763.7,88.7 764.2,90.8 764.7,88.7 765.2,90.5 765.7,88.7 766.2,90.3 766.7,88.3 767.2,90.3 767.7,88.9 768.2,90.6 768.7,88.4 769.2,90.4 769.7,88.2 770.2,90.5 770.7,87.1 771.2,89.8 771.7,88.0 772.2,90.5 772.7,88.4 773.2,90.8 773.7,87.3 774.2,91.2 774.7,87.6 775.2,90.7 775.7,87.0 776.2,91.1 776.7,87.0 777.2,90.2 777.7,87.6 778.2,89.8 778.7,88.2 779.2,89.7 779.7,88.3 780.2,90.7 780.7,89.0 781.2,91.6 781.7,87.9 782.2,91.4 782.7,88.7 783.2,90.7 783.7,88.1 784.2,91.0 784.7,88.6 785.2,91.1 785.7,87.7 786.2,89.9 786.7,87.6 787.2,89.4 787.7,87.8 788.2,89.7 788.7,88.1 789.2,90.2 789.7,88.6 790.2,90.8 790.7,88.2 791.2,89.3 791.7,87.6 792.2,89.5 792.7,87.0 793.2,89.4 793.7,88.2 794.2,90.0 794.7,87.9 795.2,89.9 795.7,87.5 796.2,89.8 796.7,87.8 797.2,89.5 797.7,88.0 798.2,90.3 798.7,88.1 799.2,89.6 799.7,87.5 800.2,89.5 800.7,86.8 801.2,88.8 801.7,87.1 802.2,88.8 802.7,86.7 803.2,88.9 803.7,86.6 804.2,89.1 804.7,87.1 805.2,90.2 805.7,88.4 806.2,89.7 806.7,87.3 807.2,90.0 807.7,86.8 808.2,89.2 808.7,86.5 809.2,89.2 809.7,86.2 810.2,89.3 810.7,86.9 811.2,88.5 811.7,87.2 812.2,89.6 812.7,87.0 813.2,89.4 813.7,86.6" fill="none" stroke="#3b528b" stroke-width="3.9" stroke-linejoin="round" stroke-linecap="square"/>
<polyline points="531.1,228.0 531.6,224.4 532.1,221.8 532.6,218.4 533.1,215.6 533.6,212.4 534.1,209.6 534.6,206.3 535.1,203.6 535.6,200.1 536.1,197.6 536.6,194.0 537.1,191.4 537.6,187.9 538.1,185.9 538.6,182.4 539.1,180.9 539.6,177.8 540.1,176.0 540.6,172.9 541.1,171.8 541.6,168.8 542.1,167.8 542.6,164.9 543.1,165.1 543.6,161.6 544.1,161.5 544.6,158.5 545.1,159.8 545.6,155.7 546.1,157.3 546.6,154.0 547.1,155.0 547.6,152.0 548.1,152.9 548.6,150.3 549.1,151.4 549.6,148.4 550.1,149.2 550.6,145.4 551.1,146.8 551.6,143.0 552.1,145.1 552.6,140.3 553.1,143.1 553.6,139.2 554.1,139.6 554.6,136.1 555.1,136.5 555.6,133.3 556.1,133.9 556.6,131.2 557.1,131.8 557.6,129.2 558.1,130.7 558.6,127.0 559.1,128.9 559.6,125.5 560.1,127.0 560.6,123.8 561.1,125.1 561.6,122.5 562.1,122.7 562.6,119.9 563.1,120.7 563.6,118.3 564.1,119.1 564.6,116.0 565.1,118.0 565.6,116.1 566.1,117.2 566.6,114.5 567.1,116.8 567.6,114.0 568.1,115.1 568.6,112.9 569.1,113.9 569.6,111.6 570.1,112.9 570.6,110.0 571.1,112.0 571.6,110.0 572.1,112.0 572.6,109.0 573.1,110.3 573.6,108.5 574.1,109.9 574.6,107.6 575.1,108.9 575.6,106.7 576.1,108.7 576.6,105.6 577.1,107.7 577.6,105.5 578.1,107.6 578.6,105.4 579.1,108.0 579.6,105.7 580.1,106.6 580.6,105.2 581.1,106.7 581.6,104.9 582.1,105.8 582.6,103.4 583.1,105.3 583.6,103.1 584.1,104.2 584.6,102.6 585.1,104.2 585.6,101.9 586.1,104.1 586.6,102.1 587.1,103.7 587.6,101.2 588.1,103.9 588.6,102.0 589.1,103.7 589.6,100.9 590.1,102.7 590.6,100.1 591.1,101.6 591.6,99.3 592.1,100.6 592.6,99.0 593.1,100.7 593.6,98.5 594.1,101.5 594.6,97.7 595.1,100.3 595.6,97.2 596.1,99.3 596.6,97.1 597.1,99.5 597.6,95.6 598.1,98.8 598.6,95.3 599.1,98.7 599.6,95.7 600.1,98.7 600.6,96.2 601.1,98.6 601.6,96.5 602.1,97.7 602.6,95.6 603.1,97.5 603.6,94.2 604.1,97.1 604.6,93.6 605.1,96.3 605.6,94.0 606.1,95.5 606.6,94.1 607.1,96.0 607.6,93.2 608.1,95.8 608.6,94.5 609.1,96.1 609.6,93.3 610.1,95.1 610.6,93.0 611.1,94.6 611.6,91.5 612.1,93.5 612.6,91.7 613.1,93.5 613.6,92.1 614.1,94.0 614.6,91.5 615.1,93.4 615.6,91.4 616.1,92.8 616.6,90.7 617.1,92.7 617.6,90.4 618.1,92.8 618.6,89.7 619.1,92.2 619.6,89.0 620.1,91.1 620.6,88.9 621.1,91.3 621.6,87.9 622.1,91.8 622.6,88.5 623.1,92.0 623.6,88.5 624.1,90.3 624.6,88.5 625.1,90.0 625.6,88.0 626.1,89.3 626.6,87.5 627.1,90.0 627.6,88.0 628.1,89.3 628.6,87.4 629.1,88.7 629.6,86.1 630.1,88.1 630.6,84.1 631.1,87.5 631.6,85.2 632.1,87.0 632.6,84.9 633.1,86.9 633.6,84.6 634.1,86.7 634.6,83.2 635.1,85.4 635.6,83.9 636.1,86.6 636.6,84.1 637.1,85.9 637.6,83.5 638.1,87.0 638.6,82.8 639.1,84.9 639.6,82.0 640.1,84.3 640.6,81.6 641.1,84.1 641.6,81.4 642.1,83.5 642.6,81.8 643.1,84.1 643.6,82.4 644.1,83.8 644.6,81.6 645.1,83.4 645.6,81.7 646.1,83.0 646.6,80.5 647.1,83.3 647.6,80.3 648.1,82.8 648.6,80.1 649.1,82.2 649.6,80.2 650.1,81.4 650.6,79.5 651.1,82.5 651.6,79.0 652.1,81.9 652.6,79.4 653.1,81.6 653.6,78.5 654.1,81.3 654.6,78.0 655.1,81.6 655.6,77.8 656.1,80.8 656.6,78.3 657.1,80.4 657.6,77.4 658.1,80.0 658.6,77.4 659.1,79.8 659.6,78.3 660.1,79.8 660.6,78.3 661.1,81.1 661.6,77.8 662.1,80.2 662.6,78.1 663.1,79.8 663.6,77.3 664.1,79.2 664.6,77.9 665.1,80.4 665.6,77.5 666.1,80.5 666.6,78.7 667.1,80.1 667.6,77.4 668.1,78.8 668.6,77.0 669.1,78.4 669.6,75.5 670.1,77.6 670.6,75.5 671.1,77.2 671.6,74.7 672.1,77.7 672.6,75.9 673.1,78.5 673.6,74.5 674.1,78.2 674.6,76.0 675.1,77.6 675.6,75.8 676.1,77.4 676.6,76.3 677.1,77.4 677.6,75.7 678.1,77.9 678.6,76.0 679.1,77.9 679.6,76.0 680.1,78.1 680.6,76.1 681.1,78.4 681.6,76.6 682.1,78.6 682.6,76.3 683.1,78.5 683.6,75.3 684.1,78.2 684.6,74.6 685.1,77.1 685.6,74.6 686.1,77.0 686.6,74.2 687.1,76.8 687.6,74.4 688.1,77.2 688.6,74.5 689.1,77.4 689.6,74.0 690.1,76.5 690.6,74.8 691.1,76.3 691.6,74.1 692.1,76.4 692.6,74.5 693.1,77.1 693.6,74.9 694.1,78.1 694.6,75.4 695.1,76.9 695.6,75.3 696.1,76.5 696.6,75.1 697.1,76.2 697.6,74.9 698.1,77.4 698.6,74.0 699.1,77.5 699.6,73.4 700.1,77.7 700.6,73.6 701.1,76.4 701.6,73.4 702.1,77.0 702.6,73.2 703.1,75.9 703.6,73.3 704.1,76.2 704.6,72.9 705.1,76.8 705.6,72.4 706.1,76.1 706.6,73.4 707.1,75.3 707.6,73.8 708.1,76.4 708.6,73.2 709.1,74.9 709.6,73.0 710.1,75.5 710.6,71.9 711.1,75.9 711.6,73.7 712.1,75.8 712.6,73.6 713.1,75.4 713.6,73.5 714.1,74.7 714.6,72.6 715.1,75.0 715.6,72.8 716.1,75.1 716.6,73.2 717.1,74.8 717.6,73.3 718.1,74.9 718.6,73.2 719.1,74.4 719.6,72.4 720.1,74.8 720.6,72.3 721.1,75.5 721.6,73.0 722.1,75.1 722.6,73.1 723.1,75.1 723.6,72.4 724.1,73.7 724.6,71.8 725.1,74.4 725.6,72.4 726.1,74.7 726.6,72.9 727.1,75.2 727.6,72.9 728.1,75.1 728.6,72.6 729.1,74.5 729.6,72.7 730.1,73.7 730.6,71.3 731.1,73.3 731.6,71.6 732.1,73.8 732.6,71.5 733.1,74.5 733.6,72.7 734.1,74.8 734.6,72.5 735.1,73.9 735.6,72.2 736.1,73.8 736.6,72.4 737.1,74.1 737.6,71.6 738.1,75.3 738.6,71.9 739.1,75.4 739.6,73.0 740.1,75.4 740.6,72.4 741.1,74.6 741.6,72.4 742.1,74.1 742.6,71.3 743.1,73.2 743.6,71.8 744.1,73.5 744.6,70.8 745.1,73.0 745.6,70.6 746.1,73.5 746.6,69.3 747.1,73.1 747.6,69.7 748.1,73.4 748.6,71.2 749.1,73.1 749.6,71.9 750.1,73.7 750.6,72.1 751.1,73.4 751.6,71.5 752.1,74.1 752.6,71.5 753.1,73.0 753.6,70.3 754.1,72.2 754.6,70.2 755.1,72.1 755.6,70.1 756.1,72.4 756.6,71.3 757.1,73.0 757.6,70.9 758.1,72.9 758.6,71.1 759.1,73.2 759.6,70.8 760.1,73.3 760.6,71.3 761.1,72.2 761.6,70.5 762.1,72.6 762.6,69.6 763.1,72.8 763.6,69.8 764.1,72.6 764.6,70.3 765.1,72.4 765.6,69.4 766.1,72.4 766.6,69.1 767.1,72.3 767.6,70.1 768.1,71.6 768.6,69.3 769.1,71.7 769.6,70.2 770.1,71.7 770.6,70.0 771.1,73.0 771.6,71.3 772.1,72.8 772.6,70.7 773.1,72.3 773.6,69.8 774.1,71.8 774.6,69.3 775.1,71.5 775.6,69.5 776.1,71.1 776.6,69.5 777.1,71.2 777.6,70.2 778.1,72.1 778.6,69.7 779.1,72.3 779.6,69.7 780.1,73.1 780.6,69.0 781.1,71.5 781.6,69.4 782.1,71.5 782.6,69.5 783.1,72.0 783.6,69.7 784.1,72.5 784.6,69.4 785.1,71.6 785.6,69.7 786.1,71.1 786.6,68.8 787.1,71.1 787.6,68.4 788.1,70.0 788.6,68.6 789.1,70.8 789.6,69.3 790.1,70.9 790.6,69.9 791.1,71.6 791.6,68.9 792.1,70.9 792.6,68.9 793.1,71.7 793.6,68.2 794.1,70.8 794.6,68.6 795.1,70.0 795.6,67.6 796.1,70.3 796.6,68.7 797.1,70.8 797.6,68.3 798.1,71.7 798.6,69.6 799.1,72.0 799.6,68.8 800.1,70.4 800.6,67.9 801.1,70.0 801.6,66.7 802.1,69.6 802.6,66.4 803.1,69.7 803.6,67.3 804.1,69.5 804.6,67.8 805.1,70.7 805.6,68.5 806.1,71.3 806.6,68.9 807.1,71.0 807.6,68.4 808.1,70.4 808.6,67.8 809.1,70.0 809.6,67.5 810.1,70.6 810.6,69.1 811.1,71.5 811.6,68.9 812.1,71.8 812.6,69.0 813.1,70.6 813.6,68.4" fill="none" stroke="#25848e" stroke-width="3.9" stroke-linejoin="round" stroke-linecap="square"/>
<polyline points="531.1,227.8 531.6,224.5 532.1,221.8 532.6,218.6 533.1,215.8 533.6,212.3 534.1,209.6 534.6,206.0 535.1,203.3 535.6,199.8 536.1,196.9 536.6,193.2 537.1,190.8 537.6,186.7 538.1,184.5 538.6,179.8 539.1,177.7 539.6,173.6 540.1,171.5 540.6,167.6 541.1,166.5 541.6,163.2 542.1,162.5 542.6,159.8 543.1,159.5 543.6,156.5 544.1,157.5 544.6,153.9 545.1,156.2 545.6,151.3 546.1,153.2 546.6,149.7 547.1,150.3 547.6,147.3 548.1,147.9 548.6,145.1 549.1,146.2 549.6,143.1 550.1,143.0 550.6,140.1 551.1,140.4 551.6,136.8 552.1,138.5 552.6,134.5 553.1,136.4 553.6,133.3 554.1,134.0 554.6,130.7 555.1,132.7 555.6,128.3 556.1,129.9 556.6,126.7 557.1,127.4 557.6,124.7 558.1,125.9 558.6,123.2 559.1,124.3 559.6,121.1 560.1,123.0 560.6,120.6 561.1,122.5 561.6,119.6 562.1,121.2 562.6,118.1 563.1,119.5 563.6,116.8 564.1,117.5 564.6,115.4 565.1,117.2 565.6,114.2 566.1,116.8 566.6,113.5 567.1,116.0 567.6,112.3 568.1,115.5 568.6,111.7 569.1,114.0 569.6,110.2 570.1,112.2 570.6,110.1 571.1,111.6 571.6,108.6 572.1,111.0 572.6,109.2 573.1,112.0 573.6,107.9 574.1,111.5 574.6,108.7 575.1,110.2 575.6,106.7 576.1,109.8 576.6,107.5 577.1,109.2 577.6,106.9 578.1,108.9 578.6,106.3 579.1,107.8 579.6,105.7 580.1,106.3 580.6,104.2 581.1,105.8 581.6,104.3 582.1,106.6 582.6,104.1 583.1,106.1 583.6,104.0 584.1,106.6 584.6,103.5 585.1,105.4 585.6,103.2 586.1,105.7 586.6,102.6 587.1,104.7 587.6,102.5 588.1,104.5 588.6,101.8 589.1,103.7 589.6,101.8 590.1,103.6 590.6,101.5 591.1,103.8 591.6,101.3 592.1,104.8 592.6,101.4 593.1,103.9 593.6,102.0 594.1,103.1 594.6,100.8 595.1,101.6 595.6,99.5 596.1,101.8 596.6,99.2 597.1,100.8 597.6,98.8 598.1,100.9 598.6,97.2 599.1,100.2 599.6,97.4 600.1,99.5 600.6,96.7 601.1,99.1 601.6,97.5 602.1,98.6 602.6,95.8 603.1,98.0 603.6,96.7 604.1,98.1 604.6,95.3 605.1,97.1 605.6,95.8 606.1,98.3 606.6,95.2 607.1,97.6 607.6,95.7 608.1,98.7 608.6,94.6 609.1,97.7 609.6,94.6 610.1,96.7 610.6,94.6 611.1,95.4 611.6,93.7 612.1,95.1 612.6,93.2 613.1,94.1 613.6,92.1 614.1,94.2 614.6,91.9 615.1,94.0 615.6,91.8 616.1,93.8 616.6,92.2 617.1,94.1 617.6,91.3 618.1,93.1 618.6,91.1 619.1,93.2 619.6,89.5 620.1,92.7 620.6,89.6 621.1,91.8 621.6,90.1 622.1,91.3 622.6,89.6 623.1,91.0 623.6,89.6 624.1,90.7 624.6,88.9 625.1,91.0 625.6,88.5 626.1,90.9 626.6,88.5 627.1,89.6 627.6,87.3 628.1,89.5 628.6,86.9 629.1,88.2 629.6,86.5 630.1,89.3 630.6,86.8 631.1,88.8 631.6,86.1 632.1,88.7 632.6,86.1 633.1,87.3 633.6,85.8 634.1,87.4 634.6,85.6 635.1,86.6 635.6,85.4 636.1,87.5 636.6,85.2 637.1,86.7 637.6,85.3 638.1,86.7 638.6,84.5 639.1,85.8 639.6,84.1 640.1,86.0 640.6,82.5 641.1,85.2 641.6,82.7 642.1,85.9 642.6,82.4 643.1,84.9 643.6,83.2 644.1,84.6 644.6,82.3 645.1,83.9 645.6,82.2 646.1,83.6 646.6,81.9 647.1,83.6 647.6,80.9 648.1,83.0 648.6,80.8 649.1,82.8 649.6,80.5 650.1,82.4 650.6,79.9 651.1,83.1 651.6,80.8 652.1,82.7 652.6,80.4 653.1,82.3 653.6,80.6 654.1,83.1 654.6,80.6 655.1,82.5 655.6,80.7 656.1,81.7 656.6,79.8 657.1,81.1 657.6,78.5 658.1,80.6 658.6,78.1 659.1,80.6 659.6,78.6 660.1,80.3 660.6,77.6 661.1,81.7 661.6,77.1 662.1,80.1 662.6,77.3 663.1,78.7 663.6,76.7 664.1,77.8 664.6,76.7 665.1,78.3 665.6,75.6 666.1,77.8 666.6,76.0 667.1,78.7 667.6,76.5 668.1,78.6 668.6,75.9 669.1,78.9 669.6,76.5 670.1,78.3 670.6,76.5 671.1,78.3 671.6,76.8 672.1,78.0 672.6,74.8 673.1,77.9 673.6,74.5 674.1,76.9 674.6,75.2 675.1,77.5 675.6,75.9 676.1,77.7 676.6,76.0 677.1,78.9 677.6,76.3 678.1,78.7 678.6,76.8 679.1,78.2 679.6,76.6 680.1,77.8 680.6,75.1 681.1,77.6 681.6,75.0 682.1,78.6 682.6,75.2 683.1,77.7 683.6,75.6 684.1,78.4 684.6,75.5 685.1,77.8 685.6,75.4 686.1,77.7 686.6,76.0 687.1,77.7 687.6,76.0 688.1,77.5 688.6,75.8 689.1,77.4 689.6,75.3 690.1,77.0 690.6,74.8 691.1,76.6 691.6,74.1 692.1,77.9 692.6,74.0 693.1,77.8 693.6,74.7 694.1,77.1 694.6,74.7 695.1,76.9 695.6,73.4 696.1,75.8 696.6,73.7 697.1,75.8 697.6,73.4 698.1,75.1 698.6,72.7 699.1,75.6 699.6,73.4 700.1,75.6 700.6,74.3 701.1,76.3 701.6,75.1 702.1,76.4 702.6,75.1 703.1,76.1 703.6,73.7 704.1,75.2 704.6,73.3 705.1,75.2 705.6,72.8 706.1,75.1 706.6,73.5 707.1,75.1 707.6,73.7 708.1,74.8 708.6,72.8 709.1,74.4 709.6,73.1 710.1,75.1 710.6,73.0 711.1,75.9 711.6,74.0 712.1,76.7 712.6,73.7 713.1,76.8 713.6,74.2 714.1,76.7 714.6,73.3 715.1,75.4 715.6,73.0 716.1,74.6 716.6,72.7 717.1,74.6 717.6,72.9 718.1,75.3 718.6,73.2 719.1,75.3 719.6,72.5 720.1,75.0 720.6,72.3 721.1,74.2 721.6,72.6 722.1,74.7 722.6,72.4 723.1,74.6 723.6,72.3 724.1,75.2 724.6,72.0 725.1,75.0 725.6,72.5 726.1,74.1 726.6,71.2 727.1,73.5 727.6,71.3 728.1,72.5 728.6,70.8 729.1,73.1 729.6,70.9 730.1,73.9 730.6,70.8 731.1,73.2 731.6,71.4 732.1,74.3 732.6,71.6 733.1,74.1 733.6,71.4 734.1,75.7 734.6,71.2 735.1,75.2 735.6,71.7 736.1,74.0 736.6,72.3 737.1,74.0 737.6,71.7 738.1,73.6 738.6,70.9 739.1,73.2 739.6,70.2 740.1,73.6 740.6,72.0 741.1,73.3 741.6,72.0 742.1,73.3 742.6,71.1 743.1,72.9 743.6,71.0 744.1,73.2 744.6,71.8 745.1,74.6 745.6,71.9 746.1,74.8 746.6,72.4 747.1,73.7 747.6,71.3 748.1,73.3 748.6,71.0 749.1,73.5 749.6,70.8 750.1,73.2 750.6,71.4 751.1,73.2 751.6,70.5 752.1,72.7 752.6,71.0 753.1,73.7 753.6,70.5 754.1,74.1 754.6,70.6 755.1,74.6 755.6,70.4 756.1,73.3 756.6,70.7 757.1,72.4 757.6,69.7 758.1,71.8 758.6,68.6 759.1,71.7 759.6,70.1 760.1,72.1 760.6,70.3 761.1,72.2 761.6,70.5 762.1,72.3 762.6,70.6 763.1,72.2 763.6,70.2 764.1,72.1 764.6,70.0 765.1,73.6 765.6,69.8 766.1,71.3 766.6,68.8 767.1,71.3 767.6,69.0 768.1,71.5 768.6,70.7 769.1,72.9 769.6,70.2 770.1,74.1 770.6,70.4 771.1,72.5 771.6,70.2 772.1,72.4 772.6,69.0 773.1,71.6 773.6,68.2 774.1,71.8 774.6,68.8 775.1,71.2 775.6,68.2 776.1,71.5 776.6,68.5 777.1,71.4 777.6,69.9 778.1,72.2 778.6,69.9 779.1,71.6 779.6,69.1 780.1,71.3 780.6,68.3 781.1,70.2 781.6,68.7 782.1,71.8 782.6,68.9 783.1,71.9 783.6,69.2 784.1,70.7 784.6,69.3 785.1,71.0 785.6,68.4 786.1,71.1 786.6,68.6 787.1,71.3 787.6,69.2 788.1,71.2 788.6,69.1 789.1,72.3 789.6,68.9 790.1,71.8 790.6,69.4 791.1,70.5 791.6,68.7 792.1,69.6 792.6,67.8 793.1,70.4 793.6,67.8 794.1,70.2 794.6,68.0 795.1,70.1 795.6,68.1 796.1,70.7 796.6,68.1 797.1,70.7 797.6,68.5 798.1,71.4 798.6,67.9 799.1,71.7 799.6,68.4 800.1,70.9 800.6,67.5 801.1,70.0 801.6,67.2 802.1,70.2 802.6,67.5 803.1,69.8 803.6,68.2 804.1,70.2 804.6,68.1 805.1,70.4 805.6,68.7 806.1,70.0 806.6,68.5 807.1,69.9 807.6,68.1 808.1,70.0 808.6,68.0 809.1,69.5 809.6,68.1 810.1,70.3 810.6,68.3 811.1,70.9 811.6,68.4 812.1,71.5 812.6,68.4 813.1,69.7 813.6,68.1" fill="none" stroke="#2fb47c" stroke-width="3.9" stroke-linejoin="round" stroke-linecap="square"/>
<polyline points="531.1,228.0 531.6,224.7 532.1,222.1 532.6,218.8 533.1,216.0 533.6,212.7 534.1,209.8 534.6,206.4 535.1,203.6 535.6,199.8 536.1,197.3 536.6,193.0 537.1,190.5 537.6,186.2 538.1,184.0 538.6,179.4 539.1,176.9 539.6,171.9 540.1,169.4 540.6,165.8 541.1,164.4 541.6,161.2 542.1,161.5 542.6,157.6 543.1,158.7 543.6,154.4 544.1,155.4 544.6,152.4 545.1,152.5 545.6,149.2 546.1,149.9 546.6,145.8 547.1,147.1 547.6,144.4 548.1,145.0 548.6,142.0 549.1,142.7 549.6,140.1 550.1,140.3 550.6,136.8 551.1,138.2 551.6,134.0 552.1,135.3 552.6,131.6 553.1,132.8 553.6,129.4 554.1,131.4 554.6,129.1 555.1,130.4 555.6,126.6 556.1,129.0 556.6,126.0 557.1,127.3 557.6,123.4 558.1,124.9 558.6,122.5 559.1,123.8 559.6,122.0 560.1,123.2 560.6,120.6 561.1,123.2 561.6,119.2 562.1,121.2 562.6,118.1 563.1,120.5 563.6,116.5 564.1,118.1 564.6,115.6 565.1,116.4 565.6,113.5 566.1,115.0 566.6,113.1 567.1,114.1 567.6,111.8 568.1,115.1 568.6,110.8 569.1,114.8 569.6,110.5 570.1,114.4 570.6,110.8 571.1,113.7 571.6,111.3 572.1,112.8 572.6,109.4 573.1,112.4 573.6,109.4 574.1,111.1 574.6,108.5 575.1,111.8 575.6,108.7 576.1,111.0 576.6,106.8 577.1,110.1 577.6,107.3 578.1,109.6 578.6,107.5 579.1,109.3 579.6,107.5 580.1,109.1 580.6,106.5 581.1,109.4 581.6,106.5 582.1,109.3 582.6,105.3 583.1,108.9 583.6,104.4 584.1,106.6 584.6,104.6 585.1,106.4 585.6,104.4 586.1,106.6 586.6,104.4 587.1,106.9 587.6,103.3 588.1,106.7 588.6,103.3 589.1,105.5 589.6,103.4 590.1,105.8 590.6,103.6 591.1,106.0 591.6,103.1 592.1,104.7 592.6,102.0 593.1,104.4 593.6,101.5 594.1,103.8 594.6,101.8 595.1,104.0 595.6,102.0 596.1,103.8 596.6,100.7 597.1,105.3 597.6,100.1 598.1,103.8 598.6,100.4 599.1,102.6 599.6,100.6 600.1,102.8 600.6,100.6 601.1,102.1 601.6,100.2 602.1,102.4 602.6,99.9 603.1,101.1 603.6,99.2 604.1,100.9 604.6,98.9 605.1,100.4 605.6,98.2 606.1,99.7 606.6,96.8 607.1,99.1 607.6,96.5 608.1,98.9 608.6,96.0 609.1,98.7 609.6,95.6 610.1,99.2 610.6,96.1 611.1,99.1 611.6,96.8 612.1,99.0 612.6,96.3 613.1,97.6 613.6,94.9 614.1,97.0 614.6,93.7 615.1,96.5 615.6,94.1 616.1,96.3 616.6,94.3 617.1,95.7 617.6,93.6 618.1,95.6 618.6,92.4 619.1,94.9 619.6,91.4 620.1,94.7 620.6,91.1 621.1,94.0 621.6,90.0 622.1,93.5 622.6,90.2 623.1,94.1 623.6,90.7 624.1,93.6 624.6,90.5 625.1,93.7 625.6,90.3 626.1,91.8 626.6,89.4 627.1,92.3 627.6,88.9 628.1,92.0 628.6,89.0 629.1,92.0 629.6,89.1 630.1,91.3 630.6,88.9 631.1,90.8 631.6,87.8 632.1,90.2 632.6,88.0 633.1,90.4 633.6,88.1 634.1,89.2 634.6,86.7 635.1,88.8 635.6,86.7 636.1,87.8 636.6,85.9 637.1,88.3 637.6,85.9 638.1,87.9 638.6,85.2 639.1,88.3 639.6,84.6 640.1,86.6 640.6,84.7 641.1,86.6 641.6,84.7 642.1,86.4 642.6,83.7 643.1,85.9 643.6,83.4 644.1,85.3 644.6,81.4 645.1,85.6 645.6,82.9 646.1,85.2 646.6,81.1 647.1,84.7 647.6,80.9 648.1,83.8 648.6,81.5 649.1,83.5 649.6,81.4 650.1,83.7 650.6,81.9 651.1,83.6 651.6,81.5 652.1,83.8 652.6,80.1 653.1,84.0 653.6,79.5 654.1,82.2 654.6,79.6 655.1,82.2 655.6,79.5 656.1,82.1 656.6,78.5 657.1,81.2 657.6,78.0 658.1,79.9 658.6,78.3 659.1,80.6 659.6,77.8 660.1,80.6 660.6,79.0 661.1,80.8 661.6,78.3 662.1,80.4 662.6,78.0 663.1,80.6 663.6,77.8 664.1,80.0 664.6,78.2 665.1,79.8 665.6,77.4 666.1,80.5 666.6,76.6 667.1,81.2 667.6,75.9 668.1,79.8 668.6,77.1 669.1,79.4 669.6,76.0 670.1,78.5 670.6,76.0 671.1,77.9 671.6,75.0 672.1,77.1 672.6,75.8 673.1,77.3 673.6,75.7 674.1,77.4 674.6,76.1 675.1,77.9 675.6,76.0 676.1,78.6 676.6,76.2 677.1,78.2 677.6,76.2 678.1,79.8 678.6,75.9 679.1,79.3 679.6,76.1 680.1,79.3 680.6,76.4 681.1,77.7 681.6,75.0 682.1,78.4 682.6,73.9 683.1,78.8 683.6,73.4 684.1,79.1 684.6,75.9 685.1,78.0 685.6,75.6 686.1,79.1 686.6,74.1 687.1,78.5 687.6,73.7 688.1,77.4 688.6,75.4 689.1,77.8 689.6,74.8 690.1,77.4 690.6,75.9 691.1,77.6 691.6,75.2 692.1,77.7 692.6,74.2 693.1,78.2 693.6,74.8 694.1,77.7 694.6,74.6 695.1,78.7 695.6,74.4 696.1,77.8 696.6,73.7 697.1,76.2 697.6,74.4 698.1,75.8 698.6,73.7 699.1,75.8 699.6,74.1 700.1,76.4 700.6,73.0 701.1,76.1 701.6,72.7 702.1,75.2 702.6,73.8 703.1,75.6 703.6,73.2 704.1,75.6 704.6,73.3 705.1,75.3 705.6,73.2 706.1,75.5 706.6,73.6 707.1,75.4 707.6,74.4 708.1,76.2 708.6,73.1 709.1,75.4 709.6,73.6 710.1,75.0 710.6,72.9 711.1,75.5 711.6,72.9 712.1,76.7 712.6,71.9 713.1,76.3 713.6,72.0 714.1,74.0 714.6,71.9 715.1,74.2 715.6,72.5 716.1,74.1 716.6,72.3 717.1,75.4 717.6,72.8 718.1,75.6 718.6,73.2 719.1,75.8 719.6,72.1 720.1,74.9 720.6,72.4 721.1,75.4 721.6,72.8 722.1,75.3 722.6,73.2 723.1,75.5 723.6,72.5 724.1,75.5 724.6,72.6 725.1,75.2 725.6,72.3 726.1,75.5 726.6,71.8 727.1,74.7 727.6,72.2 728.1,73.8 728.6,70.8 729.1,74.4 729.6,71.0 730.1,74.3 730.6,70.9 731.1,74.1 731.6,72.0 732.1,73.7 732.6,71.5 733.1,73.7 733.6,71.5 734.1,74.6 734.6,71.1 735.1,73.6 735.6,71.8 736.1,73.6 736.6,71.9 737.1,74.7 737.6,72.2 738.1,75.0 738.6,71.1 739.1,74.9 739.6,72.0 740.1,74.7 740.6,71.5 741.1,74.2 741.6,73.6 742.1,75.3 742.6,72.3 743.1,74.4 743.6,72.0 744.1,73.2 744.6,70.5 745.1,73.6 745.6,70.1 746.1,73.5 746.6,70.3 747.1,72.8 747.6,70.6 748.1,72.9 748.6,71.3 749.1,73.8 749.6,70.4 750.1,73.2 750.6,71.0 751.1,72.6 751.6,69.8 752.1,72.9 752.6,70.5 753.1,73.0 753.6,70.3 754.1,73.3 754.6,71.3 755.1,72.9 755.6,70.6 756.1,71.7 756.6,69.2 757.1,71.8 757.6,68.1 758.1,71.9 758.6,69.4 759.1,72.0 759.6,69.8 760.1,72.2 760.6,70.7 761.1,72.5 761.6,69.7 762.1,72.0 762.6,69.0 763.1,72.1 763.6,68.5 764.1,71.2 764.6,69.4 765.1,71.7 765.6,69.0 766.1,72.4 766.6,69.0 767.1,72.1 767.6,69.3 768.1,72.2 768.6,67.9 769.1,71.4 769.6,68.5 770.1,71.4 770.6,68.7 771.1,72.1 771.6,68.6 772.1,70.9 772.6,69.3 773.1,71.2 773.6,68.6 774.1,71.4 774.6,68.9 775.1,71.6 775.6,69.4 776.1,72.6 776.6,69.4 777.1,72.9 777.6,69.9 778.1,71.9 778.6,69.4 779.1,70.9 779.6,69.2 780.1,70.8 780.6,68.1 781.1,70.5 781.6,69.0 782.1,71.2 782.6,68.5 783.1,71.0 783.6,67.8 784.1,72.3 784.6,68.1 785.1,72.1 785.6,68.2 786.1,72.2 786.6,68.5 787.1,72.2 787.6,68.7 788.1,72.2 788.6,69.8 789.1,72.2 789.6,69.3 790.1,71.8 790.6,70.3 791.1,71.6 791.6,68.6 792.1,71.0 792.6,68.3 793.1,70.0 793.6,67.7 794.1,70.4 794.6,68.4 795.1,70.6 795.6,67.8 796.1,71.8 796.6,66.8 797.1,71.4 797.6,67.6 798.1,70.5 798.6,67.0 799.1,71.5 799.6,67.6 800.1,71.7 800.6,68.8 801.1,71.8 801.6,69.1 802.1,71.4 802.6,67.5 803.1,71.0 803.6,67.8 804.1,70.4 804.6,67.9 805.1,70.6 805.6,69.5 806.1,70.8 806.6,68.8 807.1,70.1 807.6,68.2 808.1,69.6 808.6,67.4 809.1,70.0 809.6,67.8 810.1,71.1 810.6,67.4 811.1,71.7 811.6,67.8 812.1,70.1 812.6,67.7 813.1,69.7 813.6,67.7" fill="none" stroke="#9bd93c" stroke-width="3.9" stroke-linejoin="round" stroke-linecap="square"/>
</g>
<path d="M530.80,228.3v9.6M672.05,228.3v9.6M813.30,228.3v9.6M517.3,228.30h-9.6M517.3,190.45h-9.6M517.3,152.60h-9.6M517.3,114.75h-9.6M517.3,76.90h-9.6M517.3,39.05h-9.6" stroke="#000" stroke-width="2.2" fill="none"/>
<rect x="517.3" y="39.05" width="310.6" height="189.25" fill="none" stroke="#000" stroke-width="2.4000000000000004"/>
<text x="499.1" y="238.0" font-size="26.0" text-anchor="end">0.0</text>
<text x="499.1" y="200.2" font-size="26.0" text-anchor="end">0.2</text>
<text x="499.1" y="162.3" font-size="26.0" text-anchor="end">0.4</text>
<text x="499.1" y="124.5" font-size="26.0" text-anchor="end">0.6</text>
<text x="499.1" y="86.6" font-size="26.0" text-anchor="end">0.8</text>
<text x="499.1" y="48.8" font-size="26.0" text-anchor="end">1.0</text>
<text x="530.4" y="266.7" font-size="26.0" text-anchor="middle">0</text>
<text x="671.6" y="266.7" font-size="26.0" text-anchor="middle">2.5M</text>
<text x="812.9" y="266.7" font-size="26.0" text-anchor="middle">5M</text>
<text x="672.6" y="301.2" font-size="26.0" letter-spacing="-0.1" text-anchor="middle">Samples</text>
<text x="672.6" y="24.1" font-size="31.2" letter-spacing="-0.14" text-anchor="middle">Für Elise</text>
<text transform="translate(442.2,134.1) rotate(-90)" font-size="26.0" text-anchor="middle">F1</text>
<path d="M80.4,358.1h42.6" stroke="#9bd93c" stroke-width="4.2" fill="none"/>
<text x="134.0" y="367.0" font-size="26.0">0.84</text>
<path d="M219.9,358.1h42.6" stroke="#2fb47c" stroke-width="4.2" fill="none"/>
<text x="273.5" y="367.0" font-size="26.0">0.88</text>
<path d="M359.4,358.1h42.6" stroke="#25848e" stroke-width="4.2" fill="none"/>
<text x="413.0" y="367.0" font-size="26.0">0.92</text>
<path d="M498.9,358.1h42.6" stroke="#3b528b" stroke-width="4.2" fill="none"/>
<text x="552.5" y="367.0" font-size="26.0">0.96</text>
<path d="M638.4,358.1h42.6" stroke="#471365" stroke-width="4.2" fill="none"/>
<text x="692.0" y="367.0" font-size="26.0">0.99</text>
</svg>
</body></html>
